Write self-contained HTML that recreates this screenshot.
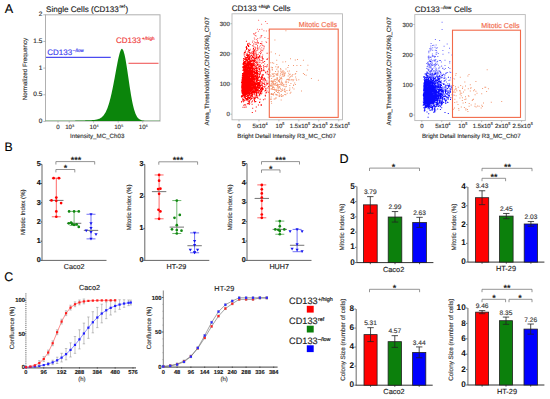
<!DOCTYPE html>
<html><head><meta charset="utf-8"><style>
html,body{margin:0;padding:0;background:#fff;width:550px;height:399px;overflow:hidden}
svg{display:block;font-family:"Liberation Sans", sans-serif}
text{text-rendering:geometricPrecision}
</style></head><body>
<svg width="550" height="399" viewBox="0 0 550 399" font-family='"Liberation Sans", sans-serif'>
<rect width="550" height="399" fill="#fff"/>
<text x="4.70" y="12.60" font-size="12.6" text-anchor="start" font-weight="normal" fill="#000" stroke="#000" stroke-width="0.14" >A</text>
<text x="4.50" y="150.90" font-size="12.3" text-anchor="start" font-weight="normal" fill="#000" stroke="#000" stroke-width="0.14" >B</text>
<text x="4.30" y="280.90" font-size="12.4" text-anchor="start" font-weight="normal" fill="#000" stroke="#000" stroke-width="0.14" >C</text>
<text x="339.60" y="162.90" font-size="12.6" text-anchor="start" font-weight="normal" fill="#000" stroke="#000" stroke-width="0.14" >D</text>
<rect x="45.50" y="14.80" width="114.50" height="106.30" fill="none" stroke="#b0b0b0" stroke-width="1" />
<text x="46.00" y="11.50" font-size="8.1" text-anchor="start" font-weight="normal" fill="#222" stroke="#222" stroke-width="0.14" >Single Cells (CD133</text>
<text x="119.60" y="8.40" font-size="4.6" text-anchor="start" font-weight="normal" fill="#222" stroke="#222" stroke-width="0.15" >ref</text>
<text x="125.60" y="11.50" font-size="8.1" text-anchor="start" font-weight="normal" fill="#222" stroke="#222" stroke-width="0.14" >)</text>
<line x1="43.30" y1="121.40" x2="45.50" y2="121.40" stroke="#999" stroke-width="0.7" />
<text x="42.40" y="123.00" font-size="6.5" text-anchor="end" font-weight="normal" fill="#333" stroke="#333" stroke-width="0.18" >0</text>
<line x1="43.30" y1="94.75" x2="45.50" y2="94.75" stroke="#999" stroke-width="0.7" />
<text x="42.40" y="96.35" font-size="6.5" text-anchor="end" font-weight="normal" fill="#333" stroke="#333" stroke-width="0.18" >0.5</text>
<line x1="43.30" y1="68.10" x2="45.50" y2="68.10" stroke="#999" stroke-width="0.7" />
<text x="42.40" y="69.70" font-size="6.5" text-anchor="end" font-weight="normal" fill="#333" stroke="#333" stroke-width="0.18" >1</text>
<line x1="43.30" y1="41.45" x2="45.50" y2="41.45" stroke="#999" stroke-width="0.7" />
<text x="42.40" y="43.05" font-size="6.5" text-anchor="end" font-weight="normal" fill="#333" stroke="#333" stroke-width="0.18" >1.5</text>
<line x1="43.30" y1="14.80" x2="45.50" y2="14.80" stroke="#999" stroke-width="0.7" />
<text x="42.40" y="16.40" font-size="6.5" text-anchor="end" font-weight="normal" fill="#333" stroke="#333" stroke-width="0.18" >2</text>
<line x1="58.00" y1="121.10" x2="58.00" y2="122.60" stroke="#999" stroke-width="0.7" />
<text x="58.00" y="129.30" font-size="6.2" text-anchor="middle" font-weight="normal" fill="#333" stroke="#333" stroke-width="0.14" >0</text>
<line x1="69.20" y1="121.10" x2="69.20" y2="122.60" stroke="#999" stroke-width="0.7" />
<text x="68.60" y="129.30" font-size="6.2" text-anchor="middle" font-weight="normal" fill="#333" stroke="#333" stroke-width="0.14" >10</text>
<text x="72.20" y="126.60" font-size="3.6" text-anchor="start" font-weight="normal" fill="#333" stroke="#333" stroke-width="0.1" >3</text>
<line x1="93.60" y1="121.10" x2="93.60" y2="122.60" stroke="#999" stroke-width="0.7" />
<text x="93.00" y="129.30" font-size="6.2" text-anchor="middle" font-weight="normal" fill="#333" stroke="#333" stroke-width="0.14" >10</text>
<text x="96.60" y="126.60" font-size="3.6" text-anchor="start" font-weight="normal" fill="#333" stroke="#333" stroke-width="0.1" >4</text>
<line x1="118.20" y1="121.10" x2="118.20" y2="122.60" stroke="#999" stroke-width="0.7" />
<text x="117.60" y="129.30" font-size="6.2" text-anchor="middle" font-weight="normal" fill="#333" stroke="#333" stroke-width="0.14" >10</text>
<text x="121.20" y="126.60" font-size="3.6" text-anchor="start" font-weight="normal" fill="#333" stroke="#333" stroke-width="0.1" >5</text>
<line x1="142.80" y1="121.10" x2="142.80" y2="122.60" stroke="#999" stroke-width="0.7" />
<text x="142.20" y="129.30" font-size="6.2" text-anchor="middle" font-weight="normal" fill="#333" stroke="#333" stroke-width="0.14" >10</text>
<text x="145.80" y="126.60" font-size="3.6" text-anchor="start" font-weight="normal" fill="#333" stroke="#333" stroke-width="0.1" >6</text>
<text x="97.20" y="138.00" font-size="6.2" text-anchor="middle" font-weight="normal" fill="#333" stroke="#333" stroke-width="0.14" >Intensity_MC_Ch03</text>
<text x="0" y="0" font-size="6.2" text-anchor="middle" font-weight="normal" fill="#333" stroke="#333" stroke-width="0.14" transform="translate(25.50,69.00) rotate(-90)" dominant-baseline="central">Normalized Frequency</text>
<path d="M45.50,121.10 L45.50,120.76 L46.00,120.76 L46.50,120.76 L47.00,120.76 L47.50,120.76 L48.00,120.76 L48.50,120.76 L49.00,120.76 L49.50,120.76 L50.00,120.76 L50.50,120.76 L51.00,120.76 L51.50,120.76 L52.00,120.76 L52.50,120.76 L53.00,120.76 L53.50,120.76 L54.00,120.76 L54.50,120.76 L55.00,120.76 L55.50,120.76 L56.00,120.76 L56.50,120.76 L57.00,120.76 L57.50,120.76 L58.00,120.76 L58.50,120.76 L59.00,120.75 L59.50,120.75 L60.00,120.75 L60.50,120.75 L61.00,120.75 L61.50,120.75 L62.00,120.75 L62.50,120.75 L63.00,120.75 L63.50,120.74 L64.00,120.74 L64.50,120.74 L65.00,120.74 L65.50,120.73 L66.00,120.73 L66.50,120.73 L67.00,120.73 L67.50,120.72 L68.00,120.72 L68.50,120.71 L69.00,120.71 L69.50,120.70 L70.00,120.70 L70.50,120.69 L71.00,120.69 L71.50,120.68 L72.00,120.68 L72.50,120.67 L73.00,120.66 L73.50,120.65 L74.00,120.65 L74.50,120.64 L75.00,120.63 L75.50,120.62 L76.00,120.61 L76.50,120.60 L77.00,120.59 L77.50,120.58 L78.00,120.56 L78.50,120.55 L79.00,120.54 L79.50,120.53 L80.00,120.52 L80.50,120.50 L81.00,120.49 L81.50,120.48 L82.00,120.46 L82.50,120.45 L83.00,120.43 L83.50,120.42 L84.00,120.41 L84.50,120.39 L85.00,120.38 L85.50,120.36 L86.00,120.35 L86.50,120.33 L87.00,120.32 L87.50,120.30 L88.00,120.28 L88.50,120.27 L89.00,120.25 L89.50,120.23 L90.00,120.21 L90.50,120.19 L91.00,120.17 L91.50,120.14 L92.00,120.11 L92.50,120.08 L93.00,120.05 L93.50,120.01 L94.00,119.96 L94.50,119.91 L95.00,119.85 L95.50,119.78 L96.00,119.70 L96.50,119.60 L97.00,119.49 L97.50,119.37 L98.00,119.23 L98.50,119.06 L99.00,118.87 L99.50,118.65 L100.00,118.41 L100.50,118.12 L101.00,117.80 L101.50,117.44 L102.00,117.03 L102.50,116.56 L103.00,116.04 L103.50,115.46 L104.00,114.81 L104.50,114.08 L105.00,113.28 L105.50,112.39 L106.00,111.42 L106.50,110.35 L107.00,109.18 L107.50,107.91 L108.00,106.52 L108.50,105.03 L109.00,103.42 L109.50,101.70 L110.00,99.86 L110.50,97.91 L111.00,95.84 L111.50,93.65 L112.00,91.37 L112.50,88.98 L113.00,86.50 L113.50,83.95 L114.00,81.32 L114.50,78.65 L115.00,75.93 L115.50,73.20 L116.00,70.48 L116.50,67.78 L117.00,65.13 L117.50,62.57 L118.00,60.12 L118.50,57.81 L119.00,55.67 L119.50,53.74 L120.00,52.06 L120.50,50.67 L121.00,49.61 L121.50,48.96 L122.00,48.84 L122.50,49.19 L123.00,49.94 L123.50,51.10 L124.00,52.64 L124.50,54.55 L125.00,56.80 L125.50,59.35 L126.00,62.16 L126.50,65.20 L127.00,68.40 L127.50,71.74 L128.00,75.15 L128.50,78.59 L129.00,82.02 L129.50,85.40 L130.00,88.70 L130.50,91.87 L131.00,94.90 L131.50,97.76 L132.00,100.43 L132.50,102.92 L133.00,105.20 L133.50,107.28 L134.00,109.15 L134.50,110.84 L135.00,112.33 L135.50,113.65 L136.00,114.80 L136.50,115.79 L137.00,116.65 L137.50,117.38 L138.00,118.00 L138.50,118.53 L139.00,118.96 L139.50,119.32 L140.00,119.62 L140.50,119.86 L141.00,120.05 L141.50,120.21 L142.00,120.33 L142.50,120.43 L143.00,120.51 L143.50,120.57 L144.00,120.62 L144.50,120.65 L145.00,120.68 L145.50,120.70 L146.00,120.72 L146.50,120.73 L147.00,120.74 L147.50,120.74 L148.00,120.75 L148.50,120.75 L149.00,120.75 L149.50,120.76 L150.00,120.76 L150.50,120.76 L151.00,120.76 L151.50,120.76 L152.00,120.76 L152.50,120.76 L153.00,120.76 L153.50,120.76 L154.00,120.76 L154.50,120.76 L155.00,120.76 L155.50,120.76 L156.00,120.76 L156.50,120.76 L157.00,120.76 L157.50,120.76 L158.00,120.76 L158.50,120.76 L159.00,120.76 L159.50,120.76 L160.00,120.76 L160.00,121.10 Z" fill="#0b850b" stroke="none"/>
<line x1="46.00" y1="57.40" x2="110.70" y2="57.40" stroke="#4b4bf0" stroke-width="1.1" />
<line x1="128.50" y1="63.30" x2="158.50" y2="63.30" stroke="#f05a5a" stroke-width="1.1" />
<text x="47.20" y="54.70" font-size="8.0" text-anchor="start" font-weight="normal" fill="#3a3aee" stroke="#3a3aee" stroke-width="0.14" >CD133</text>
<text x="72.80" y="52.30" font-size="4.65" text-anchor="start" font-weight="normal" fill="#3a3aee" stroke="#3a3aee" stroke-width="0.2" >&#8211;/low</text>
<text x="116.00" y="42.70" font-size="8.0" text-anchor="start" font-weight="normal" fill="#f03a3a" stroke="#f03a3a" stroke-width="0.14" >CD133</text>
<text x="142.10" y="40.00" font-size="4.55" text-anchor="start" font-weight="normal" fill="#f03a3a" stroke="#f03a3a" stroke-width="0.2" >+/high</text>
<rect x="232.00" y="13.80" width="110.50" height="106.00" fill="none" stroke="#b8b8b8" stroke-width="0.9" />
<line x1="230.40" y1="114.20" x2="232.00" y2="114.20" stroke="#999" stroke-width="0.6" />
<text x="229.80" y="116.30" font-size="6.1" text-anchor="end" font-weight="normal" fill="#333" stroke="#333" stroke-width="0.14" >0</text>
<line x1="230.40" y1="84.03" x2="232.00" y2="84.03" stroke="#999" stroke-width="0.6" />
<text x="229.80" y="86.13" font-size="6.1" text-anchor="end" font-weight="normal" fill="#333" stroke="#333" stroke-width="0.14" >100</text>
<line x1="230.40" y1="53.86" x2="232.00" y2="53.86" stroke="#999" stroke-width="0.6" />
<text x="229.80" y="55.96" font-size="6.1" text-anchor="end" font-weight="normal" fill="#333" stroke="#333" stroke-width="0.14" >200</text>
<line x1="230.40" y1="23.69" x2="232.00" y2="23.69" stroke="#999" stroke-width="0.6" />
<text x="229.80" y="25.79" font-size="6.1" text-anchor="end" font-weight="normal" fill="#333" stroke="#333" stroke-width="0.14" >300</text>
<line x1="239.00" y1="119.80" x2="239.00" y2="121.40" stroke="#999" stroke-width="0.6" />
<text x="239.00" y="127.60" font-size="6.0" text-anchor="middle" font-weight="normal" fill="#333" stroke="#333" stroke-width="0.14" >0</text>
<line x1="258.95" y1="119.80" x2="258.95" y2="121.40" stroke="#999" stroke-width="0.6" />
<text x="258.95" y="127.60" font-size="6.0" text-anchor="middle" font-weight="normal" fill="#333" stroke="#333" stroke-width="0.14" >5x10</text>
<text x="265.55" y="125.00" font-size="3.8" text-anchor="start" font-weight="normal" fill="#333" stroke="#333" stroke-width="0.12" >4</text>
<line x1="278.90" y1="119.80" x2="278.90" y2="121.40" stroke="#999" stroke-width="0.6" />
<text x="278.90" y="127.60" font-size="6.0" text-anchor="middle" font-weight="normal" fill="#333" stroke="#333" stroke-width="0.14" >10</text>
<text x="282.34" y="125.00" font-size="3.8" text-anchor="start" font-weight="normal" fill="#333" stroke="#333" stroke-width="0.12" >5</text>
<line x1="298.85" y1="119.80" x2="298.85" y2="121.40" stroke="#999" stroke-width="0.6" />
<text x="298.85" y="127.60" font-size="6.0" text-anchor="middle" font-weight="normal" fill="#333" stroke="#333" stroke-width="0.14" >1.5x10</text>
<text x="307.96" y="125.00" font-size="3.8" text-anchor="start" font-weight="normal" fill="#333" stroke="#333" stroke-width="0.12" >5</text>
<line x1="318.80" y1="119.80" x2="318.80" y2="121.40" stroke="#999" stroke-width="0.6" />
<text x="318.80" y="127.60" font-size="6.0" text-anchor="middle" font-weight="normal" fill="#333" stroke="#333" stroke-width="0.14" >2x10</text>
<text x="325.40" y="125.00" font-size="3.8" text-anchor="start" font-weight="normal" fill="#333" stroke="#333" stroke-width="0.12" >5</text>
<line x1="338.75" y1="119.80" x2="338.75" y2="121.40" stroke="#999" stroke-width="0.6" />
<text x="338.75" y="127.60" font-size="6.0" text-anchor="middle" font-weight="normal" fill="#333" stroke="#333" stroke-width="0.14" >2.5x10</text>
<text x="347.86" y="125.00" font-size="3.8" text-anchor="start" font-weight="normal" fill="#333" stroke="#333" stroke-width="0.12" >5</text>
<text x="237.30" y="138.00" font-size="6.15" text-anchor="start" font-weight="normal" fill="#333" stroke="#333" stroke-width="0.14" >Bright Detail Intensity R3_MC_Ch07</text>
<text x="0" y="0" font-size="6.15" text-anchor="middle" font-weight="normal" fill="#333" stroke="#333" stroke-width="0.14" transform="translate(207.00,71.30) rotate(-90)" dominant-baseline="central">Area_Threshold(M07,Ch07,50%)_Ch07</text>
<path d="M250.6 53.3h1v1h-1zM245.1 70.7h1v1h-1zM245.8 82.9h1v1h-1zM253.2 76.2h1v1h-1zM242.4 91.8h1v1h-1zM241.8 82.9h1v1h-1zM252.3 87.3h1v1h-1zM249.3 68.2h1v1h-1zM254.7 97.3h1v1h-1zM245.6 81.3h1v1h-1zM248.7 60.7h1v1h-1zM242.6 91.1h1v1h-1zM246.2 81.3h1v1h-1zM243.3 85.4h1v1h-1zM244.1 95.3h1v1h-1zM244.2 87.3h1v1h-1zM247.9 77.8h1v1h-1zM246.2 76.7h1v1h-1zM254.1 61.0h1v1h-1zM244.5 91.7h1v1h-1zM251.2 76.6h1v1h-1zM246.8 87.9h1v1h-1zM245.2 64.3h1v1h-1zM245.0 83.1h1v1h-1zM251.3 86.9h1v1h-1zM242.3 78.7h1v1h-1zM261.6 79.0h1v1h-1zM244.8 71.9h1v1h-1zM241.5 92.1h1v1h-1zM246.7 86.6h1v1h-1zM246.6 83.8h1v1h-1zM251.7 70.5h1v1h-1zM252.2 83.6h1v1h-1zM246.0 81.3h1v1h-1zM247.0 75.7h1v1h-1zM258.9 87.7h1v1h-1zM252.7 71.8h1v1h-1zM252.6 77.7h1v1h-1zM255.8 78.5h1v1h-1zM252.3 69.2h1v1h-1zM254.9 74.9h1v1h-1zM241.4 87.4h1v1h-1zM244.8 77.0h1v1h-1zM253.8 74.1h1v1h-1zM260.9 69.6h1v1h-1zM247.0 68.5h1v1h-1zM262.5 89.0h1v1h-1zM244.0 88.1h1v1h-1zM244.8 78.6h1v1h-1zM263.7 70.2h1v1h-1zM254.7 82.3h1v1h-1zM243.5 82.4h1v1h-1zM245.5 68.1h1v1h-1zM243.0 61.6h1v1h-1zM246.4 84.7h1v1h-1zM251.6 87.8h1v1h-1zM242.8 86.5h1v1h-1zM245.7 53.4h1v1h-1zM250.4 88.6h1v1h-1zM253.2 74.9h1v1h-1zM255.1 86.8h1v1h-1zM251.1 64.3h1v1h-1zM246.4 95.3h1v1h-1zM251.2 67.7h1v1h-1zM242.4 96.3h1v1h-1zM246.2 84.6h1v1h-1zM255.3 87.7h1v1h-1zM244.7 89.8h1v1h-1zM249.6 79.4h1v1h-1zM247.4 62.8h1v1h-1zM263.9 86.4h1v1h-1zM251.0 76.6h1v1h-1zM243.3 63.5h1v1h-1zM247.3 81.6h1v1h-1zM244.1 61.2h1v1h-1zM245.3 82.7h1v1h-1zM247.8 59.1h1v1h-1zM244.3 88.0h1v1h-1zM252.2 76.4h1v1h-1zM243.3 88.7h1v1h-1zM247.8 85.2h1v1h-1zM249.6 91.3h1v1h-1zM250.6 68.8h1v1h-1zM257.2 67.7h1v1h-1zM243.9 77.2h1v1h-1zM245.2 88.4h1v1h-1zM245.1 60.8h1v1h-1zM241.5 88.7h1v1h-1zM243.2 99.8h1v1h-1zM250.5 63.1h1v1h-1zM242.0 85.4h1v1h-1zM250.4 83.6h1v1h-1zM257.3 86.4h1v1h-1zM249.3 96.7h1v1h-1zM248.1 94.4h1v1h-1zM244.3 83.0h1v1h-1zM259.6 98.8h1v1h-1zM252.0 83.6h1v1h-1zM261.2 43.3h1v1h-1zM247.3 83.5h1v1h-1zM253.1 91.0h1v1h-1zM248.3 66.8h1v1h-1zM255.0 74.9h1v1h-1zM256.0 92.9h1v1h-1zM242.2 83.6h1v1h-1zM249.1 87.0h1v1h-1zM251.1 85.5h1v1h-1zM251.8 78.6h1v1h-1zM252.3 67.4h1v1h-1zM252.8 86.7h1v1h-1zM241.6 79.6h1v1h-1zM242.2 92.6h1v1h-1zM243.7 68.4h1v1h-1zM247.9 45.8h1v1h-1zM255.3 85.0h1v1h-1zM243.2 86.4h1v1h-1zM250.9 65.1h1v1h-1zM245.8 74.6h1v1h-1zM259.1 69.0h1v1h-1zM244.9 94.5h1v1h-1zM259.0 75.5h1v1h-1zM250.6 79.2h1v1h-1zM245.0 94.0h1v1h-1zM242.4 83.6h1v1h-1zM252.1 79.3h1v1h-1zM253.5 85.1h1v1h-1zM246.8 83.5h1v1h-1zM244.3 69.5h1v1h-1zM247.6 93.0h1v1h-1zM251.1 68.5h1v1h-1zM247.7 90.5h1v1h-1zM242.7 84.3h1v1h-1zM254.1 78.1h1v1h-1zM253.0 86.9h1v1h-1zM255.4 84.5h1v1h-1zM255.4 86.7h1v1h-1zM254.7 87.9h1v1h-1zM247.8 98.4h1v1h-1zM246.9 70.9h1v1h-1zM246.6 86.8h1v1h-1zM247.6 75.7h1v1h-1zM251.6 59.6h1v1h-1zM244.8 72.5h1v1h-1zM249.3 81.4h1v1h-1zM249.9 83.7h1v1h-1zM252.6 88.4h1v1h-1zM257.3 82.9h1v1h-1zM250.2 65.6h1v1h-1zM248.0 74.1h1v1h-1zM266.6 52.8h1v1h-1zM252.3 97.4h1v1h-1zM261.4 60.0h1v1h-1zM243.9 90.0h1v1h-1zM245.6 92.5h1v1h-1zM242.4 85.7h1v1h-1zM243.1 83.8h1v1h-1zM245.0 80.0h1v1h-1zM245.5 82.8h1v1h-1zM245.9 87.0h1v1h-1zM250.0 82.8h1v1h-1zM247.0 82.5h1v1h-1zM245.4 84.5h1v1h-1zM248.5 82.1h1v1h-1zM254.9 83.2h1v1h-1zM245.2 85.9h1v1h-1zM252.2 87.9h1v1h-1zM261.7 74.4h1v1h-1zM242.9 80.3h1v1h-1zM248.4 89.5h1v1h-1zM258.8 87.2h1v1h-1zM244.5 94.6h1v1h-1zM243.8 90.1h1v1h-1zM246.0 80.0h1v1h-1zM246.6 85.0h1v1h-1zM247.8 70.1h1v1h-1zM250.3 87.5h1v1h-1zM246.9 80.7h1v1h-1zM253.7 74.9h1v1h-1zM255.7 88.8h1v1h-1zM247.8 61.9h1v1h-1zM244.2 73.6h1v1h-1zM247.4 79.8h1v1h-1zM243.5 73.7h1v1h-1zM242.6 87.8h1v1h-1zM249.2 87.7h1v1h-1zM246.2 85.4h1v1h-1zM246.2 84.9h1v1h-1zM244.6 62.6h1v1h-1zM251.5 85.6h1v1h-1zM248.5 57.3h1v1h-1zM250.0 72.9h1v1h-1zM247.4 43.0h1v1h-1zM245.0 83.1h1v1h-1zM246.1 85.2h1v1h-1zM250.8 75.2h1v1h-1zM251.0 76.4h1v1h-1zM250.3 77.9h1v1h-1zM246.9 103.3h1v1h-1zM248.4 87.3h1v1h-1zM250.5 82.5h1v1h-1zM246.3 80.5h1v1h-1zM248.4 69.6h1v1h-1zM257.7 73.0h1v1h-1zM247.8 97.3h1v1h-1zM249.6 81.1h1v1h-1zM242.3 87.8h1v1h-1zM256.2 75.2h1v1h-1zM243.0 75.8h1v1h-1zM249.0 92.1h1v1h-1zM246.1 66.4h1v1h-1zM256.4 93.6h1v1h-1zM243.3 77.8h1v1h-1zM248.3 49.5h1v1h-1zM249.8 70.8h1v1h-1zM248.5 90.3h1v1h-1zM244.3 97.1h1v1h-1zM249.5 68.5h1v1h-1zM252.1 87.4h1v1h-1zM242.2 81.7h1v1h-1zM267.1 70.7h1v1h-1zM254.2 97.9h1v1h-1zM245.8 87.0h1v1h-1zM244.1 84.7h1v1h-1zM253.0 83.9h1v1h-1zM245.8 69.3h1v1h-1zM252.8 76.5h1v1h-1zM248.6 72.5h1v1h-1zM245.5 92.4h1v1h-1zM242.8 85.0h1v1h-1zM250.0 82.2h1v1h-1zM248.3 88.5h1v1h-1zM244.1 90.5h1v1h-1zM247.1 75.1h1v1h-1zM264.6 65.9h1v1h-1zM251.6 80.3h1v1h-1zM248.8 84.0h1v1h-1zM250.8 58.3h1v1h-1zM249.2 78.1h1v1h-1zM246.6 64.7h1v1h-1zM244.4 72.3h1v1h-1zM242.8 92.2h1v1h-1zM254.0 81.8h1v1h-1zM242.4 86.7h1v1h-1zM242.1 86.5h1v1h-1zM248.1 102.8h1v1h-1zM247.6 98.8h1v1h-1zM250.1 81.4h1v1h-1zM246.3 88.9h1v1h-1zM242.4 76.7h1v1h-1zM254.2 88.8h1v1h-1zM247.1 84.6h1v1h-1zM246.4 83.1h1v1h-1zM244.6 72.7h1v1h-1zM248.9 70.6h1v1h-1zM246.9 83.4h1v1h-1zM242.1 74.9h1v1h-1zM247.1 86.9h1v1h-1zM243.9 80.5h1v1h-1zM257.4 89.5h1v1h-1zM247.0 89.0h1v1h-1zM246.1 82.9h1v1h-1zM243.7 89.5h1v1h-1zM245.2 90.2h1v1h-1zM243.7 91.4h1v1h-1zM247.3 78.8h1v1h-1zM246.7 68.5h1v1h-1zM252.0 83.7h1v1h-1zM253.3 82.5h1v1h-1zM245.4 74.5h1v1h-1zM247.3 86.8h1v1h-1zM243.3 76.9h1v1h-1zM244.4 73.3h1v1h-1zM243.3 62.1h1v1h-1zM243.0 75.1h1v1h-1zM241.7 82.3h1v1h-1zM254.0 72.3h1v1h-1zM252.0 77.7h1v1h-1zM260.0 53.2h1v1h-1zM248.6 67.0h1v1h-1zM246.9 89.9h1v1h-1zM245.6 58.1h1v1h-1zM253.6 98.9h1v1h-1zM250.3 78.3h1v1h-1zM246.2 92.3h1v1h-1zM248.4 50.7h1v1h-1zM252.9 68.4h1v1h-1zM249.3 49.7h1v1h-1zM245.8 72.2h1v1h-1zM249.4 79.9h1v1h-1zM243.9 83.6h1v1h-1zM249.1 87.8h1v1h-1zM255.0 84.0h1v1h-1zM257.5 76.3h1v1h-1zM250.4 88.4h1v1h-1zM248.3 63.6h1v1h-1zM252.3 64.1h1v1h-1zM247.5 90.1h1v1h-1zM246.7 75.4h1v1h-1zM246.9 68.9h1v1h-1zM245.5 82.8h1v1h-1zM247.0 84.2h1v1h-1zM247.1 43.9h1v1h-1zM243.3 81.9h1v1h-1zM248.7 80.5h1v1h-1zM242.7 87.7h1v1h-1zM247.4 87.4h1v1h-1zM242.4 81.8h1v1h-1zM262.8 74.2h1v1h-1zM242.4 74.3h1v1h-1zM256.7 88.7h1v1h-1zM241.3 85.4h1v1h-1zM260.2 91.8h1v1h-1zM247.2 82.7h1v1h-1zM243.0 84.6h1v1h-1zM257.7 42.5h1v1h-1zM244.7 92.4h1v1h-1zM252.8 83.5h1v1h-1zM246.1 73.8h1v1h-1zM243.7 72.3h1v1h-1zM249.9 85.2h1v1h-1zM243.1 94.8h1v1h-1zM249.2 80.3h1v1h-1zM249.7 82.5h1v1h-1zM247.3 87.1h1v1h-1zM246.0 73.8h1v1h-1zM246.9 78.2h1v1h-1zM252.2 86.6h1v1h-1zM268.9 84.6h1v1h-1zM249.1 92.8h1v1h-1zM248.1 88.4h1v1h-1zM248.4 64.3h1v1h-1zM243.0 67.3h1v1h-1zM251.6 74.8h1v1h-1zM245.9 87.2h1v1h-1zM247.2 89.3h1v1h-1zM244.8 91.3h1v1h-1zM259.4 81.0h1v1h-1zM254.8 96.8h1v1h-1zM248.1 88.4h1v1h-1zM252.4 84.2h1v1h-1zM258.6 88.1h1v1h-1zM257.7 86.9h1v1h-1zM248.7 56.6h1v1h-1zM251.7 95.2h1v1h-1zM244.4 81.3h1v1h-1zM245.9 89.3h1v1h-1zM251.3 82.7h1v1h-1zM248.3 90.5h1v1h-1zM246.6 90.9h1v1h-1zM247.2 74.0h1v1h-1zM245.3 61.3h1v1h-1zM248.2 85.5h1v1h-1zM247.4 69.4h1v1h-1zM265.1 72.2h1v1h-1zM256.6 76.7h1v1h-1zM245.5 89.7h1v1h-1zM245.6 85.3h1v1h-1zM243.5 82.3h1v1h-1zM247.5 90.2h1v1h-1zM249.9 88.3h1v1h-1zM244.0 67.3h1v1h-1zM246.6 78.6h1v1h-1zM243.3 62.1h1v1h-1zM246.7 72.2h1v1h-1zM261.8 88.8h1v1h-1zM248.3 85.0h1v1h-1zM244.6 81.9h1v1h-1zM247.5 76.8h1v1h-1zM260.4 81.5h1v1h-1zM244.1 71.6h1v1h-1zM245.2 56.8h1v1h-1zM251.0 75.0h1v1h-1zM242.3 82.2h1v1h-1zM250.2 90.3h1v1h-1zM243.8 94.4h1v1h-1zM247.3 91.5h1v1h-1zM260.9 90.0h1v1h-1zM244.0 78.8h1v1h-1zM243.2 86.3h1v1h-1zM249.0 82.8h1v1h-1zM245.7 75.2h1v1h-1zM248.5 94.5h1v1h-1zM249.9 77.9h1v1h-1zM244.7 82.8h1v1h-1zM245.3 75.8h1v1h-1zM241.3 90.5h1v1h-1zM251.2 92.7h1v1h-1zM251.5 82.5h1v1h-1zM244.2 65.6h1v1h-1zM259.2 82.1h1v1h-1zM254.3 72.9h1v1h-1zM246.0 85.8h1v1h-1zM252.1 79.1h1v1h-1zM256.2 78.4h1v1h-1zM242.6 99.7h1v1h-1zM256.9 78.9h1v1h-1zM246.5 75.7h1v1h-1zM243.8 75.6h1v1h-1zM250.4 80.0h1v1h-1zM243.0 67.5h1v1h-1zM253.4 87.1h1v1h-1zM251.3 77.0h1v1h-1zM244.9 69.5h1v1h-1zM251.6 68.6h1v1h-1zM250.9 80.3h1v1h-1zM245.6 72.1h1v1h-1zM250.6 92.9h1v1h-1zM251.2 70.2h1v1h-1zM246.0 66.9h1v1h-1zM245.8 84.5h1v1h-1zM245.7 65.3h1v1h-1zM250.8 91.9h1v1h-1zM254.0 91.4h1v1h-1zM264.9 79.8h1v1h-1zM250.6 70.9h1v1h-1zM248.7 81.9h1v1h-1zM245.4 86.2h1v1h-1zM264.4 90.5h1v1h-1zM255.8 95.4h1v1h-1zM245.2 94.1h1v1h-1zM247.5 70.6h1v1h-1zM256.6 69.5h1v1h-1zM250.4 84.2h1v1h-1zM242.6 85.7h1v1h-1zM250.5 80.0h1v1h-1zM243.2 72.0h1v1h-1zM259.4 71.4h1v1h-1zM245.1 72.3h1v1h-1zM248.7 89.5h1v1h-1zM253.0 47.9h1v1h-1zM247.3 69.1h1v1h-1zM248.8 101.4h1v1h-1zM251.9 77.0h1v1h-1zM243.2 90.3h1v1h-1zM261.9 87.0h1v1h-1zM244.1 61.9h1v1h-1zM247.1 71.0h1v1h-1zM254.3 71.5h1v1h-1zM243.7 85.7h1v1h-1zM258.9 76.3h1v1h-1zM249.9 76.0h1v1h-1zM244.9 73.3h1v1h-1zM254.3 71.5h1v1h-1zM242.7 93.3h1v1h-1zM246.5 83.7h1v1h-1zM247.0 90.1h1v1h-1zM258.9 83.5h1v1h-1zM252.0 69.9h1v1h-1zM248.9 82.6h1v1h-1zM254.9 88.7h1v1h-1zM243.9 76.8h1v1h-1zM248.5 77.1h1v1h-1zM248.0 49.2h1v1h-1zM243.3 88.8h1v1h-1zM251.2 61.0h1v1h-1zM249.0 83.2h1v1h-1zM252.9 51.2h1v1h-1zM251.3 90.7h1v1h-1zM244.5 79.4h1v1h-1zM247.2 95.4h1v1h-1zM244.0 84.1h1v1h-1zM259.4 87.6h1v1h-1zM248.3 82.7h1v1h-1zM248.5 84.2h1v1h-1zM252.1 64.5h1v1h-1zM248.2 95.0h1v1h-1zM264.2 84.0h1v1h-1zM249.1 100.6h1v1h-1zM244.8 88.1h1v1h-1zM243.0 93.3h1v1h-1zM250.1 67.1h1v1h-1zM252.5 76.2h1v1h-1zM247.9 82.1h1v1h-1zM247.6 83.5h1v1h-1zM248.8 97.0h1v1h-1zM246.3 87.1h1v1h-1zM263.3 68.5h1v1h-1zM259.3 92.5h1v1h-1zM245.8 71.7h1v1h-1zM242.5 81.1h1v1h-1zM245.9 98.1h1v1h-1zM257.2 78.9h1v1h-1zM242.4 91.1h1v1h-1zM258.5 91.1h1v1h-1zM248.8 92.7h1v1h-1zM242.2 75.2h1v1h-1zM257.9 83.6h1v1h-1zM245.9 93.5h1v1h-1zM246.6 69.6h1v1h-1zM247.5 65.4h1v1h-1zM248.8 78.4h1v1h-1zM244.4 82.2h1v1h-1zM242.4 79.6h1v1h-1zM247.4 84.7h1v1h-1zM246.0 48.1h1v1h-1zM257.2 85.3h1v1h-1zM245.1 98.0h1v1h-1zM250.4 70.9h1v1h-1zM250.0 86.3h1v1h-1zM255.5 83.6h1v1h-1zM249.2 69.2h1v1h-1zM249.9 65.0h1v1h-1zM245.3 84.9h1v1h-1zM243.4 83.1h1v1h-1zM252.7 81.5h1v1h-1zM243.2 68.2h1v1h-1zM247.1 90.5h1v1h-1zM248.7 85.1h1v1h-1zM245.8 86.0h1v1h-1zM249.2 81.3h1v1h-1zM258.9 86.7h1v1h-1zM247.2 75.2h1v1h-1zM248.0 74.4h1v1h-1zM248.1 92.3h1v1h-1zM247.2 84.2h1v1h-1zM253.7 75.7h1v1h-1zM244.7 94.3h1v1h-1zM247.5 89.3h1v1h-1zM251.7 80.4h1v1h-1zM250.8 87.3h1v1h-1zM247.1 81.6h1v1h-1zM250.7 83.0h1v1h-1zM252.1 59.5h1v1h-1zM246.1 91.1h1v1h-1zM245.4 92.5h1v1h-1zM252.6 73.8h1v1h-1zM245.6 82.1h1v1h-1zM248.2 88.7h1v1h-1zM250.5 90.6h1v1h-1zM245.7 82.2h1v1h-1zM245.8 76.6h1v1h-1zM252.9 89.7h1v1h-1zM266.6 83.2h1v1h-1zM242.8 83.8h1v1h-1zM245.2 85.6h1v1h-1zM254.5 96.6h1v1h-1zM248.5 84.6h1v1h-1zM251.5 86.0h1v1h-1zM246.0 65.7h1v1h-1zM247.9 89.1h1v1h-1zM244.2 79.2h1v1h-1zM246.7 85.5h1v1h-1zM242.2 98.2h1v1h-1zM254.2 83.9h1v1h-1zM253.5 78.3h1v1h-1zM251.1 71.0h1v1h-1zM245.0 83.3h1v1h-1zM251.0 88.9h1v1h-1zM249.2 82.7h1v1h-1zM252.9 82.3h1v1h-1zM248.9 63.0h1v1h-1zM251.0 65.6h1v1h-1zM259.3 83.9h1v1h-1zM262.4 87.8h1v1h-1zM256.3 97.0h1v1h-1zM247.1 55.5h1v1h-1zM250.0 72.9h1v1h-1zM245.9 40.8h1v1h-1zM257.2 89.9h1v1h-1zM244.0 88.6h1v1h-1zM248.3 77.6h1v1h-1zM251.3 73.6h1v1h-1zM246.2 93.5h1v1h-1zM245.2 91.2h1v1h-1zM241.9 88.8h1v1h-1zM243.9 82.6h1v1h-1zM246.0 83.9h1v1h-1zM251.6 86.5h1v1h-1zM244.2 81.7h1v1h-1zM244.9 94.7h1v1h-1zM244.4 79.7h1v1h-1zM263.6 77.5h1v1h-1zM247.7 72.8h1v1h-1zM243.7 65.3h1v1h-1zM242.1 77.8h1v1h-1zM246.2 81.2h1v1h-1zM249.0 86.3h1v1h-1zM250.7 77.6h1v1h-1zM244.3 81.1h1v1h-1zM252.2 76.6h1v1h-1zM241.9 81.2h1v1h-1zM263.8 77.6h1v1h-1zM245.5 85.8h1v1h-1zM244.4 82.9h1v1h-1zM246.8 86.8h1v1h-1zM249.1 90.6h1v1h-1zM244.3 92.7h1v1h-1zM254.7 87.3h1v1h-1zM245.5 87.8h1v1h-1zM247.1 84.7h1v1h-1zM244.8 61.4h1v1h-1zM251.4 87.0h1v1h-1zM251.4 72.4h1v1h-1zM247.3 88.2h1v1h-1zM253.3 65.2h1v1h-1zM248.6 75.1h1v1h-1zM245.6 76.5h1v1h-1zM244.4 87.7h1v1h-1zM241.0 96.5h1v1h-1zM242.5 93.4h1v1h-1zM248.7 80.9h1v1h-1zM246.0 89.7h1v1h-1zM256.6 76.4h1v1h-1zM251.7 90.1h1v1h-1zM249.7 63.7h1v1h-1zM250.7 73.1h1v1h-1zM241.7 90.7h1v1h-1zM243.3 85.3h1v1h-1zM251.7 70.8h1v1h-1zM257.9 88.5h1v1h-1zM241.5 80.2h1v1h-1zM250.2 69.0h1v1h-1zM252.2 72.3h1v1h-1zM248.1 83.8h1v1h-1zM248.0 71.1h1v1h-1zM247.6 69.5h1v1h-1zM247.6 84.7h1v1h-1zM248.0 85.7h1v1h-1zM241.4 86.2h1v1h-1zM243.9 75.9h1v1h-1zM253.5 82.0h1v1h-1zM251.7 77.0h1v1h-1zM242.3 78.1h1v1h-1zM251.3 85.8h1v1h-1zM252.4 86.7h1v1h-1zM246.4 77.4h1v1h-1zM249.1 82.6h1v1h-1zM245.3 78.2h1v1h-1zM257.0 88.5h1v1h-1zM254.2 93.5h1v1h-1zM244.0 84.6h1v1h-1zM252.5 84.4h1v1h-1zM251.4 91.7h1v1h-1zM251.2 101.4h1v1h-1zM254.3 60.4h1v1h-1zM248.1 64.5h1v1h-1zM260.7 66.3h1v1h-1zM247.0 94.4h1v1h-1zM259.6 79.5h1v1h-1zM246.9 85.4h1v1h-1zM244.2 63.5h1v1h-1zM246.5 60.1h1v1h-1zM246.3 73.0h1v1h-1zM252.3 82.9h1v1h-1zM242.7 83.5h1v1h-1zM241.5 85.8h1v1h-1zM247.7 80.5h1v1h-1zM246.6 83.9h1v1h-1zM250.7 75.7h1v1h-1zM247.6 78.8h1v1h-1zM254.5 56.4h1v1h-1zM254.3 68.4h1v1h-1zM256.0 68.0h1v1h-1zM258.8 87.0h1v1h-1zM243.8 83.5h1v1h-1zM247.9 84.0h1v1h-1zM246.5 77.7h1v1h-1zM240.9 95.7h1v1h-1zM245.3 84.3h1v1h-1zM253.4 78.6h1v1h-1zM245.1 84.6h1v1h-1zM243.5 90.5h1v1h-1zM247.0 81.1h1v1h-1zM256.9 81.5h1v1h-1zM243.9 83.0h1v1h-1zM243.4 85.9h1v1h-1zM259.0 69.1h1v1h-1zM249.8 64.6h1v1h-1zM246.8 73.5h1v1h-1zM243.7 62.3h1v1h-1zM247.6 85.2h1v1h-1zM241.8 82.7h1v1h-1zM251.2 79.2h1v1h-1zM244.1 86.0h1v1h-1zM248.2 81.0h1v1h-1zM261.2 70.5h1v1h-1zM244.0 100.2h1v1h-1zM246.4 73.9h1v1h-1zM242.9 73.7h1v1h-1zM253.4 53.6h1v1h-1zM242.2 82.4h1v1h-1zM247.2 84.9h1v1h-1zM246.2 93.9h1v1h-1zM245.3 83.3h1v1h-1zM242.0 80.0h1v1h-1zM256.6 90.4h1v1h-1zM255.4 90.7h1v1h-1zM251.6 57.3h1v1h-1zM242.2 88.7h1v1h-1zM253.1 57.6h1v1h-1zM248.8 83.2h1v1h-1zM244.7 82.7h1v1h-1zM242.8 80.9h1v1h-1zM249.5 99.4h1v1h-1zM246.3 88.9h1v1h-1zM248.0 85.8h1v1h-1zM243.4 79.2h1v1h-1zM252.3 67.7h1v1h-1zM244.7 83.5h1v1h-1zM247.4 70.5h1v1h-1zM245.7 67.4h1v1h-1zM244.9 87.7h1v1h-1zM245.2 83.5h1v1h-1zM248.5 94.5h1v1h-1zM249.5 78.1h1v1h-1zM252.8 75.7h1v1h-1zM245.3 71.7h1v1h-1zM262.9 99.3h1v1h-1zM251.2 72.4h1v1h-1zM255.6 89.8h1v1h-1zM255.2 59.7h1v1h-1zM243.6 68.9h1v1h-1zM259.7 90.4h1v1h-1zM251.5 62.4h1v1h-1zM254.2 83.5h1v1h-1zM241.6 90.2h1v1h-1zM246.7 79.9h1v1h-1zM243.0 62.6h1v1h-1zM263.2 66.7h1v1h-1zM259.5 59.8h1v1h-1zM242.5 67.3h1v1h-1zM245.4 90.0h1v1h-1zM245.9 81.3h1v1h-1zM250.5 70.4h1v1h-1zM246.6 65.5h1v1h-1zM251.1 83.6h1v1h-1zM244.0 61.0h1v1h-1zM250.4 94.9h1v1h-1zM246.3 47.4h1v1h-1zM247.3 77.5h1v1h-1zM245.2 104.4h1v1h-1zM253.8 72.7h1v1h-1zM250.8 83.6h1v1h-1zM255.5 76.7h1v1h-1zM248.4 77.4h1v1h-1zM243.2 91.5h1v1h-1zM246.1 84.4h1v1h-1zM246.5 67.8h1v1h-1zM246.4 87.1h1v1h-1zM242.4 82.2h1v1h-1zM244.9 79.2h1v1h-1zM261.6 88.6h1v1h-1zM242.1 78.4h1v1h-1zM244.8 93.8h1v1h-1zM255.5 85.9h1v1h-1zM242.2 99.4h1v1h-1zM243.0 75.8h1v1h-1zM248.5 73.3h1v1h-1zM242.3 90.1h1v1h-1zM245.2 87.6h1v1h-1zM242.6 63.1h1v1h-1zM254.9 90.8h1v1h-1zM248.6 82.9h1v1h-1zM242.8 87.3h1v1h-1zM255.4 85.9h1v1h-1zM242.8 83.3h1v1h-1zM252.9 75.4h1v1h-1zM251.1 82.6h1v1h-1zM245.8 84.0h1v1h-1zM242.3 75.5h1v1h-1zM261.8 85.3h1v1h-1zM247.6 67.3h1v1h-1zM248.7 42.7h1v1h-1zM268.1 85.9h1v1h-1zM253.8 78.3h1v1h-1zM243.9 78.7h1v1h-1zM247.9 82.8h1v1h-1zM244.6 69.4h1v1h-1zM251.5 91.8h1v1h-1zM243.8 93.4h1v1h-1zM253.5 65.1h1v1h-1zM248.5 72.0h1v1h-1zM242.9 73.1h1v1h-1zM242.3 76.3h1v1h-1zM250.6 82.8h1v1h-1zM245.4 83.2h1v1h-1zM266.2 82.4h1v1h-1zM247.2 71.5h1v1h-1zM245.9 81.1h1v1h-1zM256.8 82.7h1v1h-1zM262.9 74.6h1v1h-1zM250.8 92.3h1v1h-1zM251.1 74.5h1v1h-1zM246.7 90.4h1v1h-1zM251.3 65.6h1v1h-1zM251.7 62.6h1v1h-1zM243.9 75.3h1v1h-1zM250.6 88.3h1v1h-1zM244.4 78.3h1v1h-1zM249.8 66.6h1v1h-1zM249.2 70.8h1v1h-1zM250.1 80.1h1v1h-1zM248.2 64.1h1v1h-1zM249.0 80.3h1v1h-1zM247.7 73.5h1v1h-1zM257.1 70.3h1v1h-1zM251.8 62.8h1v1h-1zM255.0 76.0h1v1h-1zM249.8 73.9h1v1h-1zM254.8 82.6h1v1h-1zM248.0 85.4h1v1h-1zM243.9 81.9h1v1h-1zM249.8 84.7h1v1h-1zM259.4 77.1h1v1h-1zM245.3 92.4h1v1h-1zM242.6 76.8h1v1h-1zM244.9 80.1h1v1h-1zM251.2 86.6h1v1h-1zM248.1 58.1h1v1h-1zM247.8 84.4h1v1h-1zM247.2 86.0h1v1h-1zM250.6 73.8h1v1h-1zM242.3 81.7h1v1h-1zM242.3 76.0h1v1h-1zM242.3 82.9h1v1h-1zM264.5 79.7h1v1h-1zM247.2 77.3h1v1h-1zM245.1 73.1h1v1h-1zM243.1 79.3h1v1h-1zM249.1 92.5h1v1h-1zM257.1 75.2h1v1h-1zM250.5 65.3h1v1h-1zM257.9 77.0h1v1h-1zM253.3 63.1h1v1h-1zM257.6 42.2h1v1h-1zM243.1 82.2h1v1h-1zM244.2 95.9h1v1h-1zM260.7 90.0h1v1h-1zM257.9 77.0h1v1h-1zM246.0 90.3h1v1h-1zM247.1 90.3h1v1h-1zM247.3 83.1h1v1h-1zM249.1 63.3h1v1h-1zM243.1 87.1h1v1h-1zM249.4 72.2h1v1h-1zM252.0 100.6h1v1h-1zM241.4 83.3h1v1h-1zM242.5 95.1h1v1h-1zM249.1 85.8h1v1h-1zM243.2 73.4h1v1h-1zM251.2 80.6h1v1h-1zM248.8 64.0h1v1h-1zM268.3 74.3h1v1h-1zM250.1 83.7h1v1h-1zM254.6 61.4h1v1h-1zM249.1 64.3h1v1h-1zM254.7 76.3h1v1h-1zM248.2 76.2h1v1h-1zM257.5 90.0h1v1h-1zM248.0 90.6h1v1h-1zM250.4 79.4h1v1h-1zM248.5 88.4h1v1h-1zM245.7 81.5h1v1h-1zM261.3 83.5h1v1h-1zM247.4 75.9h1v1h-1zM245.6 81.8h1v1h-1zM250.7 81.8h1v1h-1zM247.5 84.8h1v1h-1zM246.1 56.9h1v1h-1zM252.1 70.5h1v1h-1zM248.4 100.4h1v1h-1zM252.0 87.5h1v1h-1zM248.4 81.5h1v1h-1zM243.7 91.0h1v1h-1zM255.9 91.6h1v1h-1zM251.4 83.7h1v1h-1zM244.1 88.0h1v1h-1zM247.6 74.5h1v1h-1zM247.6 76.8h1v1h-1zM246.5 85.6h1v1h-1zM254.6 98.2h1v1h-1zM251.4 77.5h1v1h-1zM242.0 73.1h1v1h-1zM253.6 76.8h1v1h-1zM247.9 76.3h1v1h-1zM245.1 80.4h1v1h-1zM246.1 88.8h1v1h-1zM244.7 74.6h1v1h-1zM247.1 63.0h1v1h-1zM243.0 78.5h1v1h-1zM249.6 75.0h1v1h-1zM241.8 95.4h1v1h-1zM247.7 83.8h1v1h-1zM243.1 76.3h1v1h-1zM255.7 92.0h1v1h-1zM244.0 82.0h1v1h-1zM245.8 80.3h1v1h-1zM248.9 78.4h1v1h-1zM250.8 70.8h1v1h-1zM253.8 80.5h1v1h-1zM253.6 71.3h1v1h-1zM245.2 73.0h1v1h-1zM245.3 77.5h1v1h-1zM248.6 81.3h1v1h-1zM247.3 79.7h1v1h-1zM249.3 79.1h1v1h-1zM248.7 65.8h1v1h-1zM259.1 82.6h1v1h-1zM245.5 65.0h1v1h-1zM244.2 85.2h1v1h-1zM248.2 90.0h1v1h-1zM248.7 77.7h1v1h-1zM255.8 80.2h1v1h-1zM243.2 84.8h1v1h-1zM252.2 85.3h1v1h-1zM243.4 63.9h1v1h-1zM243.3 75.3h1v1h-1zM255.0 74.8h1v1h-1zM246.0 86.9h1v1h-1zM264.3 81.4h1v1h-1zM250.4 85.2h1v1h-1zM258.3 66.8h1v1h-1zM249.9 61.3h1v1h-1zM243.2 64.4h1v1h-1zM255.3 91.9h1v1h-1zM253.5 77.7h1v1h-1zM256.0 80.0h1v1h-1zM242.3 89.5h1v1h-1zM242.4 89.3h1v1h-1zM247.3 61.5h1v1h-1zM251.4 90.7h1v1h-1zM242.5 82.8h1v1h-1zM244.0 78.8h1v1h-1zM250.8 87.4h1v1h-1zM257.0 73.8h1v1h-1zM256.4 75.4h1v1h-1zM259.0 101.9h1v1h-1zM253.6 61.1h1v1h-1zM247.0 91.6h1v1h-1zM249.6 88.5h1v1h-1zM241.3 85.7h1v1h-1zM257.9 83.3h1v1h-1zM258.8 89.9h1v1h-1zM249.6 86.4h1v1h-1zM254.1 58.3h1v1h-1zM243.7 81.0h1v1h-1zM242.8 73.8h1v1h-1zM243.0 101.3h1v1h-1zM248.4 67.1h1v1h-1zM255.0 71.9h1v1h-1zM247.6 83.3h1v1h-1zM252.2 77.1h1v1h-1zM242.5 91.6h1v1h-1zM249.7 82.9h1v1h-1zM242.9 74.0h1v1h-1zM244.0 93.5h1v1h-1zM244.6 96.6h1v1h-1zM252.3 86.4h1v1h-1zM251.3 91.1h1v1h-1zM247.9 56.3h1v1h-1zM245.8 69.9h1v1h-1zM243.1 57.9h1v1h-1zM248.2 80.2h1v1h-1zM249.0 84.8h1v1h-1zM246.5 82.2h1v1h-1zM245.9 58.4h1v1h-1zM249.1 79.9h1v1h-1zM254.9 71.9h1v1h-1zM253.0 91.4h1v1h-1zM245.0 73.1h1v1h-1zM252.1 77.7h1v1h-1zM249.9 63.2h1v1h-1zM251.6 85.5h1v1h-1zM249.2 81.0h1v1h-1zM260.5 87.9h1v1h-1zM245.4 71.5h1v1h-1zM248.7 87.1h1v1h-1zM251.2 77.5h1v1h-1zM245.6 99.5h1v1h-1zM245.6 93.3h1v1h-1zM242.9 87.6h1v1h-1zM248.3 46.0h1v1h-1zM246.1 81.0h1v1h-1zM249.6 44.0h1v1h-1zM241.9 78.7h1v1h-1zM248.9 80.9h1v1h-1zM248.2 85.1h1v1h-1zM244.4 86.2h1v1h-1zM245.9 84.9h1v1h-1zM244.0 83.9h1v1h-1zM251.6 92.9h1v1h-1zM251.6 76.5h1v1h-1zM247.8 86.2h1v1h-1zM244.9 80.0h1v1h-1zM243.4 98.7h1v1h-1zM242.3 82.8h1v1h-1zM243.4 90.2h1v1h-1zM245.5 89.5h1v1h-1zM247.6 64.3h1v1h-1zM258.0 56.4h1v1h-1zM260.5 85.0h1v1h-1zM245.1 89.8h1v1h-1zM245.1 89.6h1v1h-1zM244.3 86.4h1v1h-1zM244.2 88.2h1v1h-1zM241.8 89.6h1v1h-1zM243.0 59.7h1v1h-1zM246.0 85.9h1v1h-1zM243.7 75.3h1v1h-1zM254.9 82.6h1v1h-1zM252.2 107.8h1v1h-1zM245.3 77.7h1v1h-1zM256.1 87.3h1v1h-1zM248.8 52.0h1v1h-1zM242.9 82.9h1v1h-1zM244.3 70.8h1v1h-1zM244.0 81.5h1v1h-1zM244.5 68.1h1v1h-1zM256.4 67.2h1v1h-1zM245.9 93.1h1v1h-1zM250.5 84.8h1v1h-1zM241.8 80.3h1v1h-1zM248.1 79.2h1v1h-1zM256.2 70.1h1v1h-1zM247.3 92.8h1v1h-1zM257.2 76.4h1v1h-1zM255.8 95.1h1v1h-1zM249.7 52.4h1v1h-1zM244.9 88.3h1v1h-1zM246.9 74.4h1v1h-1zM242.8 74.8h1v1h-1zM248.9 84.0h1v1h-1zM244.8 84.2h1v1h-1zM246.4 79.4h1v1h-1zM250.1 82.2h1v1h-1zM256.1 75.9h1v1h-1zM250.3 87.6h1v1h-1zM242.0 86.2h1v1h-1zM251.9 80.7h1v1h-1zM242.6 87.4h1v1h-1zM266.9 83.4h1v1h-1zM248.4 64.0h1v1h-1zM247.3 69.9h1v1h-1zM246.0 67.2h1v1h-1zM244.6 61.5h1v1h-1zM250.1 60.2h1v1h-1zM246.8 67.1h1v1h-1zM246.6 93.4h1v1h-1zM251.7 72.7h1v1h-1zM251.8 112.1h1v1h-1zM243.4 79.5h1v1h-1zM258.3 87.6h1v1h-1zM241.5 84.6h1v1h-1zM243.4 72.6h1v1h-1zM243.5 82.9h1v1h-1zM252.6 86.5h1v1h-1zM255.8 82.4h1v1h-1zM258.6 95.3h1v1h-1zM250.9 77.8h1v1h-1zM266.4 90.6h1v1h-1zM244.7 83.4h1v1h-1zM247.7 100.8h1v1h-1zM253.7 68.7h1v1h-1zM247.2 61.7h1v1h-1zM256.3 78.9h1v1h-1zM256.9 40.5h1v1h-1zM254.6 83.1h1v1h-1zM263.9 83.6h1v1h-1zM251.8 88.6h1v1h-1zM244.6 91.7h1v1h-1zM250.0 91.0h1v1h-1zM247.4 90.6h1v1h-1zM242.9 69.2h1v1h-1zM243.4 70.2h1v1h-1zM244.5 74.4h1v1h-1zM246.9 83.7h1v1h-1zM256.2 82.2h1v1h-1zM248.6 79.2h1v1h-1zM250.5 77.6h1v1h-1zM255.7 56.7h1v1h-1zM245.6 78.9h1v1h-1zM254.3 97.0h1v1h-1zM250.9 57.8h1v1h-1zM253.1 68.5h1v1h-1zM248.9 66.4h1v1h-1zM245.1 84.1h1v1h-1zM248.0 89.4h1v1h-1zM243.4 88.0h1v1h-1zM243.9 91.8h1v1h-1zM249.5 79.7h1v1h-1zM252.4 64.7h1v1h-1zM245.0 88.5h1v1h-1zM256.2 83.4h1v1h-1zM246.0 46.9h1v1h-1zM246.3 68.9h1v1h-1zM248.3 89.3h1v1h-1zM247.6 71.1h1v1h-1zM246.5 67.4h1v1h-1zM260.7 90.9h1v1h-1zM245.6 86.5h1v1h-1zM249.9 87.1h1v1h-1zM245.3 67.0h1v1h-1zM248.7 67.7h1v1h-1zM252.1 92.2h1v1h-1zM256.0 68.6h1v1h-1zM249.2 83.0h1v1h-1zM245.1 85.4h1v1h-1zM265.4 87.8h1v1h-1zM247.7 82.6h1v1h-1zM257.8 68.5h1v1h-1zM244.7 98.3h1v1h-1zM246.4 89.1h1v1h-1zM250.5 65.6h1v1h-1zM255.5 78.2h1v1h-1zM244.7 62.9h1v1h-1zM253.6 84.1h1v1h-1zM248.7 78.1h1v1h-1zM245.1 91.0h1v1h-1zM251.0 78.0h1v1h-1zM243.1 85.5h1v1h-1zM242.2 79.6h1v1h-1zM246.8 68.9h1v1h-1zM244.3 79.7h1v1h-1zM249.7 62.0h1v1h-1zM244.0 72.0h1v1h-1zM250.6 74.0h1v1h-1zM247.7 84.9h1v1h-1zM248.5 78.7h1v1h-1zM249.2 55.5h1v1h-1zM259.2 55.1h1v1h-1zM249.3 82.5h1v1h-1zM244.8 91.4h1v1h-1zM248.8 69.3h1v1h-1zM245.4 88.8h1v1h-1zM249.6 75.4h1v1h-1zM245.2 89.5h1v1h-1zM242.0 93.3h1v1h-1zM246.9 82.5h1v1h-1zM244.9 85.8h1v1h-1zM246.5 82.4h1v1h-1zM249.6 83.4h1v1h-1zM254.0 92.3h1v1h-1zM243.9 52.0h1v1h-1zM246.1 69.4h1v1h-1zM241.6 90.3h1v1h-1zM250.0 91.3h1v1h-1zM253.3 54.6h1v1h-1zM269.2 69.8h1v1h-1zM242.9 78.3h1v1h-1zM251.2 88.4h1v1h-1zM247.2 56.6h1v1h-1zM249.9 83.6h1v1h-1zM247.9 66.5h1v1h-1zM248.5 75.6h1v1h-1zM246.0 83.4h1v1h-1zM246.2 76.4h1v1h-1zM246.7 80.4h1v1h-1zM249.8 93.4h1v1h-1zM250.5 81.3h1v1h-1zM265.5 92.4h1v1h-1zM253.1 52.2h1v1h-1zM251.3 93.8h1v1h-1zM241.4 81.0h1v1h-1zM255.9 89.8h1v1h-1zM267.4 87.5h1v1h-1zM244.5 86.4h1v1h-1zM244.2 91.7h1v1h-1zM241.4 83.8h1v1h-1zM244.5 66.2h1v1h-1zM243.7 87.5h1v1h-1zM258.8 87.5h1v1h-1zM249.9 84.3h1v1h-1zM252.1 74.4h1v1h-1zM243.4 94.1h1v1h-1zM248.7 79.5h1v1h-1zM256.4 88.1h1v1h-1zM251.2 66.7h1v1h-1zM247.3 60.4h1v1h-1zM253.6 85.6h1v1h-1zM246.4 81.6h1v1h-1zM247.4 95.7h1v1h-1zM250.2 55.6h1v1h-1zM246.4 90.0h1v1h-1zM245.7 47.0h1v1h-1zM254.7 101.2h1v1h-1zM256.1 93.5h1v1h-1zM257.6 85.3h1v1h-1zM245.7 59.5h1v1h-1zM241.7 78.7h1v1h-1zM251.7 68.2h1v1h-1zM247.5 91.4h1v1h-1zM254.2 77.8h1v1h-1zM245.3 61.4h1v1h-1zM250.2 80.0h1v1h-1zM244.2 89.0h1v1h-1zM246.1 84.9h1v1h-1zM264.5 98.6h1v1h-1zM257.5 63.8h1v1h-1zM243.9 84.5h1v1h-1zM248.5 50.4h1v1h-1zM243.5 91.9h1v1h-1zM248.3 82.3h1v1h-1zM248.1 44.8h1v1h-1zM257.6 92.4h1v1h-1zM259.7 79.9h1v1h-1zM249.4 69.9h1v1h-1zM249.3 88.7h1v1h-1zM263.4 78.4h1v1h-1zM247.6 77.5h1v1h-1zM251.8 66.0h1v1h-1zM247.0 79.2h1v1h-1zM242.5 85.0h1v1h-1zM248.8 72.7h1v1h-1zM244.3 78.7h1v1h-1zM262.5 58.1h1v1h-1zM256.0 57.1h1v1h-1zM244.8 86.4h1v1h-1zM242.8 89.1h1v1h-1zM246.5 71.3h1v1h-1zM249.8 72.1h1v1h-1zM245.8 89.1h1v1h-1zM256.3 62.7h1v1h-1zM253.7 82.2h1v1h-1zM247.8 87.0h1v1h-1zM243.5 96.6h1v1h-1zM245.3 87.5h1v1h-1zM250.3 95.9h1v1h-1zM243.9 85.2h1v1h-1zM243.7 93.5h1v1h-1zM247.2 74.7h1v1h-1zM249.3 77.8h1v1h-1zM243.8 90.7h1v1h-1zM256.1 88.9h1v1h-1zM250.3 77.7h1v1h-1zM243.7 87.9h1v1h-1zM241.9 77.7h1v1h-1zM245.2 74.7h1v1h-1zM243.7 79.1h1v1h-1zM247.2 58.5h1v1h-1zM241.4 95.0h1v1h-1zM244.5 92.4h1v1h-1zM250.4 80.0h1v1h-1zM245.1 68.2h1v1h-1zM248.7 76.3h1v1h-1zM246.6 81.6h1v1h-1zM253.1 73.9h1v1h-1zM248.2 84.2h1v1h-1zM247.2 55.3h1v1h-1zM245.5 62.9h1v1h-1zM245.4 78.9h1v1h-1zM248.4 85.9h1v1h-1zM253.0 85.0h1v1h-1zM242.8 92.8h1v1h-1zM245.9 76.5h1v1h-1zM245.3 76.0h1v1h-1zM255.0 72.9h1v1h-1zM243.4 78.8h1v1h-1zM247.5 84.0h1v1h-1zM249.5 61.6h1v1h-1zM245.7 106.6h1v1h-1zM245.7 77.5h1v1h-1zM251.0 70.2h1v1h-1zM245.6 82.1h1v1h-1zM244.3 79.5h1v1h-1zM244.6 87.2h1v1h-1zM243.2 93.2h1v1h-1zM245.9 99.0h1v1h-1zM249.9 85.2h1v1h-1zM252.9 76.6h1v1h-1zM241.6 79.3h1v1h-1zM242.3 73.2h1v1h-1zM246.4 83.8h1v1h-1zM244.3 104.2h1v1h-1zM248.3 81.8h1v1h-1zM259.7 83.2h1v1h-1zM243.4 72.6h1v1h-1zM253.2 87.7h1v1h-1zM243.7 79.4h1v1h-1zM246.3 70.0h1v1h-1zM244.1 87.0h1v1h-1zM247.1 76.7h1v1h-1zM248.8 63.0h1v1h-1zM250.2 86.7h1v1h-1zM247.1 92.7h1v1h-1zM266.7 73.4h1v1h-1zM243.7 73.3h1v1h-1zM250.2 96.4h1v1h-1zM263.2 78.7h1v1h-1zM248.4 90.7h1v1h-1zM244.4 79.1h1v1h-1zM248.1 81.5h1v1h-1zM241.4 88.3h1v1h-1zM245.6 91.0h1v1h-1zM242.7 76.3h1v1h-1zM251.0 83.9h1v1h-1zM246.7 70.9h1v1h-1zM255.6 82.2h1v1h-1zM246.6 72.1h1v1h-1zM268.9 52.6h1v1h-1zM246.1 76.3h1v1h-1zM260.7 78.5h1v1h-1zM244.2 84.0h1v1h-1zM261.0 67.9h1v1h-1zM250.1 77.9h1v1h-1zM246.7 86.9h1v1h-1zM254.0 71.1h1v1h-1zM248.6 81.3h1v1h-1zM244.2 84.3h1v1h-1zM258.8 73.9h1v1h-1zM246.6 98.0h1v1h-1zM249.8 83.5h1v1h-1zM248.4 82.5h1v1h-1zM244.7 88.8h1v1h-1zM247.4 82.6h1v1h-1zM250.0 88.7h1v1h-1zM250.3 85.1h1v1h-1zM243.3 81.8h1v1h-1zM244.0 79.0h1v1h-1zM250.0 84.1h1v1h-1zM243.9 66.4h1v1h-1zM247.3 45.1h1v1h-1zM252.9 86.0h1v1h-1zM244.7 50.7h1v1h-1zM244.7 82.2h1v1h-1zM253.3 43.4h1v1h-1zM245.4 77.7h1v1h-1zM247.4 90.3h1v1h-1zM242.6 83.3h1v1h-1zM251.3 78.1h1v1h-1zM248.1 91.8h1v1h-1zM254.7 79.1h1v1h-1zM242.7 74.4h1v1h-1zM257.6 57.6h1v1h-1zM252.0 87.0h1v1h-1zM255.8 89.5h1v1h-1zM251.1 93.1h1v1h-1zM251.6 77.9h1v1h-1zM250.4 68.1h1v1h-1zM261.0 77.8h1v1h-1zM242.8 86.1h1v1h-1zM248.7 87.3h1v1h-1zM251.4 72.8h1v1h-1zM245.4 76.5h1v1h-1zM259.3 94.5h1v1h-1zM244.8 82.4h1v1h-1zM257.9 104.6h1v1h-1zM252.0 74.2h1v1h-1zM242.3 93.8h1v1h-1zM261.7 76.1h1v1h-1zM260.6 78.7h1v1h-1zM253.1 86.5h1v1h-1zM245.1 71.7h1v1h-1zM253.4 79.7h1v1h-1zM243.0 83.2h1v1h-1zM250.6 78.7h1v1h-1zM244.4 80.8h1v1h-1zM248.7 90.6h1v1h-1zM248.9 85.5h1v1h-1zM251.4 89.6h1v1h-1zM254.1 91.3h1v1h-1zM258.9 66.0h1v1h-1zM248.4 79.4h1v1h-1zM252.4 53.1h1v1h-1zM241.8 80.7h1v1h-1zM260.7 105.0h1v1h-1zM256.4 91.4h1v1h-1zM251.2 89.4h1v1h-1zM246.9 85.3h1v1h-1zM261.2 76.0h1v1h-1zM244.4 92.5h1v1h-1zM244.0 89.0h1v1h-1zM247.4 94.7h1v1h-1zM245.6 73.3h1v1h-1zM255.9 73.0h1v1h-1zM250.6 68.0h1v1h-1zM243.8 93.4h1v1h-1zM242.5 78.7h1v1h-1zM251.7 73.4h1v1h-1zM256.4 73.5h1v1h-1zM245.6 59.0h1v1h-1zM254.4 50.6h1v1h-1zM257.7 89.8h1v1h-1zM258.3 86.9h1v1h-1zM252.3 66.6h1v1h-1zM257.6 77.9h1v1h-1zM243.1 94.9h1v1h-1zM259.7 71.2h1v1h-1zM251.2 98.1h1v1h-1zM252.2 83.1h1v1h-1zM248.9 71.5h1v1h-1zM244.8 68.7h1v1h-1zM252.5 78.7h1v1h-1zM247.2 89.0h1v1h-1zM244.0 62.5h1v1h-1zM248.3 86.6h1v1h-1zM253.9 49.5h1v1h-1zM255.1 110.4h1v1h-1zM245.8 89.0h1v1h-1zM247.3 82.3h1v1h-1zM242.5 81.4h1v1h-1zM242.6 89.6h1v1h-1zM250.7 89.8h1v1h-1zM257.4 74.5h1v1h-1zM245.5 86.9h1v1h-1zM249.9 89.8h1v1h-1zM245.1 91.2h1v1h-1zM248.2 82.1h1v1h-1zM261.5 59.9h1v1h-1zM257.4 77.9h1v1h-1zM247.3 65.8h1v1h-1zM243.7 58.7h1v1h-1zM252.9 91.5h1v1h-1zM244.0 78.5h1v1h-1zM242.6 63.9h1v1h-1zM253.6 59.5h1v1h-1zM245.7 84.8h1v1h-1zM250.8 96.2h1v1h-1zM246.9 71.2h1v1h-1zM247.9 89.3h1v1h-1zM251.5 81.2h1v1h-1zM264.8 94.8h1v1h-1zM244.2 92.0h1v1h-1zM255.1 58.1h1v1h-1zM244.2 63.8h1v1h-1zM245.8 82.5h1v1h-1zM250.8 82.5h1v1h-1zM256.9 72.7h1v1h-1zM255.3 42.3h1v1h-1zM245.7 78.7h1v1h-1zM246.9 76.4h1v1h-1zM246.2 82.8h1v1h-1zM258.3 82.9h1v1h-1zM253.5 46.6h1v1h-1zM247.9 68.3h1v1h-1zM245.8 74.4h1v1h-1zM247.1 76.7h1v1h-1zM267.6 82.8h1v1h-1zM241.3 101.0h1v1h-1zM247.4 63.4h1v1h-1zM251.0 89.6h1v1h-1zM250.3 70.2h1v1h-1zM254.0 63.6h1v1h-1zM244.7 83.9h1v1h-1zM243.3 89.7h1v1h-1zM247.4 94.4h1v1h-1zM246.8 91.2h1v1h-1zM242.8 99.0h1v1h-1zM248.6 73.9h1v1h-1zM246.2 73.3h1v1h-1zM250.4 80.3h1v1h-1zM247.8 91.6h1v1h-1zM248.4 81.6h1v1h-1zM262.0 89.5h1v1h-1zM250.3 78.0h1v1h-1zM245.1 85.2h1v1h-1zM250.9 60.6h1v1h-1zM247.0 73.0h1v1h-1zM243.3 86.4h1v1h-1zM254.0 59.8h1v1h-1zM242.2 84.9h1v1h-1zM242.0 83.2h1v1h-1zM248.0 93.3h1v1h-1zM244.0 61.5h1v1h-1zM247.4 54.9h1v1h-1zM244.4 85.8h1v1h-1zM257.0 88.4h1v1h-1zM246.8 86.6h1v1h-1zM251.3 77.6h1v1h-1zM248.6 67.0h1v1h-1zM253.0 61.6h1v1h-1zM256.7 75.4h1v1h-1zM246.5 93.6h1v1h-1zM247.0 56.8h1v1h-1zM247.0 85.7h1v1h-1zM245.6 78.8h1v1h-1zM253.3 85.8h1v1h-1zM256.7 79.8h1v1h-1zM244.3 90.9h1v1h-1zM247.2 82.2h1v1h-1zM243.0 73.4h1v1h-1zM247.8 103.1h1v1h-1zM247.4 87.1h1v1h-1zM253.6 79.0h1v1h-1zM252.8 92.4h1v1h-1zM259.2 68.0h1v1h-1zM255.7 88.3h1v1h-1zM248.8 72.4h1v1h-1zM244.5 91.0h1v1h-1zM244.4 87.0h1v1h-1zM245.5 99.8h1v1h-1zM246.1 78.5h1v1h-1zM246.6 69.9h1v1h-1zM246.6 81.9h1v1h-1zM244.0 68.9h1v1h-1zM241.8 82.9h1v1h-1zM255.8 76.7h1v1h-1zM245.8 88.1h1v1h-1zM246.0 88.4h1v1h-1zM246.9 99.1h1v1h-1zM247.7 89.6h1v1h-1zM256.9 85.3h1v1h-1zM249.3 94.0h1v1h-1zM252.6 87.8h1v1h-1zM256.6 72.3h1v1h-1zM259.1 84.6h1v1h-1zM250.0 93.3h1v1h-1zM251.8 75.9h1v1h-1zM259.3 73.8h1v1h-1zM250.0 72.9h1v1h-1zM244.3 86.2h1v1h-1zM258.2 92.4h1v1h-1zM256.3 86.5h1v1h-1zM248.6 87.9h1v1h-1zM243.0 85.1h1v1h-1zM243.6 86.6h1v1h-1zM242.1 88.1h1v1h-1zM248.4 84.9h1v1h-1zM242.8 94.3h1v1h-1zM257.5 78.5h1v1h-1zM247.5 69.4h1v1h-1zM254.6 85.7h1v1h-1zM248.3 73.2h1v1h-1zM242.7 75.7h1v1h-1zM253.7 77.0h1v1h-1zM246.2 78.1h1v1h-1zM253.8 98.0h1v1h-1zM250.0 88.5h1v1h-1zM251.2 77.9h1v1h-1zM244.4 86.4h1v1h-1zM246.8 90.5h1v1h-1zM249.2 64.4h1v1h-1zM244.7 76.0h1v1h-1zM246.2 83.9h1v1h-1zM263.0 69.8h1v1h-1zM242.3 74.2h1v1h-1zM253.3 76.8h1v1h-1zM251.3 60.7h1v1h-1zM241.7 76.7h1v1h-1zM246.3 76.7h1v1h-1zM248.4 83.6h1v1h-1zM249.2 74.7h1v1h-1zM249.1 86.3h1v1h-1zM252.5 83.8h1v1h-1zM255.8 53.5h1v1h-1zM245.4 87.9h1v1h-1zM249.0 72.9h1v1h-1zM251.7 72.1h1v1h-1zM251.8 89.6h1v1h-1zM251.2 90.0h1v1h-1zM246.8 72.8h1v1h-1zM245.4 81.0h1v1h-1zM260.8 68.3h1v1h-1zM253.3 77.0h1v1h-1zM243.1 83.2h1v1h-1zM248.5 70.4h1v1h-1zM242.9 76.5h1v1h-1zM244.8 84.6h1v1h-1zM252.4 63.4h1v1h-1zM248.5 82.0h1v1h-1zM248.0 46.0h1v1h-1zM246.8 90.7h1v1h-1zM248.7 57.8h1v1h-1zM266.5 59.1h1v1h-1zM244.9 74.2h1v1h-1zM250.2 87.9h1v1h-1zM249.6 63.3h1v1h-1zM250.3 83.4h1v1h-1zM243.5 66.3h1v1h-1zM247.8 81.3h1v1h-1zM245.0 87.2h1v1h-1zM243.2 90.0h1v1h-1zM242.6 76.6h1v1h-1zM252.8 97.3h1v1h-1zM251.8 91.0h1v1h-1zM249.4 73.8h1v1h-1zM250.1 63.8h1v1h-1zM256.5 87.6h1v1h-1zM243.2 85.0h1v1h-1zM245.4 90.1h1v1h-1zM247.0 76.0h1v1h-1zM242.6 81.5h1v1h-1zM243.4 93.4h1v1h-1zM256.8 79.2h1v1h-1zM253.1 76.1h1v1h-1zM258.5 84.5h1v1h-1zM245.6 64.9h1v1h-1zM247.9 81.9h1v1h-1zM244.6 82.2h1v1h-1zM249.5 86.8h1v1h-1zM252.4 82.8h1v1h-1zM253.7 87.1h1v1h-1zM242.7 89.0h1v1h-1zM249.6 63.1h1v1h-1zM243.3 91.3h1v1h-1zM245.8 82.1h1v1h-1zM246.6 90.1h1v1h-1zM251.4 84.7h1v1h-1zM245.3 84.6h1v1h-1zM243.0 91.2h1v1h-1zM250.8 82.6h1v1h-1zM247.2 74.4h1v1h-1zM250.0 75.4h1v1h-1zM242.0 81.4h1v1h-1zM249.1 50.1h1v1h-1zM244.5 69.8h1v1h-1zM243.4 83.9h1v1h-1zM256.0 71.2h1v1h-1zM247.6 84.1h1v1h-1zM257.3 84.5h1v1h-1zM250.9 63.3h1v1h-1zM245.1 88.5h1v1h-1zM246.5 74.3h1v1h-1zM247.5 95.3h1v1h-1zM246.7 75.1h1v1h-1zM246.8 65.3h1v1h-1zM251.8 65.9h1v1h-1zM259.9 66.6h1v1h-1zM246.9 84.2h1v1h-1zM242.3 84.2h1v1h-1zM243.7 81.1h1v1h-1zM252.9 77.8h1v1h-1zM248.4 68.2h1v1h-1zM249.4 84.3h1v1h-1zM243.3 82.5h1v1h-1zM247.0 88.2h1v1h-1zM245.9 76.1h1v1h-1zM247.5 86.5h1v1h-1zM250.1 71.0h1v1h-1zM244.3 90.8h1v1h-1zM254.5 87.0h1v1h-1zM244.5 86.4h1v1h-1zM246.1 99.3h1v1h-1zM261.5 77.0h1v1h-1zM249.1 66.5h1v1h-1zM246.0 69.5h1v1h-1zM252.1 86.9h1v1h-1zM242.9 81.1h1v1h-1zM246.4 87.4h1v1h-1zM248.1 79.3h1v1h-1zM250.6 73.6h1v1h-1zM245.7 84.1h1v1h-1zM245.7 76.2h1v1h-1zM246.8 71.4h1v1h-1zM259.2 87.2h1v1h-1zM244.7 86.1h1v1h-1zM245.7 70.1h1v1h-1zM251.7 85.3h1v1h-1zM250.5 70.0h1v1h-1zM244.1 74.5h1v1h-1zM260.0 80.3h1v1h-1zM244.3 76.7h1v1h-1zM245.9 54.8h1v1h-1zM245.6 78.4h1v1h-1zM244.5 84.7h1v1h-1zM260.9 88.8h1v1h-1zM251.4 88.6h1v1h-1zM249.4 67.9h1v1h-1zM245.3 84.8h1v1h-1zM246.4 71.6h1v1h-1zM244.2 73.2h1v1h-1zM246.8 60.3h1v1h-1zM256.6 83.0h1v1h-1zM254.8 84.1h1v1h-1zM245.5 63.7h1v1h-1zM254.7 88.8h1v1h-1zM250.7 79.4h1v1h-1zM243.4 85.3h1v1h-1zM248.9 74.4h1v1h-1zM247.9 71.5h1v1h-1zM253.1 56.9h1v1h-1zM250.6 83.0h1v1h-1zM254.8 61.9h1v1h-1zM247.7 92.8h1v1h-1zM241.2 87.1h1v1h-1zM251.4 94.3h1v1h-1zM251.1 94.6h1v1h-1zM247.8 80.4h1v1h-1zM248.2 78.0h1v1h-1zM250.6 84.3h1v1h-1zM241.9 89.6h1v1h-1zM245.3 89.4h1v1h-1zM244.6 68.0h1v1h-1zM245.4 90.2h1v1h-1zM259.6 84.9h1v1h-1zM251.6 86.3h1v1h-1zM246.9 84.4h1v1h-1zM244.0 78.7h1v1h-1zM254.7 89.0h1v1h-1zM242.5 80.9h1v1h-1zM241.6 81.2h1v1h-1zM243.2 70.0h1v1h-1zM243.3 68.5h1v1h-1zM246.9 65.3h1v1h-1zM244.6 80.3h1v1h-1zM248.3 90.0h1v1h-1zM244.2 83.4h1v1h-1zM244.8 91.5h1v1h-1zM249.4 97.5h1v1h-1zM249.8 83.1h1v1h-1zM248.1 79.8h1v1h-1zM249.2 86.3h1v1h-1zM246.1 96.0h1v1h-1zM256.2 80.1h1v1h-1zM242.2 66.6h1v1h-1zM246.4 62.2h1v1h-1zM244.3 90.9h1v1h-1zM248.6 61.1h1v1h-1zM258.1 84.5h1v1h-1zM262.7 88.2h1v1h-1zM261.6 75.4h1v1h-1zM259.0 56.1h1v1h-1zM246.3 85.6h1v1h-1zM244.5 65.6h1v1h-1zM245.8 82.6h1v1h-1zM256.0 68.1h1v1h-1zM244.8 84.4h1v1h-1zM247.3 88.5h1v1h-1zM247.1 62.3h1v1h-1zM262.2 74.2h1v1h-1zM246.2 87.5h1v1h-1zM251.8 80.4h1v1h-1zM244.1 96.8h1v1h-1zM246.0 69.8h1v1h-1zM245.9 64.4h1v1h-1zM251.9 90.9h1v1h-1zM251.6 103.8h1v1h-1zM258.4 85.4h1v1h-1zM248.3 89.4h1v1h-1zM242.2 84.0h1v1h-1zM248.6 85.7h1v1h-1zM245.6 82.9h1v1h-1zM248.2 89.1h1v1h-1zM245.0 79.4h1v1h-1zM242.6 85.4h1v1h-1zM243.5 71.8h1v1h-1zM244.1 65.0h1v1h-1zM260.1 92.4h1v1h-1zM250.7 80.8h1v1h-1zM242.9 77.9h1v1h-1zM245.8 70.7h1v1h-1zM259.6 73.6h1v1h-1zM243.4 75.8h1v1h-1zM248.7 84.1h1v1h-1zM241.9 82.7h1v1h-1zM248.5 80.9h1v1h-1zM253.7 70.2h1v1h-1zM251.8 80.8h1v1h-1zM249.6 64.3h1v1h-1zM252.0 69.3h1v1h-1zM246.0 75.6h1v1h-1zM247.1 84.4h1v1h-1zM244.3 61.1h1v1h-1zM246.8 92.4h1v1h-1zM246.3 84.7h1v1h-1zM249.9 63.3h1v1h-1zM248.3 73.2h1v1h-1zM246.3 89.7h1v1h-1zM242.7 84.7h1v1h-1zM248.6 75.3h1v1h-1zM245.6 85.4h1v1h-1zM255.5 83.2h1v1h-1zM249.3 87.0h1v1h-1zM249.1 75.5h1v1h-1zM244.4 80.5h1v1h-1zM247.1 71.5h1v1h-1zM244.1 91.5h1v1h-1zM249.2 82.0h1v1h-1zM257.1 84.6h1v1h-1zM245.0 79.6h1v1h-1zM250.3 72.1h1v1h-1zM249.3 94.4h1v1h-1zM243.1 83.8h1v1h-1zM245.4 82.3h1v1h-1zM243.6 93.1h1v1h-1zM244.7 59.2h1v1h-1zM242.7 86.9h1v1h-1zM242.6 76.3h1v1h-1zM248.2 74.5h1v1h-1zM243.2 63.9h1v1h-1zM249.0 56.7h1v1h-1zM244.6 80.3h1v1h-1zM243.3 104.8h1v1h-1zM252.0 68.9h1v1h-1zM249.8 60.4h1v1h-1zM247.1 78.7h1v1h-1zM250.1 72.7h1v1h-1zM246.4 85.3h1v1h-1zM243.8 63.6h1v1h-1zM252.6 83.1h1v1h-1zM249.8 70.2h1v1h-1zM248.4 73.8h1v1h-1zM245.1 66.7h1v1h-1zM244.2 81.9h1v1h-1zM241.6 78.7h1v1h-1zM242.4 77.9h1v1h-1zM255.9 88.4h1v1h-1zM241.7 92.5h1v1h-1zM251.3 77.8h1v1h-1zM244.7 69.4h1v1h-1zM247.2 87.6h1v1h-1zM249.4 74.8h1v1h-1zM249.6 89.2h1v1h-1zM246.2 86.6h1v1h-1zM246.3 86.0h1v1h-1zM249.5 97.2h1v1h-1zM254.2 89.7h1v1h-1zM244.7 84.0h1v1h-1zM243.3 73.1h1v1h-1zM249.4 66.9h1v1h-1zM244.1 75.2h1v1h-1zM252.4 84.1h1v1h-1zM246.0 85.2h1v1h-1zM242.7 86.7h1v1h-1zM248.0 65.5h1v1h-1zM243.7 75.5h1v1h-1zM248.3 67.0h1v1h-1zM249.6 84.0h1v1h-1zM248.3 76.7h1v1h-1zM249.2 80.0h1v1h-1zM246.5 63.4h1v1h-1zM243.5 72.5h1v1h-1zM255.3 82.5h1v1h-1zM242.4 83.4h1v1h-1zM255.8 106.6h1v1h-1zM245.8 79.2h1v1h-1zM250.2 89.6h1v1h-1zM252.9 92.5h1v1h-1zM248.3 77.5h1v1h-1zM257.1 71.9h1v1h-1zM247.9 83.5h1v1h-1zM241.6 86.3h1v1h-1zM241.6 82.0h1v1h-1zM254.3 84.6h1v1h-1zM241.4 81.5h1v1h-1zM248.7 101.9h1v1h-1zM242.3 90.2h1v1h-1zM243.5 84.6h1v1h-1zM242.8 83.2h1v1h-1zM250.7 82.4h1v1h-1zM249.6 84.4h1v1h-1zM241.7 88.3h1v1h-1zM246.6 69.6h1v1h-1zM247.9 66.0h1v1h-1zM254.8 86.6h1v1h-1zM249.3 96.9h1v1h-1zM251.0 65.1h1v1h-1zM244.2 56.2h1v1h-1zM259.5 85.3h1v1h-1zM244.3 89.1h1v1h-1zM246.9 98.1h1v1h-1zM261.2 90.9h1v1h-1zM256.3 80.8h1v1h-1zM252.4 93.9h1v1h-1zM251.6 71.2h1v1h-1zM249.0 89.4h1v1h-1zM251.8 94.4h1v1h-1zM246.8 76.4h1v1h-1zM245.7 83.5h1v1h-1zM246.3 82.7h1v1h-1zM262.6 62.0h1v1h-1zM252.2 88.2h1v1h-1zM251.7 77.1h1v1h-1zM249.3 57.6h1v1h-1zM246.8 95.0h1v1h-1zM246.1 84.4h1v1h-1zM249.5 61.6h1v1h-1zM253.5 84.4h1v1h-1zM247.9 65.2h1v1h-1zM242.3 88.5h1v1h-1zM242.9 83.4h1v1h-1zM246.8 87.8h1v1h-1zM252.7 90.8h1v1h-1zM241.0 81.9h1v1h-1zM246.5 73.4h1v1h-1zM246.3 87.2h1v1h-1zM261.4 92.6h1v1h-1zM243.3 87.8h1v1h-1zM253.7 71.6h1v1h-1zM257.5 97.7h1v1h-1zM242.0 87.4h1v1h-1zM248.0 55.1h1v1h-1zM262.9 65.3h1v1h-1zM248.5 84.8h1v1h-1zM245.3 77.6h1v1h-1zM249.9 85.5h1v1h-1zM243.1 75.3h1v1h-1zM254.8 85.6h1v1h-1zM249.0 86.3h1v1h-1zM244.6 82.1h1v1h-1zM257.2 67.8h1v1h-1zM258.4 82.4h1v1h-1zM247.1 59.7h1v1h-1zM244.8 81.7h1v1h-1zM241.3 86.7h1v1h-1zM243.6 87.1h1v1h-1zM251.1 55.0h1v1h-1zM244.4 73.7h1v1h-1zM246.2 89.9h1v1h-1zM243.7 53.3h1v1h-1zM249.9 79.6h1v1h-1zM243.5 72.5h1v1h-1zM246.2 77.7h1v1h-1zM262.6 80.3h1v1h-1zM253.3 80.7h1v1h-1zM247.4 63.9h1v1h-1zM248.2 97.3h1v1h-1zM247.3 80.1h1v1h-1zM244.0 81.8h1v1h-1zM251.6 84.2h1v1h-1zM257.6 85.9h1v1h-1zM244.2 78.9h1v1h-1zM248.8 72.3h1v1h-1zM266.6 58.8h1v1h-1zM249.0 98.1h1v1h-1zM250.5 83.4h1v1h-1zM243.6 72.5h1v1h-1zM244.1 90.1h1v1h-1zM245.0 78.5h1v1h-1zM253.5 63.8h1v1h-1zM253.4 83.8h1v1h-1zM250.2 75.5h1v1h-1zM247.6 72.6h1v1h-1zM250.9 60.8h1v1h-1zM245.2 86.4h1v1h-1zM245.6 92.0h1v1h-1zM245.1 61.0h1v1h-1zM244.9 66.0h1v1h-1zM254.7 84.6h1v1h-1zM244.0 74.1h1v1h-1zM245.9 78.8h1v1h-1zM249.2 66.4h1v1h-1zM250.0 80.3h1v1h-1zM246.1 88.1h1v1h-1zM249.8 62.8h1v1h-1zM245.7 64.8h1v1h-1zM247.7 89.9h1v1h-1zM243.2 87.3h1v1h-1zM248.3 66.8h1v1h-1zM244.8 87.0h1v1h-1zM245.2 79.7h1v1h-1zM247.4 90.4h1v1h-1zM245.9 49.1h1v1h-1zM248.9 93.4h1v1h-1zM256.5 95.5h1v1h-1zM256.7 63.7h1v1h-1zM253.9 76.1h1v1h-1zM259.3 101.6h1v1h-1zM243.9 72.7h1v1h-1zM246.4 89.2h1v1h-1zM248.2 84.2h1v1h-1zM265.7 84.4h1v1h-1zM246.3 83.4h1v1h-1zM248.4 82.1h1v1h-1zM246.5 85.2h1v1h-1zM247.5 77.9h1v1h-1zM250.6 84.0h1v1h-1zM242.8 86.9h1v1h-1zM244.3 67.2h1v1h-1zM243.1 83.6h1v1h-1zM244.3 78.1h1v1h-1zM247.2 84.4h1v1h-1zM255.9 58.3h1v1h-1zM249.9 86.3h1v1h-1zM243.0 85.8h1v1h-1zM243.4 73.1h1v1h-1zM247.5 88.8h1v1h-1zM246.7 66.7h1v1h-1zM245.1 73.4h1v1h-1zM242.2 88.0h1v1h-1zM247.1 89.3h1v1h-1zM251.3 87.9h1v1h-1zM260.8 89.9h1v1h-1zM260.7 104.1h1v1h-1zM244.6 88.5h1v1h-1zM245.2 75.6h1v1h-1zM246.6 82.5h1v1h-1zM251.9 75.6h1v1h-1zM245.2 82.3h1v1h-1zM248.1 82.2h1v1h-1zM247.6 87.5h1v1h-1zM245.4 65.8h1v1h-1zM256.2 90.1h1v1h-1zM245.4 71.0h1v1h-1zM246.9 57.0h1v1h-1zM246.6 72.1h1v1h-1zM255.2 72.6h1v1h-1zM249.2 102.8h1v1h-1zM246.6 95.3h1v1h-1zM247.7 91.8h1v1h-1zM247.9 83.2h1v1h-1zM246.9 88.9h1v1h-1zM259.9 43.0h1v1h-1zM255.7 83.2h1v1h-1zM246.0 84.7h1v1h-1zM247.2 79.5h1v1h-1zM243.2 79.6h1v1h-1zM248.5 91.7h1v1h-1zM251.1 83.3h1v1h-1zM244.8 70.6h1v1h-1zM249.1 77.2h1v1h-1zM251.2 70.7h1v1h-1zM248.7 67.2h1v1h-1zM247.6 57.7h1v1h-1zM250.4 99.1h1v1h-1zM245.7 84.7h1v1h-1zM245.5 93.8h1v1h-1zM244.0 96.6h1v1h-1zM245.0 79.9h1v1h-1zM246.8 80.9h1v1h-1zM247.5 87.9h1v1h-1zM244.1 63.5h1v1h-1zM243.7 80.6h1v1h-1zM251.1 86.6h1v1h-1zM250.7 88.4h1v1h-1zM246.3 72.2h1v1h-1zM248.7 103.9h1v1h-1zM242.2 85.1h1v1h-1zM249.7 64.3h1v1h-1zM255.1 89.7h1v1h-1zM257.0 78.3h1v1h-1zM245.2 59.0h1v1h-1zM247.4 97.5h1v1h-1zM241.8 85.8h1v1h-1zM249.9 83.6h1v1h-1zM259.8 72.6h1v1h-1zM246.4 83.2h1v1h-1zM256.3 89.3h1v1h-1zM242.3 84.0h1v1h-1zM246.7 90.6h1v1h-1zM257.2 83.9h1v1h-1zM252.3 56.4h1v1h-1zM253.4 55.4h1v1h-1zM254.0 83.0h1v1h-1zM248.5 94.9h1v1h-1zM242.3 69.8h1v1h-1zM241.0 101.5h1v1h-1zM245.2 86.5h1v1h-1zM255.5 51.4h1v1h-1zM247.3 85.5h1v1h-1zM249.2 67.0h1v1h-1zM244.3 106.8h1v1h-1zM249.5 78.6h1v1h-1zM251.4 71.4h1v1h-1zM242.7 77.7h1v1h-1zM247.0 81.5h1v1h-1zM253.7 70.1h1v1h-1zM246.8 87.8h1v1h-1zM252.0 91.3h1v1h-1zM252.9 57.4h1v1h-1zM241.8 85.9h1v1h-1zM249.0 83.5h1v1h-1zM251.6 78.4h1v1h-1zM254.2 86.0h1v1h-1zM247.1 85.8h1v1h-1zM258.4 79.8h1v1h-1zM247.5 89.9h1v1h-1zM260.7 86.9h1v1h-1zM245.2 82.5h1v1h-1zM246.3 79.3h1v1h-1zM247.3 83.4h1v1h-1zM250.0 69.1h1v1h-1zM244.3 73.1h1v1h-1zM244.5 79.8h1v1h-1zM252.0 87.5h1v1h-1zM245.3 87.0h1v1h-1zM250.3 96.2h1v1h-1zM250.6 67.6h1v1h-1zM250.1 88.7h1v1h-1zM247.6 89.7h1v1h-1zM250.2 73.8h1v1h-1zM249.3 59.4h1v1h-1zM244.8 57.8h1v1h-1zM250.9 90.5h1v1h-1zM246.1 86.0h1v1h-1zM243.2 69.0h1v1h-1zM261.6 56.5h1v1h-1zM243.6 83.7h1v1h-1zM247.2 78.9h1v1h-1zM247.8 89.9h1v1h-1zM249.4 80.6h1v1h-1zM246.4 87.2h1v1h-1zM242.2 82.5h1v1h-1zM246.5 86.0h1v1h-1zM247.1 99.4h1v1h-1zM244.0 88.3h1v1h-1zM248.7 87.5h1v1h-1zM247.8 81.3h1v1h-1zM245.1 87.9h1v1h-1zM246.0 85.5h1v1h-1zM249.9 89.8h1v1h-1zM246.3 88.2h1v1h-1zM245.9 77.8h1v1h-1zM241.7 87.3h1v1h-1zM244.9 82.7h1v1h-1zM264.9 95.5h1v1h-1zM241.1 85.5h1v1h-1zM254.8 82.2h1v1h-1zM255.1 88.7h1v1h-1zM245.5 85.7h1v1h-1zM259.6 56.6h1v1h-1zM249.3 74.8h1v1h-1zM247.4 96.4h1v1h-1zM248.1 82.2h1v1h-1zM244.6 91.5h1v1h-1zM246.8 83.8h1v1h-1zM247.1 81.8h1v1h-1zM248.6 87.9h1v1h-1zM243.8 82.9h1v1h-1zM241.9 86.3h1v1h-1zM248.7 69.9h1v1h-1zM253.4 52.3h1v1h-1zM246.6 85.0h1v1h-1zM247.4 86.7h1v1h-1zM253.1 60.1h1v1h-1zM244.9 88.3h1v1h-1zM244.1 69.3h1v1h-1zM254.0 99.7h1v1h-1zM261.5 87.8h1v1h-1zM246.0 76.8h1v1h-1zM244.2 74.0h1v1h-1zM243.1 90.0h1v1h-1zM244.9 83.7h1v1h-1zM255.6 72.2h1v1h-1zM245.2 81.5h1v1h-1zM251.0 70.5h1v1h-1zM243.3 85.1h1v1h-1zM247.7 71.6h1v1h-1zM246.5 82.0h1v1h-1zM252.2 82.2h1v1h-1zM244.8 92.2h1v1h-1zM253.6 76.1h1v1h-1zM246.1 90.1h1v1h-1zM249.7 90.3h1v1h-1zM252.9 81.4h1v1h-1zM249.3 85.7h1v1h-1zM247.4 83.9h1v1h-1zM250.5 80.1h1v1h-1zM266.3 80.5h1v1h-1zM248.3 79.4h1v1h-1zM246.4 86.5h1v1h-1zM245.6 59.8h1v1h-1zM243.6 81.6h1v1h-1zM242.9 88.0h1v1h-1zM244.9 97.0h1v1h-1zM244.2 73.7h1v1h-1zM252.2 73.0h1v1h-1zM245.1 50.6h1v1h-1zM248.0 86.0h1v1h-1zM247.7 76.8h1v1h-1zM249.4 92.1h1v1h-1zM259.1 85.5h1v1h-1zM246.7 89.4h1v1h-1zM246.6 73.0h1v1h-1zM257.0 85.9h1v1h-1zM246.7 76.8h1v1h-1zM252.8 88.7h1v1h-1zM248.0 78.1h1v1h-1zM250.7 71.2h1v1h-1zM249.9 83.7h1v1h-1zM260.6 93.6h1v1h-1zM246.0 85.6h1v1h-1zM244.5 69.4h1v1h-1zM249.2 83.3h1v1h-1zM249.2 62.7h1v1h-1zM256.0 83.4h1v1h-1zM247.6 74.2h1v1h-1zM250.5 82.3h1v1h-1zM247.9 61.2h1v1h-1zM243.6 86.9h1v1h-1zM264.3 78.2h1v1h-1zM250.8 66.9h1v1h-1zM244.2 73.0h1v1h-1zM244.3 85.5h1v1h-1zM243.7 54.5h1v1h-1zM266.6 65.5h1v1h-1zM265.4 88.8h1v1h-1zM249.8 80.0h1v1h-1zM248.3 80.2h1v1h-1zM256.7 77.4h1v1h-1zM250.9 84.8h1v1h-1zM245.2 88.4h1v1h-1zM243.1 79.8h1v1h-1zM243.9 78.9h1v1h-1zM243.4 75.4h1v1h-1zM246.2 69.1h1v1h-1zM256.0 89.5h1v1h-1zM247.4 79.6h1v1h-1zM242.4 85.8h1v1h-1zM248.0 62.5h1v1h-1zM247.9 81.3h1v1h-1zM242.7 81.8h1v1h-1zM251.7 71.3h1v1h-1zM251.7 80.7h1v1h-1zM252.2 95.7h1v1h-1zM248.2 90.1h1v1h-1zM248.5 84.1h1v1h-1zM244.7 88.7h1v1h-1zM248.1 87.4h1v1h-1zM251.2 66.0h1v1h-1zM255.4 65.9h1v1h-1zM253.3 85.4h1v1h-1zM244.7 96.1h1v1h-1zM252.1 70.2h1v1h-1zM245.6 85.2h1v1h-1zM254.7 91.8h1v1h-1zM243.5 91.1h1v1h-1zM246.3 60.4h1v1h-1zM251.6 63.3h1v1h-1zM245.7 90.9h1v1h-1zM246.8 60.0h1v1h-1zM247.4 51.5h1v1h-1zM247.3 74.4h1v1h-1zM251.6 79.6h1v1h-1zM245.0 95.5h1v1h-1zM242.2 89.5h1v1h-1zM254.1 83.5h1v1h-1zM246.2 88.4h1v1h-1zM251.5 76.8h1v1h-1zM249.7 97.0h1v1h-1zM242.1 86.0h1v1h-1zM244.5 65.1h1v1h-1zM248.1 89.9h1v1h-1zM250.8 90.2h1v1h-1zM251.8 87.4h1v1h-1zM246.3 78.0h1v1h-1zM255.5 54.4h1v1h-1zM253.9 79.3h1v1h-1zM245.0 71.1h1v1h-1zM253.9 100.1h1v1h-1zM257.5 77.9h1v1h-1zM251.3 76.3h1v1h-1zM249.9 66.9h1v1h-1zM243.8 90.9h1v1h-1zM250.5 83.6h1v1h-1zM247.3 97.3h1v1h-1zM253.6 90.7h1v1h-1zM242.9 85.3h1v1h-1zM256.3 82.9h1v1h-1zM243.4 81.4h1v1h-1zM247.2 44.8h1v1h-1zM264.5 85.8h1v1h-1zM262.0 77.3h1v1h-1zM243.0 85.9h1v1h-1zM250.5 68.3h1v1h-1zM244.0 93.1h1v1h-1zM243.6 86.5h1v1h-1zM246.9 70.8h1v1h-1zM245.6 77.7h1v1h-1zM246.0 88.2h1v1h-1zM249.5 87.3h1v1h-1zM243.5 71.1h1v1h-1zM248.5 87.6h1v1h-1zM247.8 78.7h1v1h-1zM262.1 82.7h1v1h-1zM256.0 77.3h1v1h-1zM245.8 67.6h1v1h-1zM253.1 77.7h1v1h-1zM246.9 53.4h1v1h-1zM256.9 96.8h1v1h-1zM269.2 75.9h1v1h-1zM259.5 86.0h1v1h-1zM248.8 58.5h1v1h-1zM245.5 83.9h1v1h-1zM254.0 86.5h1v1h-1zM258.1 84.0h1v1h-1zM243.1 86.6h1v1h-1zM241.1 90.2h1v1h-1zM262.3 82.6h1v1h-1zM252.2 60.4h1v1h-1zM244.8 75.7h1v1h-1zM248.3 69.6h1v1h-1zM247.1 80.3h1v1h-1zM254.2 86.6h1v1h-1zM245.2 91.0h1v1h-1zM242.7 92.8h1v1h-1zM248.1 90.3h1v1h-1zM244.7 82.6h1v1h-1zM256.7 88.6h1v1h-1zM254.4 94.4h1v1h-1zM245.4 81.2h1v1h-1zM245.1 85.9h1v1h-1zM246.2 86.3h1v1h-1zM251.4 78.1h1v1h-1zM248.2 96.6h1v1h-1zM249.1 93.7h1v1h-1zM256.4 76.9h1v1h-1zM257.8 91.6h1v1h-1zM257.6 82.8h1v1h-1zM243.3 69.7h1v1h-1zM254.0 90.8h1v1h-1zM259.0 68.4h1v1h-1zM251.2 89.2h1v1h-1zM255.2 67.9h1v1h-1zM250.1 70.3h1v1h-1zM247.4 88.7h1v1h-1zM253.4 91.0h1v1h-1zM248.5 94.5h1v1h-1zM254.8 77.8h1v1h-1zM247.8 85.9h1v1h-1zM268.4 68.8h1v1h-1zM243.0 94.0h1v1h-1zM252.6 91.9h1v1h-1zM252.0 55.8h1v1h-1zM254.0 69.0h1v1h-1zM257.1 64.5h1v1h-1zM249.8 80.5h1v1h-1zM249.9 68.4h1v1h-1zM247.2 87.4h1v1h-1zM265.8 92.0h1v1h-1zM252.0 82.7h1v1h-1zM247.5 84.5h1v1h-1zM247.3 97.3h1v1h-1zM244.0 79.0h1v1h-1zM243.1 83.1h1v1h-1zM243.9 75.0h1v1h-1zM255.3 101.0h1v1h-1zM251.9 88.0h1v1h-1zM246.2 83.4h1v1h-1zM246.5 83.3h1v1h-1zM245.5 83.1h1v1h-1zM248.5 88.9h1v1h-1zM256.5 61.4h1v1h-1zM242.0 84.8h1v1h-1zM260.2 51.2h1v1h-1zM247.3 92.4h1v1h-1zM244.7 52.0h1v1h-1zM247.1 97.1h1v1h-1zM246.5 84.4h1v1h-1zM244.9 81.3h1v1h-1zM246.4 95.2h1v1h-1zM246.7 75.3h1v1h-1zM248.2 86.3h1v1h-1zM253.4 80.3h1v1h-1zM245.1 79.1h1v1h-1zM254.6 87.9h1v1h-1zM250.6 92.5h1v1h-1zM247.1 90.4h1v1h-1zM258.6 57.4h1v1h-1zM246.6 48.2h1v1h-1zM245.2 90.2h1v1h-1zM242.8 88.4h1v1h-1zM242.6 85.8h1v1h-1zM244.0 58.5h1v1h-1zM245.8 65.1h1v1h-1zM249.3 83.3h1v1h-1zM245.1 68.0h1v1h-1zM245.4 68.3h1v1h-1zM248.6 80.6h1v1h-1zM243.2 85.2h1v1h-1zM242.9 73.4h1v1h-1zM246.3 92.1h1v1h-1zM248.0 86.6h1v1h-1zM244.5 76.3h1v1h-1zM244.6 76.5h1v1h-1zM246.7 82.9h1v1h-1zM244.7 86.1h1v1h-1zM249.4 88.8h1v1h-1zM241.7 92.8h1v1h-1zM245.6 85.2h1v1h-1zM246.3 71.5h1v1h-1zM247.8 86.3h1v1h-1zM245.1 92.5h1v1h-1zM246.3 77.0h1v1h-1zM245.2 71.8h1v1h-1zM247.5 98.9h1v1h-1zM249.9 82.0h1v1h-1zM249.7 83.1h1v1h-1zM245.5 58.4h1v1h-1zM241.5 90.9h1v1h-1zM248.0 63.1h1v1h-1zM250.1 62.6h1v1h-1zM244.4 83.6h1v1h-1zM255.9 70.2h1v1h-1zM241.9 75.1h1v1h-1zM243.9 58.4h1v1h-1zM247.9 82.1h1v1h-1zM247.0 62.2h1v1h-1zM252.9 67.8h1v1h-1zM247.5 73.9h1v1h-1zM257.2 48.2h1v1h-1zM264.9 79.2h1v1h-1zM252.1 59.7h1v1h-1zM259.3 84.8h1v1h-1zM246.3 87.9h1v1h-1zM253.5 92.5h1v1h-1zM242.6 84.7h1v1h-1zM250.5 98.3h1v1h-1zM242.1 80.3h1v1h-1zM243.5 82.5h1v1h-1zM252.8 70.7h1v1h-1zM246.9 68.5h1v1h-1zM244.8 84.1h1v1h-1zM246.9 76.7h1v1h-1zM256.1 75.8h1v1h-1zM254.0 71.7h1v1h-1zM249.9 60.8h1v1h-1zM250.1 72.6h1v1h-1zM265.4 71.6h1v1h-1zM245.7 72.7h1v1h-1zM245.3 77.2h1v1h-1zM255.0 87.1h1v1h-1zM254.3 65.2h1v1h-1zM258.2 85.1h1v1h-1zM255.3 87.1h1v1h-1zM243.0 85.2h1v1h-1zM251.5 87.0h1v1h-1zM252.3 82.6h1v1h-1zM246.8 90.0h1v1h-1zM249.9 73.7h1v1h-1zM251.6 87.7h1v1h-1zM242.8 65.9h1v1h-1zM245.4 63.2h1v1h-1zM244.6 71.5h1v1h-1zM244.2 76.4h1v1h-1zM255.9 83.9h1v1h-1zM245.8 91.6h1v1h-1zM248.3 77.7h1v1h-1zM251.5 91.9h1v1h-1zM244.5 77.9h1v1h-1zM250.9 97.7h1v1h-1zM251.8 59.8h1v1h-1zM245.3 68.6h1v1h-1zM245.9 84.2h1v1h-1zM250.7 90.4h1v1h-1zM254.6 52.7h1v1h-1zM244.4 82.4h1v1h-1zM259.6 92.9h1v1h-1zM252.0 68.4h1v1h-1zM265.0 90.0h1v1h-1zM254.0 88.2h1v1h-1zM256.4 67.1h1v1h-1zM253.4 50.8h1v1h-1zM261.5 84.2h1v1h-1zM249.5 85.1h1v1h-1zM243.3 93.7h1v1h-1zM254.8 86.6h1v1h-1zM259.4 61.7h1v1h-1zM251.8 84.3h1v1h-1zM252.9 80.8h1v1h-1zM248.8 79.4h1v1h-1zM252.8 49.6h1v1h-1zM249.1 71.0h1v1h-1zM251.4 88.7h1v1h-1zM247.2 74.3h1v1h-1zM246.6 86.6h1v1h-1zM247.0 78.0h1v1h-1zM262.5 86.0h1v1h-1zM247.3 69.5h1v1h-1zM255.2 88.2h1v1h-1zM243.0 85.1h1v1h-1zM244.8 91.3h1v1h-1zM241.4 86.8h1v1h-1zM267.8 91.7h1v1h-1zM249.5 80.2h1v1h-1zM247.9 84.6h1v1h-1zM249.0 83.6h1v1h-1zM245.2 82.3h1v1h-1zM255.8 69.9h1v1h-1zM257.6 79.9h1v1h-1zM249.5 83.7h1v1h-1zM252.3 81.5h1v1h-1zM250.8 95.0h1v1h-1zM243.4 84.1h1v1h-1zM248.7 76.1h1v1h-1zM247.0 86.9h1v1h-1zM248.3 90.1h1v1h-1zM255.7 82.4h1v1h-1zM245.2 82.5h1v1h-1zM261.4 81.5h1v1h-1zM255.9 55.6h1v1h-1zM244.5 93.0h1v1h-1zM249.7 78.5h1v1h-1zM245.6 65.2h1v1h-1zM243.9 88.9h1v1h-1zM248.4 79.2h1v1h-1zM255.3 70.0h1v1h-1zM248.0 76.9h1v1h-1zM250.1 89.6h1v1h-1zM258.0 82.0h1v1h-1zM244.9 87.7h1v1h-1zM249.7 87.8h1v1h-1zM254.9 48.4h1v1h-1zM242.5 106.7h1v1h-1zM253.9 82.1h1v1h-1zM247.1 82.3h1v1h-1zM243.3 78.0h1v1h-1zM241.5 84.4h1v1h-1zM244.8 83.9h1v1h-1zM259.7 92.5h1v1h-1zM246.4 70.4h1v1h-1zM243.2 87.7h1v1h-1zM241.6 89.7h1v1h-1zM244.6 80.9h1v1h-1zM247.8 78.8h1v1h-1zM248.6 65.1h1v1h-1zM251.1 73.5h1v1h-1zM247.0 87.1h1v1h-1zM251.5 78.7h1v1h-1zM256.4 87.4h1v1h-1zM252.7 83.9h1v1h-1zM247.0 74.8h1v1h-1zM242.4 93.5h1v1h-1zM254.2 82.7h1v1h-1zM253.5 77.3h1v1h-1zM260.0 89.0h1v1h-1zM248.8 58.0h1v1h-1zM246.6 93.2h1v1h-1zM264.1 61.1h1v1h-1zM254.0 101.3h1v1h-1zM243.7 82.6h1v1h-1zM243.9 87.1h1v1h-1zM247.4 75.7h1v1h-1zM243.3 66.5h1v1h-1zM247.2 54.0h1v1h-1zM253.6 84.1h1v1h-1zM261.8 57.5h1v1h-1zM250.5 85.1h1v1h-1zM247.9 73.5h1v1h-1zM248.3 84.4h1v1h-1zM247.5 69.9h1v1h-1zM254.0 87.2h1v1h-1zM246.3 71.6h1v1h-1zM249.1 90.1h1v1h-1zM252.8 64.2h1v1h-1zM248.1 86.4h1v1h-1zM259.4 64.8h1v1h-1zM245.6 80.5h1v1h-1zM252.5 76.2h1v1h-1zM250.5 68.0h1v1h-1zM242.4 76.9h1v1h-1zM256.0 83.9h1v1h-1zM251.5 76.5h1v1h-1zM248.9 61.5h1v1h-1zM245.9 46.0h1v1h-1zM260.1 85.5h1v1h-1zM245.0 84.2h1v1h-1zM248.4 61.9h1v1h-1zM241.6 85.1h1v1h-1zM243.7 93.8h1v1h-1zM244.9 70.9h1v1h-1zM260.7 77.3h1v1h-1zM249.4 92.8h1v1h-1zM250.6 83.1h1v1h-1zM241.8 86.2h1v1h-1zM250.3 71.7h1v1h-1zM246.9 80.7h1v1h-1zM259.1 85.2h1v1h-1zM261.4 49.7h1v1h-1zM242.4 85.6h1v1h-1zM248.9 59.3h1v1h-1zM249.2 89.9h1v1h-1zM245.2 85.7h1v1h-1zM245.7 83.0h1v1h-1zM249.7 82.4h1v1h-1zM251.5 90.2h1v1h-1zM251.8 93.6h1v1h-1zM247.0 73.8h1v1h-1zM244.1 91.4h1v1h-1zM244.1 84.9h1v1h-1zM255.9 86.7h1v1h-1zM249.5 80.1h1v1h-1zM249.1 80.9h1v1h-1zM247.1 83.4h1v1h-1zM243.3 82.4h1v1h-1zM255.8 81.1h1v1h-1zM248.2 84.8h1v1h-1zM247.8 89.8h1v1h-1zM246.5 63.9h1v1h-1zM246.2 91.5h1v1h-1zM256.0 79.9h1v1h-1zM245.9 73.8h1v1h-1zM248.4 82.8h1v1h-1zM248.7 84.7h1v1h-1zM242.1 84.6h1v1h-1zM252.0 72.3h1v1h-1zM257.4 71.0h1v1h-1zM243.1 79.1h1v1h-1zM247.3 80.1h1v1h-1zM247.8 82.8h1v1h-1zM258.9 93.9h1v1h-1zM248.6 66.0h1v1h-1zM255.5 67.3h1v1h-1zM256.2 65.2h1v1h-1zM246.8 76.3h1v1h-1zM248.8 75.0h1v1h-1zM244.6 74.0h1v1h-1zM249.7 85.1h1v1h-1zM253.4 90.9h1v1h-1zM255.6 80.4h1v1h-1zM256.3 95.1h1v1h-1zM252.2 65.3h1v1h-1zM244.7 91.8h1v1h-1zM241.5 85.5h1v1h-1zM242.3 81.6h1v1h-1zM247.5 85.5h1v1h-1zM249.3 88.4h1v1h-1zM246.7 63.4h1v1h-1zM246.3 91.8h1v1h-1zM248.5 91.4h1v1h-1zM247.0 86.0h1v1h-1zM252.3 84.4h1v1h-1zM246.2 82.7h1v1h-1zM242.1 84.3h1v1h-1zM243.4 85.1h1v1h-1zM252.3 83.1h1v1h-1zM247.8 54.3h1v1h-1zM246.0 90.3h1v1h-1zM248.9 77.8h1v1h-1zM245.1 83.0h1v1h-1zM245.9 70.7h1v1h-1zM253.4 86.2h1v1h-1zM253.2 78.4h1v1h-1zM248.2 81.5h1v1h-1zM255.9 87.5h1v1h-1zM242.5 81.4h1v1h-1zM246.5 62.3h1v1h-1zM246.2 58.9h1v1h-1zM250.7 75.1h1v1h-1zM242.9 84.9h1v1h-1zM249.6 83.0h1v1h-1zM244.6 62.0h1v1h-1zM245.7 85.1h1v1h-1zM242.0 96.2h1v1h-1zM255.9 76.7h1v1h-1zM250.7 88.9h1v1h-1zM252.2 96.0h1v1h-1zM244.7 82.4h1v1h-1zM250.9 66.1h1v1h-1zM244.4 77.4h1v1h-1zM245.9 83.5h1v1h-1zM249.7 86.8h1v1h-1zM242.5 84.0h1v1h-1zM248.4 82.0h1v1h-1zM245.4 82.6h1v1h-1zM245.1 90.4h1v1h-1zM245.8 86.5h1v1h-1zM250.7 70.1h1v1h-1zM245.9 85.1h1v1h-1zM242.9 76.5h1v1h-1zM251.0 74.7h1v1h-1zM244.4 83.2h1v1h-1zM251.2 90.7h1v1h-1zM268.2 73.9h1v1h-1zM250.4 63.5h1v1h-1zM248.7 84.1h1v1h-1zM251.2 70.1h1v1h-1zM255.7 74.2h1v1h-1zM246.8 67.8h1v1h-1zM245.7 90.8h1v1h-1zM245.2 87.0h1v1h-1zM244.7 88.5h1v1h-1zM248.1 74.0h1v1h-1zM244.1 85.0h1v1h-1zM255.5 92.6h1v1h-1zM243.6 79.7h1v1h-1zM255.0 85.3h1v1h-1zM246.4 89.9h1v1h-1zM242.0 82.2h1v1h-1zM252.5 79.3h1v1h-1zM245.9 87.7h1v1h-1zM248.5 65.2h1v1h-1zM246.5 54.9h1v1h-1zM245.5 85.7h1v1h-1zM251.8 82.8h1v1h-1zM244.5 66.7h1v1h-1zM241.5 89.1h1v1h-1zM255.9 94.2h1v1h-1zM251.9 84.1h1v1h-1zM252.5 82.2h1v1h-1zM256.9 78.2h1v1h-1zM246.5 81.9h1v1h-1zM247.3 71.5h1v1h-1zM246.5 87.5h1v1h-1zM249.7 67.5h1v1h-1zM241.9 74.7h1v1h-1zM263.4 82.9h1v1h-1zM247.3 86.9h1v1h-1zM251.7 83.9h1v1h-1zM252.1 78.9h1v1h-1zM244.0 84.0h1v1h-1zM249.1 81.8h1v1h-1zM247.8 78.4h1v1h-1zM245.0 88.7h1v1h-1zM248.1 76.8h1v1h-1zM248.1 83.9h1v1h-1zM256.9 81.7h1v1h-1zM243.8 89.5h1v1h-1zM256.5 92.0h1v1h-1zM250.8 70.1h1v1h-1zM252.4 90.8h1v1h-1zM242.2 87.5h1v1h-1zM248.8 69.3h1v1h-1zM251.6 82.7h1v1h-1zM246.9 73.1h1v1h-1zM243.3 81.0h1v1h-1zM262.4 58.7h1v1h-1zM248.7 55.2h1v1h-1zM248.2 85.5h1v1h-1zM247.8 82.7h1v1h-1zM242.6 77.4h1v1h-1zM252.0 79.7h1v1h-1zM248.5 76.9h1v1h-1zM251.0 92.3h1v1h-1zM249.4 76.2h1v1h-1zM255.9 78.1h1v1h-1zM248.9 89.2h1v1h-1zM244.8 85.7h1v1h-1zM242.6 81.6h1v1h-1zM243.3 88.0h1v1h-1zM252.6 73.9h1v1h-1zM244.8 80.9h1v1h-1zM251.3 71.1h1v1h-1zM252.0 72.6h1v1h-1zM245.4 86.2h1v1h-1zM256.7 86.9h1v1h-1zM253.4 62.7h1v1h-1zM255.9 83.4h1v1h-1zM244.5 85.7h1v1h-1zM249.0 53.8h1v1h-1zM252.7 54.3h1v1h-1z" fill="#ff0000" opacity="1"/>
<path d="M268.8 77.5h1v1h-1zM249.8 48.8h1v1h-1zM265.5 41.3h1v1h-1zM255.6 77.1h1v1h-1zM257.2 38.0h1v1h-1zM259.0 59.1h1v1h-1zM253.5 68.1h1v1h-1zM249.8 60.7h1v1h-1zM262.2 45.0h1v1h-1zM256.2 77.4h1v1h-1zM255.6 35.5h1v1h-1zM254.0 58.8h1v1h-1zM254.4 49.4h1v1h-1zM262.8 48.4h1v1h-1zM249.0 71.2h1v1h-1zM257.9 53.8h1v1h-1zM254.7 67.7h1v1h-1zM246.0 78.8h1v1h-1zM267.6 37.9h1v1h-1zM249.7 73.2h1v1h-1zM257.0 46.2h1v1h-1zM254.7 64.8h1v1h-1zM257.5 47.5h1v1h-1zM254.7 35.0h1v1h-1zM251.8 57.0h1v1h-1zM252.5 71.0h1v1h-1zM244.3 79.0h1v1h-1zM258.8 51.9h1v1h-1zM251.8 52.5h1v1h-1zM258.2 64.4h1v1h-1zM247.8 71.5h1v1h-1zM256.5 42.2h1v1h-1zM251.7 81.4h1v1h-1zM253.0 65.1h1v1h-1zM246.0 77.0h1v1h-1zM260.2 70.5h1v1h-1zM254.6 71.3h1v1h-1zM253.2 32.9h1v1h-1zM261.3 35.1h1v1h-1zM253.9 79.4h1v1h-1zM247.1 78.1h1v1h-1zM245.7 72.4h1v1h-1zM250.2 63.8h1v1h-1zM247.6 79.5h1v1h-1zM261.0 52.2h1v1h-1zM267.0 58.2h1v1h-1zM256.8 64.4h1v1h-1zM254.0 54.6h1v1h-1zM247.1 73.6h1v1h-1zM247.9 74.9h1v1h-1zM259.5 48.2h1v1h-1zM251.0 73.1h1v1h-1zM257.0 44.9h1v1h-1zM256.8 57.7h1v1h-1zM252.9 64.2h1v1h-1zM258.7 80.2h1v1h-1zM249.8 63.3h1v1h-1zM253.0 51.6h1v1h-1zM252.6 69.7h1v1h-1zM259.9 45.3h1v1h-1zM257.7 57.1h1v1h-1zM251.7 70.1h1v1h-1zM263.6 46.4h1v1h-1zM250.9 66.3h1v1h-1zM249.0 79.7h1v1h-1zM254.4 80.7h1v1h-1zM254.8 63.8h1v1h-1zM248.0 64.3h1v1h-1zM251.7 71.7h1v1h-1zM247.3 70.7h1v1h-1zM261.5 44.5h1v1h-1zM246.9 79.1h1v1h-1zM256.0 61.2h1v1h-1zM261.2 47.2h1v1h-1zM253.7 74.6h1v1h-1zM251.6 51.1h1v1h-1zM256.2 50.0h1v1h-1zM254.3 38.7h1v1h-1zM259.5 37.6h1v1h-1zM265.9 30.6h1v1h-1zM262.7 45.3h1v1h-1zM258.7 64.3h1v1h-1zM245.8 81.0h1v1h-1zM256.8 49.8h1v1h-1zM266.9 64.1h1v1h-1zM248.7 58.5h1v1h-1zM254.8 35.1h1v1h-1zM263.4 48.2h1v1h-1zM249.2 58.3h1v1h-1zM246.2 80.5h1v1h-1zM261.7 77.8h1v1h-1zM252.8 72.4h1v1h-1zM250.9 52.1h1v1h-1zM248.5 79.4h1v1h-1zM268.6 30.3h1v1h-1zM254.1 58.2h1v1h-1zM251.3 59.4h1v1h-1zM260.4 36.5h1v1h-1zM256.6 77.9h1v1h-1zM252.0 41.7h1v1h-1zM264.4 36.9h1v1h-1zM247.5 62.8h1v1h-1zM251.4 59.4h1v1h-1zM251.8 55.9h1v1h-1zM258.1 71.1h1v1h-1zM250.8 65.3h1v1h-1zM260.9 36.2h1v1h-1zM252.8 48.4h1v1h-1zM248.2 61.5h1v1h-1zM260.0 64.5h1v1h-1zM252.5 51.6h1v1h-1zM257.3 59.2h1v1h-1zM267.0 71.4h1v1h-1zM248.5 58.0h1v1h-1zM258.8 73.4h1v1h-1zM267.7 76.8h1v1h-1zM251.8 74.8h1v1h-1zM254.0 57.4h1v1h-1zM262.2 54.4h1v1h-1zM250.7 82.0h1v1h-1zM249.4 64.1h1v1h-1zM247.7 74.3h1v1h-1zM248.2 76.3h1v1h-1zM268.7 68.2h1v1h-1zM251.0 80.6h1v1h-1zM256.3 61.3h1v1h-1zM251.6 80.3h1v1h-1zM255.7 69.5h1v1h-1zM254.9 46.7h1v1h-1zM252.8 45.4h1v1h-1zM256.9 28.7h1v1h-1zM257.2 47.3h1v1h-1zM246.6 80.7h1v1h-1zM254.0 41.4h1v1h-1zM262.4 61.3h1v1h-1zM266.7 23.1h1v1h-1zM256.5 55.4h1v1h-1zM261.7 56.0h1v1h-1zM247.9 79.6h1v1h-1zM252.4 44.9h1v1h-1zM261.4 41.3h1v1h-1zM258.3 60.6h1v1h-1zM246.6 78.6h1v1h-1zM263.4 30.2h1v1h-1zM259.0 69.4h1v1h-1zM262.3 50.2h1v1h-1zM261.8 69.7h1v1h-1zM250.2 72.5h1v1h-1zM257.9 30.7h1v1h-1zM263.8 45.7h1v1h-1zM256.6 54.1h1v1h-1zM254.2 57.6h1v1h-1zM254.4 66.6h1v1h-1zM259.1 46.4h1v1h-1zM247.2 68.6h1v1h-1zM249.8 70.1h1v1h-1zM252.4 40.5h1v1h-1zM264.2 63.5h1v1h-1zM256.0 61.9h1v1h-1zM250.0 71.3h1v1h-1zM247.5 75.6h1v1h-1zM256.4 73.7h1v1h-1zM256.2 39.1h1v1h-1zM252.8 72.3h1v1h-1zM250.1 77.4h1v1h-1zM254.6 66.1h1v1h-1zM268.8 81.4h1v1h-1zM250.1 60.8h1v1h-1zM247.0 70.6h1v1h-1zM249.0 69.7h1v1h-1zM253.0 61.4h1v1h-1zM251.4 74.4h1v1h-1zM265.1 21.0h1v1h-1zM249.8 72.6h1v1h-1zM254.7 32.9h1v1h-1zM256.7 59.5h1v1h-1zM255.0 75.0h1v1h-1zM245.4 75.9h1v1h-1zM252.8 81.3h1v1h-1zM266.2 66.2h1v1h-1zM253.8 37.5h1v1h-1zM250.1 56.3h1v1h-1zM259.1 28.9h1v1h-1zM253.6 33.9h1v1h-1zM250.7 68.6h1v1h-1zM257.6 42.3h1v1h-1zM251.9 65.8h1v1h-1zM256.5 80.2h1v1h-1zM250.8 81.6h1v1h-1zM254.7 67.5h1v1h-1zM247.4 72.6h1v1h-1zM257.5 49.3h1v1h-1zM255.4 32.1h1v1h-1zM260.3 49.6h1v1h-1zM253.9 58.5h1v1h-1zM260.0 65.5h1v1h-1zM253.4 59.2h1v1h-1zM255.4 47.6h1v1h-1zM254.7 81.8h1v1h-1zM258.1 19.7h1v1h-1zM249.5 59.4h1v1h-1zM251.6 76.0h1v1h-1zM247.1 77.5h1v1h-1zM248.5 73.4h1v1h-1zM251.3 76.0h1v1h-1zM265.9 66.6h1v1h-1zM258.0 65.8h1v1h-1zM261.1 23.8h1v1h-1zM250.4 71.4h1v1h-1zM268.6 57.5h1v1h-1zM251.9 67.1h1v1h-1zM249.1 59.5h1v1h-1zM255.3 44.1h1v1h-1zM266.1 41.9h1v1h-1zM251.0 54.7h1v1h-1zM249.4 57.3h1v1h-1zM259.3 82.0h1v1h-1zM253.7 66.8h1v1h-1zM247.9 66.1h1v1h-1zM253.2 80.9h1v1h-1zM255.6 71.5h1v1h-1zM256.1 43.8h1v1h-1zM268.8 77.9h1v1h-1zM248.4 76.2h1v1h-1zM250.5 59.9h1v1h-1zM249.3 75.6h1v1h-1zM260.7 35.0h1v1h-1zM250.0 59.5h1v1h-1zM243.4 80.7h1v1h-1zM246.7 71.4h1v1h-1zM254.6 59.3h1v1h-1zM248.5 58.9h1v1h-1zM253.8 80.1h1v1h-1zM254.5 68.4h1v1h-1zM261.5 28.7h1v1h-1zM253.2 63.0h1v1h-1zM255.6 79.7h1v1h-1zM255.7 69.4h1v1h-1zM259.0 70.7h1v1h-1zM254.0 58.2h1v1h-1zM246.3 78.2h1v1h-1zM250.0 66.4h1v1h-1zM258.4 62.2h1v1h-1zM247.6 62.3h1v1h-1zM247.3 78.2h1v1h-1zM249.1 61.8h1v1h-1zM256.9 62.0h1v1h-1zM254.6 67.4h1v1h-1zM261.2 62.8h1v1h-1zM251.9 45.2h1v1h-1zM256.8 56.6h1v1h-1z" fill="#ff0000" opacity="0.6"/>
<path d="M270.6 81.0h1v1h-1zM269.7 71.5h1v1h-1zM273.2 82.9h1v1h-1zM277.7 67.1h1v1h-1zM280.4 91.1h1v1h-1zM270.3 62.2h1v1h-1zM271.8 69.3h1v1h-1zM271.1 78.1h1v1h-1zM269.7 74.6h1v1h-1zM273.5 79.5h1v1h-1zM272.8 83.2h1v1h-1zM271.8 82.4h1v1h-1zM270.5 84.5h1v1h-1zM275.0 53.2h1v1h-1zM278.1 80.7h1v1h-1zM277.4 67.3h1v1h-1zM276.3 64.1h1v1h-1zM275.4 89.0h1v1h-1zM278.9 54.8h1v1h-1zM274.4 78.9h1v1h-1zM270.0 84.9h1v1h-1zM284.5 90.5h1v1h-1zM278.2 87.7h1v1h-1zM273.2 62.7h1v1h-1zM274.6 78.8h1v1h-1zM274.4 98.5h1v1h-1zM272.7 84.0h1v1h-1zM275.0 70.9h1v1h-1zM270.1 85.4h1v1h-1zM269.8 98.7h1v1h-1zM274.4 39.4h1v1h-1zM285.4 30.3h1v1h-1zM270.7 75.4h1v1h-1zM272.0 62.3h1v1h-1zM278.5 86.7h1v1h-1zM271.2 84.8h1v1h-1zM279.8 78.3h1v1h-1zM273.4 72.9h1v1h-1zM270.7 51.5h1v1h-1zM279.2 94.8h1v1h-1zM279.1 90.1h1v1h-1zM293.2 79.2h1v1h-1zM283.9 75.0h1v1h-1zM275.9 89.5h1v1h-1zM285.9 85.7h1v1h-1zM271.6 81.5h1v1h-1zM289.2 79.6h1v1h-1zM270.8 92.9h1v1h-1zM277.7 71.6h1v1h-1zM282.2 90.0h1v1h-1zM277.4 85.4h1v1h-1zM271.5 87.9h1v1h-1zM284.9 81.4h1v1h-1zM280.6 88.9h1v1h-1zM274.1 87.6h1v1h-1zM275.0 83.2h1v1h-1zM288.2 72.7h1v1h-1zM281.1 80.6h1v1h-1zM276.2 85.1h1v1h-1zM277.6 70.4h1v1h-1zM285.2 86.3h1v1h-1zM276.0 73.8h1v1h-1zM282.8 95.2h1v1h-1zM282.4 75.8h1v1h-1zM297.0 59.0h1v1h-1zM285.0 72.4h1v1h-1zM277.7 66.1h1v1h-1zM273.1 74.3h1v1h-1zM288.0 81.7h1v1h-1zM282.5 84.6h1v1h-1zM280.6 95.3h1v1h-1zM285.6 82.3h1v1h-1zM284.9 91.6h1v1h-1zM294.6 73.8h1v1h-1zM272.8 81.8h1v1h-1zM272.3 81.3h1v1h-1zM277.0 85.7h1v1h-1zM296.1 79.7h1v1h-1zM277.0 78.4h1v1h-1zM281.6 82.3h1v1h-1zM279.1 96.1h1v1h-1zM270.8 98.8h1v1h-1zM272.9 94.6h1v1h-1zM289.7 92.8h1v1h-1zM286.3 81.6h1v1h-1zM272.1 84.4h1v1h-1zM281.7 74.3h1v1h-1zM277.6 70.6h1v1h-1zM289.3 84.9h1v1h-1zM288.9 70.5h1v1h-1zM278.5 80.1h1v1h-1zM292.5 80.3h1v1h-1zM295.2 73.1h1v1h-1zM296.2 70.9h1v1h-1zM294.2 82.5h1v1h-1zM289.3 87.4h1v1h-1zM274.0 92.0h1v1h-1zM281.4 78.6h1v1h-1zM286.7 92.8h1v1h-1zM270.8 66.7h1v1h-1zM281.7 83.1h1v1h-1zM306.8 69.4h1v1h-1zM277.9 80.0h1v1h-1zM310.9 78.0h1v1h-1zM276.7 89.8h1v1h-1zM272.0 66.9h1v1h-1zM271.4 93.1h1v1h-1zM284.4 88.6h1v1h-1zM276.8 73.5h1v1h-1zM276.5 75.0h1v1h-1zM289.1 77.2h1v1h-1zM281.5 84.7h1v1h-1zM282.8 84.7h1v1h-1zM277.1 85.2h1v1h-1zM280.4 68.9h1v1h-1zM292.1 87.2h1v1h-1zM279.2 86.0h1v1h-1zM295.2 73.1h1v1h-1zM301.0 90.4h1v1h-1zM280.4 84.3h1v1h-1zM280.7 99.4h1v1h-1zM285.7 80.5h1v1h-1zM276.2 59.8h1v1h-1zM272.8 93.8h1v1h-1zM277.4 74.4h1v1h-1zM289.7 73.7h1v1h-1zM273.0 81.2h1v1h-1zM273.1 86.8h1v1h-1zM283.2 84.6h1v1h-1zM300.2 65.0h1v1h-1zM275.0 82.8h1v1h-1zM302.9 59.8h1v1h-1zM270.7 94.1h1v1h-1zM280.3 82.7h1v1h-1zM273.2 88.9h1v1h-1zM274.1 75.4h1v1h-1zM282.4 61.6h1v1h-1zM282.7 74.2h1v1h-1zM272.0 86.9h1v1h-1zM317.9 79.7h1v1h-1zM270.5 88.6h1v1h-1zM290.4 83.0h1v1h-1zM271.9 69.4h1v1h-1zM298.3 79.3h1v1h-1zM286.4 79.1h1v1h-1zM305.6 74.7h1v1h-1zM285.7 84.1h1v1h-1zM284.4 90.9h1v1h-1zM274.8 81.1h1v1h-1zM270.6 98.4h1v1h-1zM289.3 89.3h1v1h-1zM293.1 84.4h1v1h-1zM271.1 94.1h1v1h-1zM276.7 77.1h1v1h-1zM287.4 67.1h1v1h-1zM276.5 79.5h1v1h-1zM274.5 84.5h1v1h-1zM276.9 94.4h1v1h-1zM280.0 73.2h1v1h-1zM288.2 79.5h1v1h-1zM273.4 84.6h1v1h-1zM273.1 75.8h1v1h-1zM275.9 91.0h1v1h-1zM289.9 76.2h1v1h-1zM270.8 83.3h1v1h-1zM281.0 76.7h1v1h-1zM284.3 94.1h1v1h-1zM287.2 70.8h1v1h-1zM290.7 79.5h1v1h-1zM283.6 85.9h1v1h-1zM272.2 88.5h1v1h-1zM281.1 81.7h1v1h-1zM275.6 84.7h1v1h-1zM284.0 73.4h1v1h-1zM273.6 98.5h1v1h-1zM275.8 94.6h1v1h-1zM280.1 68.1h1v1h-1zM275.3 73.5h1v1h-1zM274.3 83.6h1v1h-1zM280.8 84.1h1v1h-1zM275.2 93.7h1v1h-1zM288.0 65.0h1v1h-1zM283.3 84.5h1v1h-1zM279.8 74.7h1v1h-1zM280.0 87.7h1v1h-1zM271.5 85.9h1v1h-1zM272.6 89.0h1v1h-1zM288.9 89.9h1v1h-1zM282.7 72.6h1v1h-1zM287.5 78.7h1v1h-1zM291.6 79.1h1v1h-1zM277.6 86.6h1v1h-1zM286.5 78.9h1v1h-1zM275.8 97.6h1v1h-1zM283.8 89.3h1v1h-1zM283.4 84.0h1v1h-1zM274.0 89.0h1v1h-1zM281.1 90.5h1v1h-1zM293.5 88.5h1v1h-1zM275.6 79.2h1v1h-1zM274.5 98.5h1v1h-1zM271.1 102.8h1v1h-1zM271.6 88.8h1v1h-1zM288.4 78.8h1v1h-1zM271.5 80.7h1v1h-1zM288.8 74.2h1v1h-1zM275.5 89.9h1v1h-1zM294.8 59.4h1v1h-1zM294.9 83.9h1v1h-1zM270.7 96.6h1v1h-1zM275.1 70.9h1v1h-1zM280.3 70.6h1v1h-1zM280.6 71.4h1v1h-1zM293.0 84.9h1v1h-1zM276.9 78.0h1v1h-1zM295.1 76.4h1v1h-1zM292.0 75.4h1v1h-1zM271.7 68.6h1v1h-1zM287.7 75.4h1v1h-1zM284.1 75.1h1v1h-1zM295.7 78.4h1v1h-1zM285.1 61.2h1v1h-1zM286.4 89.9h1v1h-1zM292.3 74.1h1v1h-1zM274.2 89.4h1v1h-1zM276.3 74.2h1v1h-1zM285.3 94.2h1v1h-1zM272.7 86.3h1v1h-1zM278.5 87.2h1v1h-1zM279.8 77.6h1v1h-1zM293.0 65.0h1v1h-1zM277.9 84.3h1v1h-1zM275.3 66.3h1v1h-1zM290.4 91.7h1v1h-1zM283.6 72.4h1v1h-1zM284.1 90.9h1v1h-1zM277.4 84.5h1v1h-1zM276.7 87.4h1v1h-1zM276.7 83.5h1v1h-1zM278.4 95.4h1v1h-1zM276.3 68.7h1v1h-1zM283.6 72.8h1v1h-1zM280.9 94.1h1v1h-1zM277.3 73.0h1v1h-1zM275.1 83.1h1v1h-1zM282.2 82.8h1v1h-1zM280.9 77.9h1v1h-1zM296.4 64.9h1v1h-1zM272.0 93.9h1v1h-1zM281.4 71.9h1v1h-1zM279.3 79.2h1v1h-1zM282.0 88.4h1v1h-1zM290.9 75.4h1v1h-1zM273.2 93.2h1v1h-1zM278.8 93.2h1v1h-1zM276.3 77.8h1v1h-1zM272.8 87.1h1v1h-1zM302.9 73.1h1v1h-1zM272.5 76.2h1v1h-1zM273.7 80.6h1v1h-1zM279.0 81.2h1v1h-1zM281.7 73.4h1v1h-1zM279.2 81.8h1v1h-1zM307.4 64.7h1v1h-1zM272.0 73.8h1v1h-1zM278.8 79.5h1v1h-1zM279.2 84.0h1v1h-1zM275.9 93.9h1v1h-1zM281.9 70.8h1v1h-1zM273.6 73.1h1v1h-1zM278.9 81.1h1v1h-1zM277.8 80.8h1v1h-1zM277.0 92.1h1v1h-1zM278.0 90.5h1v1h-1zM278.9 79.1h1v1h-1zM283.5 75.8h1v1h-1zM276.9 83.9h1v1h-1zM278.3 92.1h1v1h-1zM272.3 80.4h1v1h-1zM281.0 96.1h1v1h-1zM282.6 70.2h1v1h-1zM290.0 58.2h1v1h-1zM270.8 80.2h1v1h-1zM304.0 73.9h1v1h-1zM270.8 101.1h1v1h-1zM271.7 73.3h1v1h-1zM271.4 85.7h1v1h-1zM285.5 68.6h1v1h-1zM279.2 81.6h1v1h-1zM284.2 73.8h1v1h-1zM275.2 97.4h1v1h-1zM283.5 71.3h1v1h-1zM279.0 86.4h1v1h-1zM283.9 88.8h1v1h-1zM279.2 76.6h1v1h-1zM275.6 90.4h1v1h-1zM276.4 82.0h1v1h-1zM282.0 95.5h1v1h-1zM277.8 89.5h1v1h-1z" fill="#f08050" opacity="0.8"/>
<text x="231.80" y="10.70" font-size="8.0" text-anchor="start" font-weight="normal" fill="#222" stroke="#222" stroke-width="0.14" >CD133</text>
<text x="258.20" y="7.80" font-size="4.25" text-anchor="start" font-weight="normal" fill="#222" stroke="#222" stroke-width="0.2" >+/high</text>
<text x="272.80" y="10.70" font-size="8.0" text-anchor="start" font-weight="normal" fill="#222" stroke="#222" stroke-width="0.14" >Cells</text>
<rect x="269.30" y="29.10" width="68.90" height="88.30" fill="none" stroke="#f26a4a" stroke-width="1.1" />
<text x="337.20" y="27.20" font-size="7.15" text-anchor="end" font-weight="normal" fill="#f26a4a" stroke="#f26a4a" stroke-width="0.14" >Mitotic Cells</text>
<rect x="414.80" y="14.60" width="110.50" height="106.00" fill="none" stroke="#b8b8b8" stroke-width="0.9" />
<line x1="413.20" y1="115.00" x2="414.80" y2="115.00" stroke="#999" stroke-width="0.6" />
<text x="412.60" y="117.10" font-size="6.1" text-anchor="end" font-weight="normal" fill="#333" stroke="#333" stroke-width="0.14" >0</text>
<line x1="413.20" y1="84.83" x2="414.80" y2="84.83" stroke="#999" stroke-width="0.6" />
<text x="412.60" y="86.93" font-size="6.1" text-anchor="end" font-weight="normal" fill="#333" stroke="#333" stroke-width="0.14" >100</text>
<line x1="413.20" y1="54.66" x2="414.80" y2="54.66" stroke="#999" stroke-width="0.6" />
<text x="412.60" y="56.76" font-size="6.1" text-anchor="end" font-weight="normal" fill="#333" stroke="#333" stroke-width="0.14" >200</text>
<line x1="413.20" y1="24.49" x2="414.80" y2="24.49" stroke="#999" stroke-width="0.6" />
<text x="412.60" y="26.59" font-size="6.1" text-anchor="end" font-weight="normal" fill="#333" stroke="#333" stroke-width="0.14" >300</text>
<line x1="421.80" y1="120.60" x2="421.80" y2="122.20" stroke="#999" stroke-width="0.6" />
<text x="421.80" y="127.60" font-size="6.0" text-anchor="middle" font-weight="normal" fill="#333" stroke="#333" stroke-width="0.14" >0</text>
<line x1="441.75" y1="120.60" x2="441.75" y2="122.20" stroke="#999" stroke-width="0.6" />
<text x="441.75" y="127.60" font-size="6.0" text-anchor="middle" font-weight="normal" fill="#333" stroke="#333" stroke-width="0.14" >5x10</text>
<text x="448.35" y="125.00" font-size="3.8" text-anchor="start" font-weight="normal" fill="#333" stroke="#333" stroke-width="0.12" >4</text>
<line x1="461.70" y1="120.60" x2="461.70" y2="122.20" stroke="#999" stroke-width="0.6" />
<text x="461.70" y="127.60" font-size="6.0" text-anchor="middle" font-weight="normal" fill="#333" stroke="#333" stroke-width="0.14" >10</text>
<text x="465.14" y="125.00" font-size="3.8" text-anchor="start" font-weight="normal" fill="#333" stroke="#333" stroke-width="0.12" >5</text>
<line x1="481.65" y1="120.60" x2="481.65" y2="122.20" stroke="#999" stroke-width="0.6" />
<text x="481.65" y="127.60" font-size="6.0" text-anchor="middle" font-weight="normal" fill="#333" stroke="#333" stroke-width="0.14" >1.5x10</text>
<text x="490.76" y="125.00" font-size="3.8" text-anchor="start" font-weight="normal" fill="#333" stroke="#333" stroke-width="0.12" >5</text>
<line x1="501.60" y1="120.60" x2="501.60" y2="122.20" stroke="#999" stroke-width="0.6" />
<text x="501.60" y="127.60" font-size="6.0" text-anchor="middle" font-weight="normal" fill="#333" stroke="#333" stroke-width="0.14" >2x10</text>
<text x="508.20" y="125.00" font-size="3.8" text-anchor="start" font-weight="normal" fill="#333" stroke="#333" stroke-width="0.12" >5</text>
<line x1="521.55" y1="120.60" x2="521.55" y2="122.20" stroke="#999" stroke-width="0.6" />
<text x="521.55" y="127.60" font-size="6.0" text-anchor="middle" font-weight="normal" fill="#333" stroke="#333" stroke-width="0.14" >2.5x10</text>
<text x="530.66" y="125.00" font-size="3.8" text-anchor="start" font-weight="normal" fill="#333" stroke="#333" stroke-width="0.12" >5</text>
<text x="422.00" y="138.00" font-size="6.15" text-anchor="start" font-weight="normal" fill="#333" stroke="#333" stroke-width="0.14" >Bright Detail Intensity R3_MC_Ch07</text>
<text x="0" y="0" font-size="6.15" text-anchor="middle" font-weight="normal" fill="#333" stroke="#333" stroke-width="0.14" transform="translate(389.80,71.30) rotate(-90)" dominant-baseline="central">Area_Threshold(M07,Ch07,50%)_Ch07</text>
<path d="M424.6 106.6h1v1h-1zM431.4 88.5h1v1h-1zM424.2 93.2h1v1h-1zM434.6 86.3h1v1h-1zM428.6 85.0h1v1h-1zM427.7 102.1h1v1h-1zM429.8 91.8h1v1h-1zM427.2 95.0h1v1h-1zM427.9 96.9h1v1h-1zM431.8 89.2h1v1h-1zM429.2 94.6h1v1h-1zM435.5 101.9h1v1h-1zM428.2 101.4h1v1h-1zM426.1 90.8h1v1h-1zM424.9 98.8h1v1h-1zM429.9 78.5h1v1h-1zM442.0 100.4h1v1h-1zM443.4 83.3h1v1h-1zM427.4 99.1h1v1h-1zM433.9 84.3h1v1h-1zM432.0 90.4h1v1h-1zM429.9 85.4h1v1h-1zM429.4 89.9h1v1h-1zM431.7 81.6h1v1h-1zM427.5 95.2h1v1h-1zM433.2 82.6h1v1h-1zM428.8 89.9h1v1h-1zM430.3 98.3h1v1h-1zM426.4 93.4h1v1h-1zM430.7 96.7h1v1h-1zM429.6 99.9h1v1h-1zM423.9 99.6h1v1h-1zM437.6 91.0h1v1h-1zM427.4 96.7h1v1h-1zM433.2 91.2h1v1h-1zM430.2 89.9h1v1h-1zM432.9 95.5h1v1h-1zM425.6 78.9h1v1h-1zM427.7 95.8h1v1h-1zM428.4 100.4h1v1h-1zM450.0 98.9h1v1h-1zM425.3 90.8h1v1h-1zM428.9 94.9h1v1h-1zM431.4 92.0h1v1h-1zM429.4 99.1h1v1h-1zM429.2 96.0h1v1h-1zM425.9 89.8h1v1h-1zM433.6 86.2h1v1h-1zM434.6 109.5h1v1h-1zM427.1 104.8h1v1h-1zM431.0 101.7h1v1h-1zM431.4 88.5h1v1h-1zM427.3 98.9h1v1h-1zM440.4 93.1h1v1h-1zM425.0 99.5h1v1h-1zM425.0 101.9h1v1h-1zM430.9 99.5h1v1h-1zM437.4 103.1h1v1h-1zM422.7 104.8h1v1h-1zM432.1 107.4h1v1h-1zM440.8 91.1h1v1h-1zM431.0 90.6h1v1h-1zM427.9 95.6h1v1h-1zM441.3 91.3h1v1h-1zM431.1 100.4h1v1h-1zM432.9 104.3h1v1h-1zM425.3 87.9h1v1h-1zM424.8 96.1h1v1h-1zM425.7 101.1h1v1h-1zM432.0 102.2h1v1h-1zM429.7 96.0h1v1h-1zM430.0 92.7h1v1h-1zM424.7 104.3h1v1h-1zM434.8 95.7h1v1h-1zM426.0 86.0h1v1h-1zM439.6 106.3h1v1h-1zM433.8 108.9h1v1h-1zM433.4 102.6h1v1h-1zM429.0 90.6h1v1h-1zM428.1 87.9h1v1h-1zM425.1 95.8h1v1h-1zM424.9 82.1h1v1h-1zM425.5 93.3h1v1h-1zM437.2 108.4h1v1h-1zM424.3 80.4h1v1h-1zM424.4 85.6h1v1h-1zM428.0 99.0h1v1h-1zM433.6 81.2h1v1h-1zM427.3 96.8h1v1h-1zM444.5 96.2h1v1h-1zM430.5 81.1h1v1h-1zM426.6 97.9h1v1h-1zM425.1 86.8h1v1h-1zM426.9 94.6h1v1h-1zM429.1 97.2h1v1h-1zM425.9 96.8h1v1h-1zM427.4 94.6h1v1h-1zM426.3 101.6h1v1h-1zM430.6 97.5h1v1h-1zM430.8 95.8h1v1h-1zM422.8 94.5h1v1h-1zM438.3 92.1h1v1h-1zM434.8 93.0h1v1h-1zM424.7 97.1h1v1h-1zM436.1 85.4h1v1h-1zM426.8 88.9h1v1h-1zM430.9 94.5h1v1h-1zM425.0 96.7h1v1h-1zM428.8 98.7h1v1h-1zM437.9 95.6h1v1h-1zM446.3 96.9h1v1h-1zM429.9 101.3h1v1h-1zM426.2 81.7h1v1h-1zM442.1 89.5h1v1h-1zM434.1 100.2h1v1h-1zM428.1 97.2h1v1h-1zM427.9 103.2h1v1h-1zM438.3 90.0h1v1h-1zM426.6 90.2h1v1h-1zM428.0 92.7h1v1h-1zM427.1 97.2h1v1h-1zM436.7 98.4h1v1h-1zM426.1 82.9h1v1h-1zM440.0 93.8h1v1h-1zM427.5 97.9h1v1h-1zM432.3 80.3h1v1h-1zM428.7 102.8h1v1h-1zM429.3 92.4h1v1h-1zM425.1 89.6h1v1h-1zM423.5 97.4h1v1h-1zM423.7 82.0h1v1h-1zM426.8 85.2h1v1h-1zM434.8 92.6h1v1h-1zM424.8 77.6h1v1h-1zM443.1 90.8h1v1h-1zM427.2 87.0h1v1h-1zM426.3 98.0h1v1h-1zM432.7 86.1h1v1h-1zM429.6 103.3h1v1h-1zM431.0 98.8h1v1h-1zM447.1 101.7h1v1h-1zM429.5 85.7h1v1h-1zM424.4 93.9h1v1h-1zM423.3 93.3h1v1h-1zM433.7 101.3h1v1h-1zM426.2 87.4h1v1h-1zM429.4 80.2h1v1h-1zM427.6 88.9h1v1h-1zM430.0 93.1h1v1h-1zM431.5 95.0h1v1h-1zM427.0 84.8h1v1h-1zM424.0 92.6h1v1h-1zM439.1 100.8h1v1h-1zM427.9 86.4h1v1h-1zM428.9 104.8h1v1h-1zM429.1 96.3h1v1h-1zM434.6 77.9h1v1h-1zM427.8 99.8h1v1h-1zM430.8 99.0h1v1h-1zM423.9 94.6h1v1h-1zM449.6 89.6h1v1h-1zM433.6 94.8h1v1h-1zM427.8 82.3h1v1h-1zM437.1 77.2h1v1h-1zM430.4 107.0h1v1h-1zM432.8 90.8h1v1h-1zM439.9 109.0h1v1h-1zM433.8 111.6h1v1h-1zM424.0 86.5h1v1h-1zM424.1 96.1h1v1h-1zM432.3 100.0h1v1h-1zM424.5 82.7h1v1h-1zM426.3 97.7h1v1h-1zM428.5 86.7h1v1h-1zM425.3 91.9h1v1h-1zM433.4 105.4h1v1h-1zM426.6 90.9h1v1h-1zM426.1 98.2h1v1h-1zM434.1 97.6h1v1h-1zM436.4 80.0h1v1h-1zM428.7 86.3h1v1h-1zM424.4 85.0h1v1h-1zM429.6 95.1h1v1h-1zM427.4 88.0h1v1h-1zM428.9 97.6h1v1h-1zM430.2 98.0h1v1h-1zM427.0 100.3h1v1h-1zM436.4 94.3h1v1h-1zM434.4 94.4h1v1h-1zM423.4 94.9h1v1h-1zM426.0 82.8h1v1h-1zM445.3 101.7h1v1h-1zM423.7 97.2h1v1h-1zM431.1 89.3h1v1h-1zM432.1 108.2h1v1h-1zM431.5 96.3h1v1h-1zM443.0 83.8h1v1h-1zM426.9 94.5h1v1h-1zM437.9 85.7h1v1h-1zM431.6 98.5h1v1h-1zM423.6 86.9h1v1h-1zM424.5 96.4h1v1h-1zM427.6 84.3h1v1h-1zM431.4 86.9h1v1h-1zM424.4 93.8h1v1h-1zM427.1 96.6h1v1h-1zM433.7 87.1h1v1h-1zM427.2 87.8h1v1h-1zM440.9 97.4h1v1h-1zM435.5 99.9h1v1h-1zM424.2 91.4h1v1h-1zM428.2 78.7h1v1h-1zM439.2 78.0h1v1h-1zM429.7 94.2h1v1h-1zM432.8 85.9h1v1h-1zM427.9 86.0h1v1h-1zM434.4 100.3h1v1h-1zM431.2 92.4h1v1h-1zM428.8 92.8h1v1h-1zM446.6 90.6h1v1h-1zM431.1 85.7h1v1h-1zM430.3 97.3h1v1h-1zM424.2 101.4h1v1h-1zM438.6 97.2h1v1h-1zM431.0 96.8h1v1h-1zM435.7 86.0h1v1h-1zM429.2 99.7h1v1h-1zM423.5 87.8h1v1h-1zM427.5 103.6h1v1h-1zM433.1 90.6h1v1h-1zM426.0 92.1h1v1h-1zM428.8 107.5h1v1h-1zM425.5 92.1h1v1h-1zM423.7 94.8h1v1h-1zM427.8 87.3h1v1h-1zM432.2 90.8h1v1h-1zM432.4 88.8h1v1h-1zM424.4 96.3h1v1h-1zM424.4 98.5h1v1h-1zM430.7 98.7h1v1h-1zM424.0 80.3h1v1h-1zM431.0 96.5h1v1h-1zM425.9 96.6h1v1h-1zM430.8 88.8h1v1h-1zM440.2 86.6h1v1h-1zM430.1 102.6h1v1h-1zM427.6 86.8h1v1h-1zM428.2 100.5h1v1h-1zM429.7 99.5h1v1h-1zM423.3 99.8h1v1h-1zM428.1 104.0h1v1h-1zM424.3 81.5h1v1h-1zM431.8 96.3h1v1h-1zM426.0 91.2h1v1h-1zM429.2 90.8h1v1h-1zM427.3 105.6h1v1h-1zM431.2 95.3h1v1h-1zM431.3 93.4h1v1h-1zM430.9 101.6h1v1h-1zM430.0 97.4h1v1h-1zM428.4 107.1h1v1h-1zM428.5 96.1h1v1h-1zM425.3 94.5h1v1h-1zM426.0 103.6h1v1h-1zM430.2 96.6h1v1h-1zM423.3 83.3h1v1h-1zM424.3 89.9h1v1h-1zM431.0 88.3h1v1h-1zM427.6 84.3h1v1h-1zM428.8 98.7h1v1h-1zM431.3 83.9h1v1h-1zM426.0 99.1h1v1h-1zM426.7 99.6h1v1h-1zM449.4 86.0h1v1h-1zM434.2 91.9h1v1h-1zM431.7 81.4h1v1h-1zM424.6 95.2h1v1h-1zM425.9 101.1h1v1h-1zM424.2 100.4h1v1h-1zM438.7 91.6h1v1h-1zM427.9 98.1h1v1h-1zM423.2 76.3h1v1h-1zM431.4 96.7h1v1h-1zM435.0 95.2h1v1h-1zM427.1 101.9h1v1h-1zM429.5 95.9h1v1h-1zM432.7 86.8h1v1h-1zM444.2 97.9h1v1h-1zM434.5 94.0h1v1h-1zM430.1 81.6h1v1h-1zM447.9 86.8h1v1h-1zM433.4 90.8h1v1h-1zM431.6 87.0h1v1h-1zM427.9 91.6h1v1h-1zM423.9 86.5h1v1h-1zM425.7 91.1h1v1h-1zM428.1 93.6h1v1h-1zM426.4 95.0h1v1h-1zM423.2 103.8h1v1h-1zM432.8 100.8h1v1h-1zM428.7 84.5h1v1h-1zM427.4 99.7h1v1h-1zM425.8 89.0h1v1h-1zM428.0 92.3h1v1h-1zM440.1 98.4h1v1h-1zM440.4 100.1h1v1h-1zM429.7 91.3h1v1h-1zM434.1 99.1h1v1h-1zM427.0 94.8h1v1h-1zM435.5 91.7h1v1h-1zM429.1 93.7h1v1h-1zM428.1 94.0h1v1h-1zM441.1 94.3h1v1h-1zM434.8 87.2h1v1h-1zM424.8 80.7h1v1h-1zM424.8 89.9h1v1h-1zM432.5 99.5h1v1h-1zM439.8 85.4h1v1h-1zM436.2 103.7h1v1h-1zM433.6 102.4h1v1h-1zM437.7 98.5h1v1h-1zM434.4 96.5h1v1h-1zM428.8 86.2h1v1h-1zM429.6 98.1h1v1h-1zM429.6 97.9h1v1h-1zM426.4 98.4h1v1h-1zM429.9 99.3h1v1h-1zM425.7 105.8h1v1h-1zM425.3 79.1h1v1h-1zM425.5 81.2h1v1h-1zM434.7 98.1h1v1h-1zM440.7 104.3h1v1h-1zM424.8 101.1h1v1h-1zM423.7 97.1h1v1h-1zM433.4 93.0h1v1h-1zM440.7 93.6h1v1h-1zM438.8 79.7h1v1h-1zM426.0 97.5h1v1h-1zM426.9 93.5h1v1h-1zM430.5 89.1h1v1h-1zM432.8 95.3h1v1h-1zM424.3 91.7h1v1h-1zM426.0 96.8h1v1h-1zM424.1 78.0h1v1h-1zM425.3 81.2h1v1h-1zM430.5 91.2h1v1h-1zM426.1 102.9h1v1h-1zM423.4 94.5h1v1h-1zM428.2 100.3h1v1h-1zM434.3 106.2h1v1h-1zM427.8 102.0h1v1h-1zM425.8 97.8h1v1h-1zM428.8 100.9h1v1h-1zM427.8 96.3h1v1h-1zM430.1 91.2h1v1h-1zM440.3 84.4h1v1h-1zM423.9 94.3h1v1h-1zM427.0 90.7h1v1h-1zM432.5 91.3h1v1h-1zM427.6 96.6h1v1h-1zM428.5 87.1h1v1h-1zM434.9 106.3h1v1h-1zM430.4 88.4h1v1h-1zM426.5 95.1h1v1h-1zM435.2 85.3h1v1h-1zM427.8 81.9h1v1h-1zM436.6 82.6h1v1h-1zM440.5 96.2h1v1h-1zM431.6 96.0h1v1h-1zM425.5 97.8h1v1h-1zM436.2 96.2h1v1h-1zM438.5 95.1h1v1h-1zM428.5 85.9h1v1h-1zM428.7 98.0h1v1h-1zM429.8 97.6h1v1h-1zM428.7 88.3h1v1h-1zM428.3 87.6h1v1h-1zM437.5 83.6h1v1h-1zM433.3 94.2h1v1h-1zM426.6 92.4h1v1h-1zM434.3 88.5h1v1h-1zM432.5 95.0h1v1h-1zM425.7 83.7h1v1h-1zM426.7 95.7h1v1h-1zM427.4 97.1h1v1h-1zM423.5 99.8h1v1h-1zM423.3 96.2h1v1h-1zM432.9 100.1h1v1h-1zM426.6 94.7h1v1h-1zM436.5 95.3h1v1h-1zM423.1 97.7h1v1h-1zM427.5 106.3h1v1h-1zM442.6 90.3h1v1h-1zM428.0 80.5h1v1h-1zM430.6 91.4h1v1h-1zM428.6 85.0h1v1h-1zM428.9 90.6h1v1h-1zM427.4 87.6h1v1h-1zM433.7 100.6h1v1h-1zM425.8 93.9h1v1h-1zM430.4 87.1h1v1h-1zM436.5 102.5h1v1h-1zM426.9 77.2h1v1h-1zM437.8 98.6h1v1h-1zM433.2 93.0h1v1h-1zM433.7 97.7h1v1h-1zM425.4 103.6h1v1h-1zM432.7 99.1h1v1h-1zM431.7 73.8h1v1h-1zM431.1 94.6h1v1h-1zM434.7 86.9h1v1h-1zM426.8 103.1h1v1h-1zM432.2 98.2h1v1h-1zM434.0 97.8h1v1h-1zM429.3 89.7h1v1h-1zM436.6 99.2h1v1h-1zM431.6 87.6h1v1h-1zM429.5 101.0h1v1h-1zM425.9 80.5h1v1h-1zM430.1 87.9h1v1h-1zM430.2 82.3h1v1h-1zM447.6 92.1h1v1h-1zM429.6 90.8h1v1h-1zM437.8 92.2h1v1h-1zM427.4 96.2h1v1h-1zM426.4 87.6h1v1h-1zM425.3 100.1h1v1h-1zM428.6 94.1h1v1h-1zM432.7 100.4h1v1h-1zM434.3 98.0h1v1h-1zM427.2 96.0h1v1h-1zM430.5 99.6h1v1h-1zM425.5 91.8h1v1h-1zM424.6 87.2h1v1h-1zM438.7 76.3h1v1h-1zM445.2 99.8h1v1h-1zM424.7 95.8h1v1h-1zM431.8 97.9h1v1h-1zM440.3 92.9h1v1h-1zM429.2 99.4h1v1h-1zM428.5 96.3h1v1h-1zM424.0 108.5h1v1h-1zM424.1 102.7h1v1h-1zM424.7 95.7h1v1h-1zM423.6 100.5h1v1h-1zM428.1 80.2h1v1h-1zM430.2 94.1h1v1h-1zM424.4 83.1h1v1h-1zM429.2 90.7h1v1h-1zM424.9 95.1h1v1h-1zM445.7 93.1h1v1h-1zM426.5 88.6h1v1h-1zM424.4 94.7h1v1h-1zM426.7 90.1h1v1h-1zM432.3 85.5h1v1h-1zM430.7 99.2h1v1h-1zM431.8 95.7h1v1h-1zM427.1 90.0h1v1h-1zM431.8 97.5h1v1h-1zM424.1 84.6h1v1h-1zM426.8 93.6h1v1h-1zM427.9 95.8h1v1h-1zM427.0 98.8h1v1h-1zM429.6 94.1h1v1h-1zM429.3 91.5h1v1h-1zM427.7 85.3h1v1h-1zM427.5 80.0h1v1h-1zM424.4 95.9h1v1h-1zM426.9 89.4h1v1h-1zM425.5 98.9h1v1h-1zM443.2 95.9h1v1h-1zM438.2 86.5h1v1h-1zM434.0 81.2h1v1h-1zM429.3 86.2h1v1h-1zM429.7 91.6h1v1h-1zM426.7 84.5h1v1h-1zM427.1 93.2h1v1h-1zM429.4 104.1h1v1h-1zM435.9 92.6h1v1h-1zM429.6 84.8h1v1h-1zM423.7 88.2h1v1h-1zM437.6 99.7h1v1h-1zM428.9 77.0h1v1h-1zM429.7 93.4h1v1h-1zM427.2 94.3h1v1h-1zM434.8 91.5h1v1h-1zM426.4 95.4h1v1h-1zM423.7 101.2h1v1h-1zM425.1 77.2h1v1h-1zM425.4 95.4h1v1h-1zM428.8 91.5h1v1h-1zM425.2 96.2h1v1h-1zM429.3 96.1h1v1h-1zM426.6 103.6h1v1h-1zM426.7 83.4h1v1h-1zM424.2 83.3h1v1h-1zM435.0 106.3h1v1h-1zM429.2 99.7h1v1h-1zM426.4 97.9h1v1h-1zM430.8 95.6h1v1h-1zM436.7 95.5h1v1h-1zM426.0 79.2h1v1h-1zM425.9 98.0h1v1h-1zM446.3 88.6h1v1h-1zM431.4 94.6h1v1h-1zM426.8 84.7h1v1h-1zM439.9 94.1h1v1h-1zM430.4 92.5h1v1h-1zM445.2 100.7h1v1h-1zM435.3 85.8h1v1h-1zM423.3 88.5h1v1h-1zM430.9 100.5h1v1h-1zM426.7 84.2h1v1h-1zM425.2 88.0h1v1h-1zM427.4 87.9h1v1h-1zM429.3 98.9h1v1h-1zM428.7 102.6h1v1h-1zM434.3 90.5h1v1h-1zM429.5 86.7h1v1h-1zM439.2 95.4h1v1h-1zM423.7 84.7h1v1h-1zM428.3 91.5h1v1h-1zM429.1 96.2h1v1h-1zM426.4 92.1h1v1h-1zM432.7 95.2h1v1h-1zM433.5 82.8h1v1h-1zM428.3 106.4h1v1h-1zM424.9 99.7h1v1h-1zM438.0 96.4h1v1h-1zM441.5 93.3h1v1h-1zM428.3 91.7h1v1h-1zM434.3 98.3h1v1h-1zM425.9 92.3h1v1h-1zM436.4 91.7h1v1h-1zM430.3 93.3h1v1h-1zM431.8 81.1h1v1h-1zM429.0 85.0h1v1h-1zM424.3 99.0h1v1h-1zM425.7 94.9h1v1h-1zM428.6 90.6h1v1h-1zM426.3 87.0h1v1h-1zM429.3 84.9h1v1h-1zM426.0 95.6h1v1h-1zM428.9 82.9h1v1h-1zM427.7 91.0h1v1h-1zM428.7 90.8h1v1h-1zM425.0 98.6h1v1h-1zM436.4 100.1h1v1h-1zM433.6 87.3h1v1h-1zM425.2 94.1h1v1h-1zM433.5 106.3h1v1h-1zM429.5 100.0h1v1h-1zM433.6 92.7h1v1h-1zM426.3 84.6h1v1h-1zM424.2 93.0h1v1h-1zM427.9 104.6h1v1h-1zM429.3 89.7h1v1h-1zM424.8 94.6h1v1h-1zM431.9 95.3h1v1h-1zM429.4 98.1h1v1h-1zM423.6 93.1h1v1h-1zM425.4 93.9h1v1h-1zM431.1 90.3h1v1h-1zM436.2 101.4h1v1h-1zM426.8 94.4h1v1h-1zM424.3 92.3h1v1h-1zM434.6 80.5h1v1h-1zM428.0 97.7h1v1h-1zM427.1 102.6h1v1h-1zM430.0 84.7h1v1h-1zM427.0 90.6h1v1h-1zM431.4 90.6h1v1h-1zM433.3 88.7h1v1h-1zM426.8 83.1h1v1h-1zM445.0 91.9h1v1h-1zM424.8 94.1h1v1h-1zM427.3 84.2h1v1h-1zM429.3 97.9h1v1h-1zM441.9 98.8h1v1h-1zM434.7 97.9h1v1h-1zM440.1 71.7h1v1h-1zM427.5 101.6h1v1h-1zM433.3 85.1h1v1h-1zM431.9 96.0h1v1h-1zM431.8 98.4h1v1h-1zM431.5 100.5h1v1h-1zM424.7 79.4h1v1h-1zM425.1 101.1h1v1h-1zM427.1 86.6h1v1h-1zM428.2 92.3h1v1h-1zM430.5 91.8h1v1h-1zM424.1 89.9h1v1h-1zM425.5 99.3h1v1h-1zM428.1 93.0h1v1h-1zM434.4 84.6h1v1h-1zM427.3 102.8h1v1h-1zM424.2 102.0h1v1h-1zM439.1 102.4h1v1h-1zM430.0 98.4h1v1h-1zM441.0 85.0h1v1h-1zM432.5 98.4h1v1h-1zM434.5 111.3h1v1h-1zM432.5 105.4h1v1h-1zM426.3 98.6h1v1h-1zM428.3 95.0h1v1h-1zM426.5 96.7h1v1h-1zM427.3 98.2h1v1h-1zM423.4 95.0h1v1h-1zM426.3 77.8h1v1h-1zM433.0 94.9h1v1h-1zM424.8 84.3h1v1h-1zM427.0 101.1h1v1h-1zM435.1 89.7h1v1h-1zM427.4 92.4h1v1h-1zM430.0 93.9h1v1h-1zM429.2 102.4h1v1h-1zM427.7 98.1h1v1h-1zM437.5 85.1h1v1h-1zM425.7 91.5h1v1h-1zM431.2 86.9h1v1h-1zM427.5 80.7h1v1h-1zM426.8 89.1h1v1h-1zM428.5 98.5h1v1h-1zM429.7 103.0h1v1h-1zM428.4 105.6h1v1h-1zM428.1 83.7h1v1h-1zM433.4 100.8h1v1h-1zM427.5 91.8h1v1h-1zM428.4 106.1h1v1h-1zM425.9 102.8h1v1h-1zM426.5 89.2h1v1h-1zM425.2 90.6h1v1h-1zM429.2 94.6h1v1h-1zM424.6 96.8h1v1h-1zM433.7 84.5h1v1h-1zM429.7 85.2h1v1h-1zM429.7 92.8h1v1h-1zM428.8 101.7h1v1h-1zM432.7 88.5h1v1h-1zM440.3 95.6h1v1h-1zM434.5 98.5h1v1h-1zM433.8 82.7h1v1h-1zM436.0 104.5h1v1h-1zM429.4 92.4h1v1h-1zM433.2 92.0h1v1h-1zM437.0 94.8h1v1h-1zM425.5 96.7h1v1h-1zM425.3 86.5h1v1h-1zM438.0 97.4h1v1h-1zM430.3 85.0h1v1h-1zM435.2 76.9h1v1h-1zM429.0 90.4h1v1h-1zM424.8 99.7h1v1h-1zM439.4 94.6h1v1h-1zM427.1 82.7h1v1h-1zM427.6 86.8h1v1h-1zM426.8 82.4h1v1h-1zM431.0 88.0h1v1h-1zM427.0 95.9h1v1h-1zM432.5 89.5h1v1h-1zM435.4 79.2h1v1h-1zM429.3 83.9h1v1h-1zM428.1 95.0h1v1h-1zM443.5 83.9h1v1h-1zM438.3 96.1h1v1h-1zM436.7 95.2h1v1h-1zM431.5 107.8h1v1h-1zM435.3 93.1h1v1h-1zM426.3 93.3h1v1h-1zM431.9 89.1h1v1h-1zM423.4 99.7h1v1h-1zM424.1 97.3h1v1h-1zM429.1 83.9h1v1h-1zM427.0 105.2h1v1h-1zM435.9 97.3h1v1h-1zM431.4 80.7h1v1h-1zM427.6 94.3h1v1h-1zM425.3 87.2h1v1h-1zM447.1 92.5h1v1h-1zM426.7 94.2h1v1h-1zM427.3 81.6h1v1h-1zM425.4 82.8h1v1h-1zM434.2 89.6h1v1h-1zM431.3 109.3h1v1h-1zM441.8 103.1h1v1h-1zM450.4 88.8h1v1h-1zM430.6 83.1h1v1h-1zM429.9 92.5h1v1h-1zM431.9 88.0h1v1h-1zM428.9 91.2h1v1h-1zM433.9 97.8h1v1h-1zM435.6 95.3h1v1h-1zM434.7 94.9h1v1h-1zM424.3 87.3h1v1h-1zM433.6 96.9h1v1h-1zM429.3 90.5h1v1h-1zM425.3 89.7h1v1h-1zM424.5 103.4h1v1h-1zM431.7 94.4h1v1h-1zM426.0 84.4h1v1h-1zM433.0 77.3h1v1h-1zM428.6 98.2h1v1h-1zM427.3 88.5h1v1h-1zM423.4 102.2h1v1h-1zM427.4 94.7h1v1h-1zM426.2 91.8h1v1h-1zM431.0 91.7h1v1h-1zM440.9 89.5h1v1h-1zM428.1 97.5h1v1h-1zM425.3 89.7h1v1h-1zM429.9 78.5h1v1h-1zM442.5 94.8h1v1h-1zM431.0 98.9h1v1h-1zM426.0 97.6h1v1h-1zM440.8 101.2h1v1h-1zM449.9 91.8h1v1h-1zM429.3 94.2h1v1h-1zM427.6 92.4h1v1h-1zM427.1 96.8h1v1h-1zM428.1 98.4h1v1h-1zM431.1 79.0h1v1h-1zM428.3 99.8h1v1h-1zM429.5 96.8h1v1h-1zM426.1 91.4h1v1h-1zM440.2 95.2h1v1h-1zM423.4 97.2h1v1h-1zM430.2 101.6h1v1h-1zM429.9 84.1h1v1h-1zM425.5 87.6h1v1h-1zM426.7 88.3h1v1h-1zM424.3 91.5h1v1h-1zM425.4 91.9h1v1h-1zM428.4 89.1h1v1h-1zM439.2 88.8h1v1h-1zM424.6 97.9h1v1h-1zM435.1 87.6h1v1h-1zM425.4 84.7h1v1h-1zM428.2 91.7h1v1h-1zM425.8 100.3h1v1h-1zM427.1 92.8h1v1h-1zM435.2 82.6h1v1h-1zM425.1 88.7h1v1h-1zM429.3 91.0h1v1h-1zM433.3 95.4h1v1h-1zM425.1 85.9h1v1h-1zM437.2 95.6h1v1h-1zM429.5 85.5h1v1h-1zM432.2 102.4h1v1h-1zM437.3 102.3h1v1h-1zM432.5 101.0h1v1h-1zM425.9 99.3h1v1h-1zM430.7 91.7h1v1h-1zM433.6 87.7h1v1h-1zM426.6 87.3h1v1h-1zM426.2 104.2h1v1h-1zM424.7 93.7h1v1h-1zM428.4 97.5h1v1h-1zM436.0 91.8h1v1h-1zM424.2 99.7h1v1h-1zM428.6 91.9h1v1h-1zM426.8 84.7h1v1h-1zM428.0 86.3h1v1h-1zM428.2 93.3h1v1h-1zM427.3 94.2h1v1h-1zM426.1 92.6h1v1h-1zM434.5 82.7h1v1h-1zM432.4 90.4h1v1h-1zM439.5 95.5h1v1h-1zM431.5 97.7h1v1h-1zM433.5 85.1h1v1h-1zM428.9 89.6h1v1h-1zM426.2 94.6h1v1h-1zM427.7 97.0h1v1h-1zM429.7 90.8h1v1h-1zM429.8 92.1h1v1h-1zM442.2 89.5h1v1h-1zM441.7 97.8h1v1h-1zM431.3 93.5h1v1h-1zM423.8 95.9h1v1h-1zM441.0 95.7h1v1h-1zM428.6 88.7h1v1h-1zM425.3 100.9h1v1h-1zM429.6 86.7h1v1h-1zM429.7 92.0h1v1h-1zM424.9 97.9h1v1h-1zM429.6 82.1h1v1h-1zM438.2 97.9h1v1h-1zM425.6 91.3h1v1h-1zM425.5 94.8h1v1h-1zM427.3 90.3h1v1h-1zM438.0 86.5h1v1h-1zM430.0 95.2h1v1h-1zM439.2 100.4h1v1h-1zM427.0 102.9h1v1h-1zM430.8 102.6h1v1h-1zM432.6 87.9h1v1h-1zM430.4 101.2h1v1h-1zM427.5 95.6h1v1h-1zM426.8 97.9h1v1h-1zM431.9 91.5h1v1h-1zM428.5 83.7h1v1h-1zM432.6 97.9h1v1h-1zM438.1 90.7h1v1h-1zM422.9 94.8h1v1h-1zM426.9 84.8h1v1h-1zM427.8 93.1h1v1h-1zM436.4 96.4h1v1h-1zM423.9 86.8h1v1h-1zM428.0 91.8h1v1h-1zM424.6 88.9h1v1h-1zM430.3 94.3h1v1h-1zM429.4 95.3h1v1h-1zM429.4 91.1h1v1h-1zM428.0 96.6h1v1h-1zM425.3 95.4h1v1h-1zM430.2 97.5h1v1h-1zM433.9 99.7h1v1h-1zM429.0 95.3h1v1h-1zM429.5 97.7h1v1h-1zM424.4 103.2h1v1h-1zM433.9 92.8h1v1h-1zM430.6 93.8h1v1h-1zM428.5 83.2h1v1h-1zM439.0 104.7h1v1h-1zM432.5 93.6h1v1h-1zM427.9 92.8h1v1h-1zM425.9 88.1h1v1h-1zM437.8 95.3h1v1h-1zM426.9 90.1h1v1h-1zM429.6 83.4h1v1h-1zM426.1 98.1h1v1h-1zM431.6 68.7h1v1h-1zM430.3 103.1h1v1h-1zM442.4 97.3h1v1h-1zM423.9 89.6h1v1h-1zM423.6 94.9h1v1h-1zM432.3 83.3h1v1h-1zM426.7 95.4h1v1h-1zM431.0 89.9h1v1h-1zM427.9 85.2h1v1h-1zM428.4 100.5h1v1h-1zM430.9 94.0h1v1h-1zM426.7 87.0h1v1h-1zM425.7 89.7h1v1h-1zM424.0 93.0h1v1h-1zM429.0 94.5h1v1h-1zM439.7 84.1h1v1h-1zM425.0 83.0h1v1h-1zM427.5 94.0h1v1h-1zM426.7 97.2h1v1h-1zM428.1 86.7h1v1h-1zM428.9 95.9h1v1h-1zM435.1 94.2h1v1h-1zM434.3 94.5h1v1h-1zM427.5 106.0h1v1h-1zM437.6 93.2h1v1h-1zM433.9 104.9h1v1h-1zM428.3 86.7h1v1h-1zM426.3 102.5h1v1h-1zM425.4 97.4h1v1h-1zM430.6 93.7h1v1h-1zM426.0 104.9h1v1h-1zM427.4 98.4h1v1h-1zM427.1 79.0h1v1h-1zM426.2 88.8h1v1h-1zM436.0 98.1h1v1h-1zM427.6 93.7h1v1h-1zM424.1 92.0h1v1h-1zM426.1 92.7h1v1h-1zM438.5 75.7h1v1h-1zM432.1 93.0h1v1h-1zM425.9 101.9h1v1h-1zM429.7 103.6h1v1h-1zM434.8 94.8h1v1h-1zM426.1 89.6h1v1h-1zM432.5 83.2h1v1h-1zM435.5 94.8h1v1h-1zM437.1 81.9h1v1h-1zM441.2 107.2h1v1h-1zM430.1 91.1h1v1h-1zM434.5 101.4h1v1h-1zM440.0 96.5h1v1h-1zM429.8 98.7h1v1h-1zM435.0 90.7h1v1h-1zM431.1 99.7h1v1h-1zM426.8 94.0h1v1h-1zM427.0 96.1h1v1h-1zM423.6 93.6h1v1h-1zM427.1 88.6h1v1h-1zM429.4 102.3h1v1h-1zM426.2 100.0h1v1h-1zM425.0 102.6h1v1h-1zM425.1 101.8h1v1h-1zM432.8 89.5h1v1h-1zM427.3 88.5h1v1h-1zM425.6 103.3h1v1h-1zM429.1 105.9h1v1h-1zM438.9 99.2h1v1h-1zM427.1 105.6h1v1h-1zM428.5 76.6h1v1h-1zM430.4 92.5h1v1h-1zM425.9 74.1h1v1h-1zM424.3 101.6h1v1h-1zM431.1 106.5h1v1h-1zM437.1 95.9h1v1h-1zM425.1 89.5h1v1h-1zM440.0 81.2h1v1h-1zM426.5 106.1h1v1h-1zM430.6 89.6h1v1h-1zM425.9 97.5h1v1h-1zM424.8 93.8h1v1h-1zM430.4 77.4h1v1h-1zM425.9 95.6h1v1h-1zM423.8 102.0h1v1h-1zM432.1 90.5h1v1h-1zM427.7 93.3h1v1h-1zM431.0 88.9h1v1h-1zM425.0 98.6h1v1h-1zM424.4 95.8h1v1h-1zM426.1 88.0h1v1h-1zM431.5 101.9h1v1h-1zM426.5 99.5h1v1h-1zM447.9 76.7h1v1h-1zM434.8 93.6h1v1h-1zM435.5 92.4h1v1h-1zM426.8 100.3h1v1h-1zM437.7 97.5h1v1h-1zM427.6 94.5h1v1h-1zM431.9 97.6h1v1h-1zM437.8 81.0h1v1h-1zM436.5 75.9h1v1h-1zM434.5 94.5h1v1h-1zM431.3 92.6h1v1h-1zM423.3 86.3h1v1h-1zM439.2 81.0h1v1h-1zM430.6 88.1h1v1h-1zM429.9 88.3h1v1h-1zM422.8 101.6h1v1h-1zM446.3 95.9h1v1h-1zM435.7 89.3h1v1h-1zM426.3 96.3h1v1h-1zM432.6 95.6h1v1h-1zM447.9 85.0h1v1h-1zM446.5 94.1h1v1h-1zM437.1 91.6h1v1h-1zM429.2 102.8h1v1h-1zM429.2 109.5h1v1h-1zM437.0 97.7h1v1h-1zM427.1 91.1h1v1h-1zM424.3 93.9h1v1h-1zM427.2 89.8h1v1h-1zM424.0 87.9h1v1h-1zM426.0 79.0h1v1h-1zM428.3 87.7h1v1h-1zM431.0 91.4h1v1h-1zM429.5 96.5h1v1h-1zM425.3 96.8h1v1h-1zM431.3 82.5h1v1h-1zM447.8 113.0h1v1h-1zM423.3 95.8h1v1h-1zM430.8 94.6h1v1h-1zM447.9 85.9h1v1h-1zM437.5 94.5h1v1h-1zM435.9 94.2h1v1h-1zM427.4 88.8h1v1h-1zM435.8 95.0h1v1h-1zM427.1 84.8h1v1h-1zM431.8 101.3h1v1h-1zM425.5 98.6h1v1h-1zM441.8 96.8h1v1h-1zM427.6 116.7h1v1h-1zM433.2 97.4h1v1h-1zM425.6 92.7h1v1h-1zM441.7 99.3h1v1h-1zM428.2 98.2h1v1h-1zM428.1 86.6h1v1h-1zM424.3 100.8h1v1h-1zM426.2 101.6h1v1h-1zM429.0 88.5h1v1h-1zM424.8 83.8h1v1h-1zM432.6 91.1h1v1h-1zM432.1 99.1h1v1h-1zM427.4 87.8h1v1h-1zM441.9 75.0h1v1h-1zM436.3 97.3h1v1h-1zM425.7 95.2h1v1h-1zM426.3 101.5h1v1h-1zM434.9 94.3h1v1h-1zM428.1 92.7h1v1h-1zM429.6 91.1h1v1h-1zM434.3 98.2h1v1h-1zM425.0 95.7h1v1h-1zM427.7 83.3h1v1h-1zM444.6 95.0h1v1h-1zM433.7 102.3h1v1h-1zM424.9 82.6h1v1h-1zM429.9 61.1h1v1h-1zM428.5 102.3h1v1h-1zM450.0 99.0h1v1h-1zM428.9 91.2h1v1h-1zM434.5 83.4h1v1h-1zM431.1 100.3h1v1h-1zM427.3 89.4h1v1h-1zM427.8 99.7h1v1h-1zM423.4 86.0h1v1h-1zM428.2 86.5h1v1h-1zM428.9 85.5h1v1h-1zM441.5 102.1h1v1h-1zM434.1 95.4h1v1h-1zM424.4 103.8h1v1h-1zM425.1 90.0h1v1h-1zM443.2 98.4h1v1h-1zM435.9 97.2h1v1h-1zM428.4 100.4h1v1h-1zM440.1 105.4h1v1h-1zM432.6 82.1h1v1h-1zM423.1 95.6h1v1h-1zM430.3 109.7h1v1h-1zM425.2 90.2h1v1h-1zM424.3 95.8h1v1h-1zM430.8 70.5h1v1h-1zM429.3 101.2h1v1h-1zM432.7 82.3h1v1h-1zM431.4 90.7h1v1h-1zM425.2 103.3h1v1h-1zM425.3 92.4h1v1h-1zM424.2 84.7h1v1h-1zM444.3 99.0h1v1h-1zM427.6 93.6h1v1h-1zM424.5 109.6h1v1h-1zM443.6 78.1h1v1h-1zM431.1 90.0h1v1h-1zM441.3 87.1h1v1h-1zM430.0 90.5h1v1h-1zM427.4 93.5h1v1h-1zM431.4 94.1h1v1h-1zM436.5 82.7h1v1h-1zM437.2 104.1h1v1h-1zM429.0 97.0h1v1h-1zM428.7 103.4h1v1h-1zM424.8 92.7h1v1h-1zM448.2 90.4h1v1h-1zM427.9 83.5h1v1h-1zM423.3 84.8h1v1h-1zM440.0 96.9h1v1h-1zM424.0 85.8h1v1h-1zM437.1 100.4h1v1h-1zM431.4 91.9h1v1h-1zM436.5 101.7h1v1h-1zM435.5 90.3h1v1h-1zM426.7 80.6h1v1h-1zM429.5 85.6h1v1h-1zM429.0 90.1h1v1h-1zM429.1 85.4h1v1h-1zM429.8 97.5h1v1h-1zM437.5 97.4h1v1h-1zM430.0 87.3h1v1h-1zM426.7 81.0h1v1h-1zM436.0 96.1h1v1h-1zM432.0 87.8h1v1h-1zM434.8 80.1h1v1h-1zM429.1 94.3h1v1h-1zM431.8 103.6h1v1h-1zM430.9 96.0h1v1h-1zM425.9 98.2h1v1h-1zM424.8 95.0h1v1h-1zM436.8 99.3h1v1h-1zM430.6 91.2h1v1h-1zM432.5 102.1h1v1h-1zM425.9 77.2h1v1h-1zM438.2 84.6h1v1h-1zM431.5 97.1h1v1h-1zM423.9 99.8h1v1h-1zM432.8 80.1h1v1h-1zM426.8 98.1h1v1h-1zM425.5 96.9h1v1h-1zM443.2 93.2h1v1h-1zM436.1 97.5h1v1h-1zM430.6 78.8h1v1h-1zM449.8 90.7h1v1h-1zM440.0 82.0h1v1h-1zM432.5 97.8h1v1h-1zM436.4 105.8h1v1h-1zM425.7 95.3h1v1h-1zM438.2 79.2h1v1h-1zM425.6 99.6h1v1h-1zM425.9 89.5h1v1h-1zM443.7 96.0h1v1h-1zM440.9 90.3h1v1h-1zM425.8 97.7h1v1h-1zM426.0 94.1h1v1h-1zM426.3 81.0h1v1h-1zM426.5 97.7h1v1h-1zM434.3 96.1h1v1h-1zM430.2 95.4h1v1h-1zM426.1 97.0h1v1h-1zM427.9 101.9h1v1h-1zM431.2 85.5h1v1h-1zM431.2 94.7h1v1h-1zM430.4 91.6h1v1h-1zM431.0 86.0h1v1h-1zM431.6 81.9h1v1h-1zM432.3 100.5h1v1h-1zM440.4 103.0h1v1h-1zM429.0 95.9h1v1h-1zM443.2 102.1h1v1h-1zM432.2 99.2h1v1h-1zM440.5 83.8h1v1h-1zM433.7 88.2h1v1h-1zM430.1 88.4h1v1h-1zM427.6 99.0h1v1h-1zM449.5 87.8h1v1h-1zM431.9 91.4h1v1h-1zM428.8 89.3h1v1h-1zM441.1 104.5h1v1h-1zM428.0 95.7h1v1h-1zM430.2 89.9h1v1h-1zM432.2 100.7h1v1h-1zM430.7 87.9h1v1h-1zM437.5 102.3h1v1h-1zM442.4 101.6h1v1h-1zM429.6 95.0h1v1h-1zM434.9 99.2h1v1h-1zM444.7 90.7h1v1h-1zM444.7 88.9h1v1h-1zM446.6 98.6h1v1h-1zM432.7 80.2h1v1h-1zM431.8 83.7h1v1h-1zM430.9 93.8h1v1h-1zM426.5 97.7h1v1h-1zM435.8 101.7h1v1h-1zM428.6 89.7h1v1h-1zM430.9 98.1h1v1h-1zM425.9 85.0h1v1h-1zM423.4 98.3h1v1h-1zM426.6 92.3h1v1h-1zM425.4 93.7h1v1h-1zM424.9 90.9h1v1h-1zM436.4 103.3h1v1h-1zM423.1 102.6h1v1h-1zM424.0 87.3h1v1h-1zM426.7 75.1h1v1h-1zM430.4 93.4h1v1h-1zM425.7 90.5h1v1h-1zM431.2 87.6h1v1h-1zM427.1 92.4h1v1h-1zM425.3 82.4h1v1h-1zM431.6 92.8h1v1h-1zM423.8 93.0h1v1h-1zM427.8 100.1h1v1h-1zM423.5 90.9h1v1h-1zM435.8 96.9h1v1h-1zM430.5 94.6h1v1h-1zM431.0 105.2h1v1h-1zM431.5 96.4h1v1h-1zM433.8 91.2h1v1h-1zM426.3 98.5h1v1h-1zM428.5 96.1h1v1h-1zM437.0 88.7h1v1h-1zM428.8 105.2h1v1h-1zM430.0 94.1h1v1h-1zM434.1 84.4h1v1h-1zM432.0 84.8h1v1h-1zM428.0 92.1h1v1h-1zM434.4 82.7h1v1h-1zM430.4 90.8h1v1h-1zM423.8 96.7h1v1h-1zM429.0 99.4h1v1h-1zM424.9 101.6h1v1h-1zM428.5 98.8h1v1h-1zM425.8 94.8h1v1h-1zM427.3 96.7h1v1h-1zM434.6 100.6h1v1h-1zM432.3 86.9h1v1h-1zM426.5 91.1h1v1h-1zM444.5 94.5h1v1h-1zM425.6 91.4h1v1h-1zM431.6 90.8h1v1h-1zM430.0 94.4h1v1h-1zM427.9 96.8h1v1h-1zM432.9 89.8h1v1h-1zM431.9 98.1h1v1h-1zM432.0 84.2h1v1h-1zM434.5 98.7h1v1h-1zM433.4 104.4h1v1h-1zM432.4 100.1h1v1h-1zM425.6 95.4h1v1h-1zM425.4 95.9h1v1h-1zM425.3 100.8h1v1h-1zM439.0 93.2h1v1h-1zM427.8 101.9h1v1h-1zM428.0 77.8h1v1h-1zM431.9 96.8h1v1h-1zM428.9 107.8h1v1h-1zM432.8 83.1h1v1h-1zM425.4 98.6h1v1h-1zM428.2 93.6h1v1h-1zM425.1 85.2h1v1h-1zM426.3 88.4h1v1h-1zM426.9 94.1h1v1h-1zM431.4 79.6h1v1h-1zM424.5 95.2h1v1h-1zM429.5 94.5h1v1h-1zM424.8 95.4h1v1h-1zM438.1 104.4h1v1h-1zM428.8 102.7h1v1h-1zM427.3 92.4h1v1h-1zM427.7 90.8h1v1h-1zM428.9 90.7h1v1h-1zM437.6 93.3h1v1h-1zM425.0 96.9h1v1h-1zM424.2 96.8h1v1h-1zM430.2 94.5h1v1h-1zM427.2 96.4h1v1h-1zM437.4 100.4h1v1h-1zM426.6 102.1h1v1h-1zM431.6 73.2h1v1h-1zM429.5 76.5h1v1h-1zM429.6 96.7h1v1h-1zM433.9 96.2h1v1h-1zM428.0 97.5h1v1h-1zM423.3 100.0h1v1h-1zM424.2 82.6h1v1h-1zM431.0 88.0h1v1h-1zM426.5 111.4h1v1h-1zM424.4 100.1h1v1h-1zM424.0 76.2h1v1h-1zM427.6 102.3h1v1h-1zM424.8 92.0h1v1h-1zM430.3 87.4h1v1h-1zM425.2 93.6h1v1h-1zM431.8 81.5h1v1h-1zM432.1 109.5h1v1h-1zM433.3 94.8h1v1h-1zM429.3 100.8h1v1h-1zM425.6 99.8h1v1h-1zM429.6 88.4h1v1h-1zM433.1 95.5h1v1h-1zM431.4 97.9h1v1h-1zM423.5 90.0h1v1h-1zM423.5 85.3h1v1h-1zM430.3 101.7h1v1h-1zM424.6 94.3h1v1h-1zM423.6 83.4h1v1h-1zM424.9 87.5h1v1h-1zM447.3 97.3h1v1h-1zM427.2 91.6h1v1h-1zM424.4 99.7h1v1h-1zM429.7 85.3h1v1h-1zM427.6 98.1h1v1h-1zM431.2 97.9h1v1h-1zM434.6 93.5h1v1h-1zM427.1 102.1h1v1h-1zM428.9 85.8h1v1h-1zM424.4 92.4h1v1h-1zM429.7 97.3h1v1h-1zM430.6 87.5h1v1h-1zM425.7 91.1h1v1h-1zM427.2 93.3h1v1h-1zM429.4 101.3h1v1h-1zM427.1 83.4h1v1h-1zM442.4 91.9h1v1h-1zM425.7 87.8h1v1h-1zM431.9 95.7h1v1h-1zM425.3 107.0h1v1h-1zM425.0 84.2h1v1h-1zM425.5 93.7h1v1h-1zM429.5 87.8h1v1h-1zM428.8 88.3h1v1h-1zM433.2 95.2h1v1h-1zM429.9 91.5h1v1h-1zM426.1 82.1h1v1h-1zM428.6 89.0h1v1h-1zM442.8 92.1h1v1h-1zM427.2 98.5h1v1h-1zM430.3 98.4h1v1h-1zM426.2 92.0h1v1h-1zM425.0 104.9h1v1h-1zM426.5 92.9h1v1h-1zM427.1 101.8h1v1h-1zM425.5 93.5h1v1h-1zM425.8 92.3h1v1h-1zM425.7 97.7h1v1h-1zM428.8 82.2h1v1h-1zM425.5 101.2h1v1h-1zM432.9 100.7h1v1h-1zM438.2 96.4h1v1h-1zM428.5 91.7h1v1h-1zM432.6 88.9h1v1h-1zM431.6 106.6h1v1h-1zM431.3 86.5h1v1h-1zM424.6 76.7h1v1h-1zM432.2 108.0h1v1h-1zM430.0 96.6h1v1h-1zM425.0 100.6h1v1h-1zM440.0 85.5h1v1h-1zM425.6 99.8h1v1h-1zM435.2 85.0h1v1h-1zM435.0 84.8h1v1h-1zM426.6 89.9h1v1h-1zM426.8 89.7h1v1h-1zM439.0 101.7h1v1h-1zM428.8 90.6h1v1h-1zM424.3 98.4h1v1h-1zM426.8 103.2h1v1h-1zM435.6 88.7h1v1h-1zM428.3 92.2h1v1h-1zM438.3 90.0h1v1h-1zM429.6 95.6h1v1h-1zM428.5 96.3h1v1h-1zM433.3 96.3h1v1h-1zM430.6 82.1h1v1h-1zM434.5 98.2h1v1h-1zM425.9 102.2h1v1h-1zM436.9 99.4h1v1h-1zM428.2 97.4h1v1h-1zM432.7 88.4h1v1h-1zM433.9 104.8h1v1h-1zM445.0 89.9h1v1h-1zM449.1 85.3h1v1h-1zM428.5 86.9h1v1h-1zM424.6 87.0h1v1h-1zM435.7 98.4h1v1h-1zM437.1 85.9h1v1h-1zM428.1 88.0h1v1h-1zM426.6 87.1h1v1h-1zM428.6 95.3h1v1h-1zM428.1 94.3h1v1h-1zM426.4 102.0h1v1h-1zM426.9 93.3h1v1h-1zM427.9 96.3h1v1h-1zM441.4 103.3h1v1h-1zM425.5 97.3h1v1h-1zM423.4 94.1h1v1h-1zM433.0 98.5h1v1h-1zM426.0 91.3h1v1h-1zM438.7 88.6h1v1h-1zM438.2 89.7h1v1h-1zM423.9 88.8h1v1h-1zM424.2 101.4h1v1h-1zM426.4 92.5h1v1h-1zM428.5 94.1h1v1h-1zM437.4 103.4h1v1h-1zM434.4 100.8h1v1h-1zM435.5 102.3h1v1h-1zM435.4 105.7h1v1h-1zM426.8 89.3h1v1h-1zM425.9 90.9h1v1h-1zM431.7 99.4h1v1h-1zM427.7 106.0h1v1h-1zM428.7 92.1h1v1h-1zM443.6 80.7h1v1h-1zM430.5 97.7h1v1h-1zM432.5 95.7h1v1h-1zM428.0 97.2h1v1h-1zM430.0 98.4h1v1h-1zM432.5 97.8h1v1h-1zM436.0 89.7h1v1h-1zM437.2 95.5h1v1h-1zM423.0 89.7h1v1h-1zM427.6 83.0h1v1h-1zM428.6 95.6h1v1h-1zM432.5 94.8h1v1h-1zM428.2 83.3h1v1h-1zM423.7 97.1h1v1h-1zM433.5 86.1h1v1h-1zM430.8 102.3h1v1h-1zM425.6 85.0h1v1h-1zM429.3 84.2h1v1h-1zM432.0 95.2h1v1h-1zM426.9 96.8h1v1h-1zM428.3 86.8h1v1h-1zM424.1 96.6h1v1h-1zM424.4 109.7h1v1h-1zM428.5 90.2h1v1h-1zM424.1 95.7h1v1h-1zM435.0 73.0h1v1h-1zM426.7 77.0h1v1h-1zM427.0 94.3h1v1h-1zM426.2 80.1h1v1h-1zM426.5 96.6h1v1h-1zM431.1 95.3h1v1h-1zM426.8 91.3h1v1h-1zM424.6 84.0h1v1h-1zM449.0 95.4h1v1h-1zM433.0 80.2h1v1h-1zM432.5 97.5h1v1h-1zM424.0 103.4h1v1h-1zM424.1 79.3h1v1h-1zM442.3 67.8h1v1h-1zM425.6 90.3h1v1h-1zM424.1 97.6h1v1h-1zM428.3 94.7h1v1h-1zM425.9 100.2h1v1h-1zM430.0 95.4h1v1h-1zM435.7 91.5h1v1h-1zM423.3 107.3h1v1h-1zM435.5 96.2h1v1h-1zM433.4 102.0h1v1h-1zM436.7 96.0h1v1h-1zM431.4 89.9h1v1h-1zM433.2 100.0h1v1h-1zM422.9 95.2h1v1h-1zM440.7 101.6h1v1h-1zM426.6 91.6h1v1h-1zM426.7 93.1h1v1h-1zM439.5 93.8h1v1h-1zM440.6 102.3h1v1h-1zM437.0 80.0h1v1h-1zM431.7 107.0h1v1h-1zM431.6 92.6h1v1h-1zM427.7 83.2h1v1h-1zM436.8 97.2h1v1h-1zM433.9 78.1h1v1h-1zM428.5 97.2h1v1h-1zM425.8 83.4h1v1h-1zM426.3 106.2h1v1h-1zM424.8 82.0h1v1h-1zM426.7 95.6h1v1h-1zM428.7 96.7h1v1h-1zM425.0 95.7h1v1h-1zM434.5 107.6h1v1h-1zM431.4 99.7h1v1h-1zM430.4 92.3h1v1h-1zM435.4 86.0h1v1h-1zM426.3 100.7h1v1h-1zM428.6 98.2h1v1h-1zM430.8 100.1h1v1h-1zM428.3 107.0h1v1h-1zM428.6 91.5h1v1h-1zM431.9 90.2h1v1h-1zM428.2 96.9h1v1h-1zM432.5 94.5h1v1h-1zM432.0 96.8h1v1h-1zM439.8 89.9h1v1h-1zM427.5 98.9h1v1h-1zM432.6 93.4h1v1h-1zM435.3 80.5h1v1h-1zM437.2 78.8h1v1h-1zM425.5 81.6h1v1h-1zM429.4 87.7h1v1h-1zM430.6 103.1h1v1h-1zM439.3 95.8h1v1h-1zM434.2 92.3h1v1h-1zM431.6 95.0h1v1h-1zM435.6 92.0h1v1h-1zM428.1 89.3h1v1h-1zM437.6 87.2h1v1h-1zM429.4 90.9h1v1h-1zM427.7 97.9h1v1h-1zM423.4 94.3h1v1h-1zM426.8 95.6h1v1h-1zM432.2 96.8h1v1h-1zM426.2 89.5h1v1h-1zM428.4 81.7h1v1h-1zM424.7 100.6h1v1h-1zM427.1 94.5h1v1h-1zM430.9 98.4h1v1h-1zM427.3 88.6h1v1h-1zM427.1 101.1h1v1h-1zM440.4 97.7h1v1h-1zM427.4 89.9h1v1h-1zM448.8 92.7h1v1h-1zM430.8 98.8h1v1h-1zM424.0 84.1h1v1h-1zM430.7 100.7h1v1h-1zM428.7 92.5h1v1h-1zM431.8 87.2h1v1h-1zM424.9 103.6h1v1h-1zM424.3 90.3h1v1h-1zM423.0 93.3h1v1h-1zM425.9 91.1h1v1h-1zM424.1 97.7h1v1h-1zM437.9 106.0h1v1h-1zM435.4 98.3h1v1h-1zM425.5 83.2h1v1h-1zM428.8 93.7h1v1h-1zM433.2 92.3h1v1h-1zM427.5 88.7h1v1h-1zM444.6 89.2h1v1h-1zM425.4 98.4h1v1h-1zM432.2 97.5h1v1h-1zM426.1 94.8h1v1h-1zM427.5 89.5h1v1h-1zM437.2 83.4h1v1h-1zM434.9 82.9h1v1h-1zM434.1 73.7h1v1h-1zM446.6 85.1h1v1h-1zM438.9 88.5h1v1h-1zM447.6 94.4h1v1h-1zM427.2 97.1h1v1h-1zM433.4 80.9h1v1h-1zM433.9 96.1h1v1h-1zM426.8 100.2h1v1h-1zM426.6 99.0h1v1h-1zM424.8 85.8h1v1h-1zM435.3 87.4h1v1h-1zM427.2 86.3h1v1h-1zM426.3 91.0h1v1h-1zM439.9 87.2h1v1h-1zM424.2 96.2h1v1h-1zM439.0 86.5h1v1h-1zM430.7 86.8h1v1h-1zM434.2 104.6h1v1h-1zM442.4 94.6h1v1h-1zM434.0 87.3h1v1h-1zM438.9 90.5h1v1h-1zM430.1 96.3h1v1h-1zM436.1 99.6h1v1h-1zM427.6 97.8h1v1h-1zM435.3 96.5h1v1h-1zM427.0 97.2h1v1h-1zM441.2 77.2h1v1h-1zM426.1 91.6h1v1h-1zM428.1 106.2h1v1h-1zM426.2 96.5h1v1h-1zM439.2 89.6h1v1h-1zM425.1 93.7h1v1h-1zM429.7 102.0h1v1h-1zM431.4 97.9h1v1h-1zM427.8 86.2h1v1h-1zM428.8 83.6h1v1h-1zM425.7 97.9h1v1h-1zM431.7 95.0h1v1h-1zM437.8 79.4h1v1h-1zM426.4 87.1h1v1h-1zM426.3 103.8h1v1h-1zM431.0 81.9h1v1h-1zM434.0 89.2h1v1h-1zM425.7 85.4h1v1h-1zM424.5 86.2h1v1h-1zM428.5 91.6h1v1h-1zM423.3 76.7h1v1h-1zM435.7 87.3h1v1h-1zM432.1 89.3h1v1h-1zM427.5 98.3h1v1h-1zM426.3 97.0h1v1h-1zM433.5 96.1h1v1h-1zM427.2 90.9h1v1h-1zM428.0 88.2h1v1h-1zM442.2 91.0h1v1h-1zM431.6 84.5h1v1h-1zM429.8 99.5h1v1h-1zM426.5 92.7h1v1h-1zM432.8 96.5h1v1h-1zM440.2 87.0h1v1h-1zM429.9 96.3h1v1h-1zM430.9 93.7h1v1h-1zM427.4 81.9h1v1h-1zM437.6 84.5h1v1h-1zM427.2 81.9h1v1h-1zM428.1 87.0h1v1h-1zM426.4 99.7h1v1h-1zM430.9 92.8h1v1h-1zM425.1 85.7h1v1h-1zM423.3 93.7h1v1h-1zM425.6 90.1h1v1h-1zM426.5 84.7h1v1h-1zM429.9 97.5h1v1h-1zM428.3 87.2h1v1h-1zM432.5 87.0h1v1h-1zM438.9 100.3h1v1h-1zM429.9 85.8h1v1h-1zM429.5 85.6h1v1h-1zM426.8 101.3h1v1h-1zM424.9 97.2h1v1h-1zM425.0 89.9h1v1h-1zM430.0 106.5h1v1h-1zM436.5 85.5h1v1h-1zM427.0 95.1h1v1h-1zM436.1 87.6h1v1h-1zM426.7 89.8h1v1h-1zM448.2 96.7h1v1h-1zM428.7 99.1h1v1h-1zM425.9 89.8h1v1h-1zM428.1 97.4h1v1h-1zM426.9 90.9h1v1h-1zM427.0 83.4h1v1h-1zM425.0 93.2h1v1h-1zM439.2 93.5h1v1h-1zM424.1 102.5h1v1h-1zM425.8 86.7h1v1h-1zM430.2 100.0h1v1h-1zM439.7 87.2h1v1h-1zM429.0 89.7h1v1h-1zM432.9 97.0h1v1h-1zM429.5 91.7h1v1h-1zM429.2 81.6h1v1h-1zM427.1 104.4h1v1h-1zM427.5 79.5h1v1h-1zM430.7 89.4h1v1h-1zM428.5 103.5h1v1h-1zM433.1 94.7h1v1h-1zM434.2 94.1h1v1h-1zM430.2 86.3h1v1h-1zM430.5 84.9h1v1h-1zM430.2 89.8h1v1h-1zM435.8 93.1h1v1h-1zM436.1 90.7h1v1h-1zM433.0 86.9h1v1h-1zM428.7 85.7h1v1h-1zM429.7 94.9h1v1h-1zM425.2 106.2h1v1h-1zM431.5 85.9h1v1h-1zM441.0 89.3h1v1h-1zM425.7 89.8h1v1h-1zM434.2 107.7h1v1h-1zM427.5 94.5h1v1h-1zM439.1 75.3h1v1h-1zM441.7 97.4h1v1h-1zM429.1 93.7h1v1h-1zM428.1 94.5h1v1h-1zM443.4 84.1h1v1h-1zM431.9 106.0h1v1h-1zM425.4 89.2h1v1h-1zM427.1 98.7h1v1h-1zM448.8 83.6h1v1h-1zM431.3 93.4h1v1h-1zM424.3 96.3h1v1h-1zM435.4 88.7h1v1h-1zM425.3 100.9h1v1h-1zM428.6 83.7h1v1h-1zM428.7 83.4h1v1h-1zM425.0 95.0h1v1h-1zM423.6 89.1h1v1h-1zM437.1 92.1h1v1h-1zM425.7 73.3h1v1h-1zM433.7 89.6h1v1h-1zM428.7 104.6h1v1h-1zM424.8 104.0h1v1h-1zM423.4 87.6h1v1h-1zM435.9 97.7h1v1h-1zM434.1 108.0h1v1h-1zM428.0 92.0h1v1h-1zM424.0 110.5h1v1h-1zM428.7 87.7h1v1h-1zM425.8 85.1h1v1h-1zM424.9 96.4h1v1h-1zM435.0 90.7h1v1h-1zM425.9 105.2h1v1h-1zM429.7 104.6h1v1h-1zM429.4 83.5h1v1h-1zM435.3 93.2h1v1h-1zM428.9 94.6h1v1h-1zM432.7 103.0h1v1h-1zM440.6 81.4h1v1h-1zM432.7 90.9h1v1h-1zM427.8 98.6h1v1h-1zM437.0 95.6h1v1h-1zM430.1 96.2h1v1h-1zM433.1 79.6h1v1h-1zM424.6 92.1h1v1h-1zM429.1 94.3h1v1h-1zM426.2 80.0h1v1h-1zM434.7 92.9h1v1h-1zM424.9 97.2h1v1h-1zM426.7 99.4h1v1h-1zM429.4 96.8h1v1h-1zM430.5 76.8h1v1h-1zM423.5 89.3h1v1h-1zM424.3 106.7h1v1h-1zM423.5 95.8h1v1h-1zM423.1 104.6h1v1h-1zM432.3 97.3h1v1h-1zM430.5 86.8h1v1h-1zM424.6 92.9h1v1h-1zM432.4 91.3h1v1h-1zM433.6 86.0h1v1h-1zM429.1 92.9h1v1h-1zM425.6 98.9h1v1h-1zM432.1 84.4h1v1h-1zM425.5 95.2h1v1h-1zM430.4 79.8h1v1h-1zM427.5 92.5h1v1h-1zM429.3 90.8h1v1h-1zM433.5 98.9h1v1h-1zM427.6 94.8h1v1h-1zM428.6 87.4h1v1h-1zM442.4 96.7h1v1h-1zM437.2 99.4h1v1h-1zM423.9 98.4h1v1h-1zM435.8 97.8h1v1h-1zM435.4 71.7h1v1h-1zM427.5 106.8h1v1h-1zM423.6 79.3h1v1h-1zM425.0 83.6h1v1h-1zM424.4 92.4h1v1h-1zM428.0 106.2h1v1h-1zM424.9 92.6h1v1h-1zM432.6 93.7h1v1h-1zM424.7 106.9h1v1h-1zM431.8 87.1h1v1h-1zM430.6 89.7h1v1h-1zM426.8 100.7h1v1h-1zM427.4 72.6h1v1h-1zM424.9 90.3h1v1h-1zM425.6 100.7h1v1h-1zM429.0 84.3h1v1h-1zM430.5 89.4h1v1h-1zM435.2 98.6h1v1h-1zM435.1 97.3h1v1h-1zM423.9 92.0h1v1h-1zM424.1 94.6h1v1h-1zM424.7 107.5h1v1h-1zM431.1 107.1h1v1h-1zM429.2 84.3h1v1h-1zM427.3 99.7h1v1h-1zM439.3 94.0h1v1h-1zM424.2 88.4h1v1h-1zM430.5 88.5h1v1h-1zM427.6 90.0h1v1h-1zM425.3 84.9h1v1h-1zM430.9 93.0h1v1h-1zM426.4 87.0h1v1h-1zM426.7 88.0h1v1h-1zM433.0 78.4h1v1h-1zM433.5 91.5h1v1h-1zM437.4 95.5h1v1h-1zM441.9 97.8h1v1h-1zM436.5 104.4h1v1h-1zM426.2 91.0h1v1h-1zM425.9 94.2h1v1h-1zM431.0 88.6h1v1h-1zM427.7 100.0h1v1h-1zM427.2 93.6h1v1h-1zM434.2 87.1h1v1h-1zM427.9 95.6h1v1h-1zM442.0 90.6h1v1h-1zM428.8 95.5h1v1h-1zM431.7 97.3h1v1h-1zM425.8 96.1h1v1h-1zM423.7 91.9h1v1h-1zM426.5 89.4h1v1h-1zM431.2 101.1h1v1h-1zM440.0 97.4h1v1h-1zM435.6 97.1h1v1h-1zM429.0 95.5h1v1h-1zM433.4 92.0h1v1h-1zM429.3 99.2h1v1h-1zM425.2 88.0h1v1h-1zM431.2 97.1h1v1h-1zM431.3 91.9h1v1h-1zM425.0 97.4h1v1h-1zM428.7 93.0h1v1h-1zM424.4 100.5h1v1h-1zM427.2 104.2h1v1h-1zM424.7 93.9h1v1h-1zM430.2 86.5h1v1h-1zM427.1 86.5h1v1h-1zM435.5 103.8h1v1h-1zM426.1 84.2h1v1h-1zM425.2 95.7h1v1h-1zM440.5 94.8h1v1h-1zM430.4 102.5h1v1h-1zM425.0 101.0h1v1h-1zM427.6 105.7h1v1h-1zM450.3 97.2h1v1h-1zM424.8 105.6h1v1h-1zM430.8 98.3h1v1h-1zM429.3 98.4h1v1h-1zM427.9 79.7h1v1h-1zM430.0 90.4h1v1h-1zM427.9 94.7h1v1h-1zM424.4 99.0h1v1h-1zM430.9 92.3h1v1h-1zM437.2 91.4h1v1h-1zM437.1 92.4h1v1h-1zM429.7 83.0h1v1h-1zM429.3 85.0h1v1h-1zM424.3 92.9h1v1h-1zM445.0 91.0h1v1h-1zM442.0 95.2h1v1h-1zM426.2 106.8h1v1h-1zM425.7 99.8h1v1h-1zM426.7 102.9h1v1h-1zM430.3 102.6h1v1h-1zM426.6 91.9h1v1h-1zM433.7 98.0h1v1h-1zM432.1 83.1h1v1h-1zM426.4 100.8h1v1h-1zM427.8 101.6h1v1h-1zM425.0 90.1h1v1h-1zM437.9 86.1h1v1h-1zM423.4 92.1h1v1h-1zM425.0 84.9h1v1h-1zM433.0 100.1h1v1h-1zM426.1 88.2h1v1h-1zM429.6 89.8h1v1h-1zM425.3 96.1h1v1h-1zM430.1 97.8h1v1h-1zM428.2 104.6h1v1h-1zM424.7 92.3h1v1h-1zM423.6 94.6h1v1h-1zM427.0 88.6h1v1h-1zM437.8 86.8h1v1h-1zM425.3 101.1h1v1h-1zM426.7 82.9h1v1h-1zM429.4 96.0h1v1h-1zM424.5 76.9h1v1h-1zM433.5 100.1h1v1h-1zM444.6 99.8h1v1h-1zM445.0 92.6h1v1h-1zM427.5 88.0h1v1h-1zM437.0 100.6h1v1h-1zM433.1 103.0h1v1h-1zM426.0 79.1h1v1h-1zM428.3 87.0h1v1h-1zM439.2 86.3h1v1h-1zM427.2 97.8h1v1h-1zM437.2 104.4h1v1h-1zM440.4 103.1h1v1h-1zM427.8 97.2h1v1h-1zM441.4 88.3h1v1h-1zM427.3 95.1h1v1h-1zM426.3 88.9h1v1h-1zM432.1 100.8h1v1h-1zM428.0 102.7h1v1h-1zM429.4 95.5h1v1h-1zM426.5 91.5h1v1h-1zM427.8 89.1h1v1h-1zM430.0 97.8h1v1h-1zM434.1 98.7h1v1h-1zM439.7 87.6h1v1h-1zM439.9 92.9h1v1h-1zM426.4 100.3h1v1h-1zM432.1 93.1h1v1h-1zM433.6 84.1h1v1h-1zM432.4 97.1h1v1h-1zM424.2 96.3h1v1h-1zM451.7 94.3h1v1h-1zM427.4 101.6h1v1h-1zM428.1 91.4h1v1h-1zM424.5 96.5h1v1h-1zM424.5 89.2h1v1h-1zM429.0 87.8h1v1h-1zM440.7 90.0h1v1h-1zM425.2 97.0h1v1h-1zM431.1 88.1h1v1h-1zM425.8 96.7h1v1h-1zM438.2 97.8h1v1h-1zM441.8 93.7h1v1h-1zM423.3 89.4h1v1h-1zM423.2 94.6h1v1h-1zM440.7 101.0h1v1h-1zM428.3 91.9h1v1h-1zM423.0 94.2h1v1h-1zM430.1 88.3h1v1h-1zM444.5 112.1h1v1h-1zM432.3 94.9h1v1h-1zM424.7 91.6h1v1h-1zM424.0 81.5h1v1h-1zM429.5 82.7h1v1h-1zM425.8 90.0h1v1h-1zM426.6 95.5h1v1h-1zM430.9 96.3h1v1h-1zM429.7 101.3h1v1h-1zM437.1 100.7h1v1h-1zM425.3 89.2h1v1h-1zM435.8 95.8h1v1h-1zM434.1 87.1h1v1h-1zM425.9 93.9h1v1h-1zM452.0 81.7h1v1h-1zM430.7 95.2h1v1h-1zM428.5 102.7h1v1h-1zM429.1 96.6h1v1h-1zM427.4 90.1h1v1h-1zM435.9 96.9h1v1h-1zM429.8 74.2h1v1h-1zM446.5 84.7h1v1h-1zM424.1 82.3h1v1h-1zM425.4 83.9h1v1h-1zM430.4 93.5h1v1h-1zM426.5 94.0h1v1h-1zM427.2 101.9h1v1h-1zM430.8 101.4h1v1h-1zM424.1 80.1h1v1h-1zM424.3 79.3h1v1h-1zM448.7 94.5h1v1h-1zM452.3 94.6h1v1h-1zM426.4 85.2h1v1h-1zM432.3 95.6h1v1h-1zM431.1 96.2h1v1h-1zM427.7 90.5h1v1h-1zM426.4 88.7h1v1h-1zM423.9 89.1h1v1h-1zM424.9 80.0h1v1h-1zM426.5 94.0h1v1h-1zM435.5 90.9h1v1h-1zM428.9 91.6h1v1h-1zM426.6 101.4h1v1h-1zM429.1 107.5h1v1h-1zM435.0 94.6h1v1h-1zM442.5 89.2h1v1h-1zM429.8 100.2h1v1h-1zM441.3 103.9h1v1h-1zM427.5 98.4h1v1h-1zM437.2 94.5h1v1h-1zM425.5 91.8h1v1h-1zM428.4 103.3h1v1h-1zM425.3 88.4h1v1h-1zM430.1 91.5h1v1h-1zM425.5 89.0h1v1h-1zM430.9 94.8h1v1h-1zM448.4 90.4h1v1h-1zM427.3 92.1h1v1h-1zM423.2 99.3h1v1h-1zM428.9 99.5h1v1h-1zM425.3 106.5h1v1h-1zM428.9 88.4h1v1h-1zM429.7 84.0h1v1h-1zM448.1 95.2h1v1h-1zM432.1 87.4h1v1h-1zM431.0 91.9h1v1h-1zM433.5 98.5h1v1h-1zM426.3 103.8h1v1h-1zM431.6 95.6h1v1h-1zM440.5 84.0h1v1h-1zM429.6 86.3h1v1h-1zM430.3 87.8h1v1h-1zM431.5 90.4h1v1h-1zM434.0 95.3h1v1h-1zM438.0 95.6h1v1h-1zM429.8 96.0h1v1h-1zM429.6 102.0h1v1h-1zM425.4 96.1h1v1h-1zM430.4 86.1h1v1h-1zM427.9 101.0h1v1h-1zM428.4 87.5h1v1h-1zM426.2 89.6h1v1h-1zM426.0 100.7h1v1h-1zM427.5 97.9h1v1h-1zM432.7 89.5h1v1h-1zM429.5 95.8h1v1h-1zM439.1 86.2h1v1h-1zM425.6 94.8h1v1h-1zM431.8 93.4h1v1h-1zM428.0 94.6h1v1h-1zM425.7 102.6h1v1h-1zM448.0 98.4h1v1h-1zM429.3 106.1h1v1h-1zM428.6 89.9h1v1h-1zM445.5 90.4h1v1h-1zM433.8 96.0h1v1h-1zM438.4 93.8h1v1h-1zM423.8 88.8h1v1h-1zM430.2 100.5h1v1h-1zM424.9 85.1h1v1h-1zM427.8 103.3h1v1h-1zM428.1 94.0h1v1h-1zM425.0 101.6h1v1h-1zM431.7 90.6h1v1h-1zM429.3 83.9h1v1h-1zM426.2 83.9h1v1h-1zM430.5 105.2h1v1h-1zM445.9 99.8h1v1h-1zM438.0 81.6h1v1h-1zM428.4 93.1h1v1h-1zM431.8 98.6h1v1h-1zM424.4 92.9h1v1h-1zM427.6 108.2h1v1h-1zM433.9 91.5h1v1h-1zM427.8 81.2h1v1h-1zM425.8 102.1h1v1h-1zM430.6 97.8h1v1h-1zM427.9 92.7h1v1h-1zM439.0 97.8h1v1h-1zM431.4 86.7h1v1h-1zM424.3 96.4h1v1h-1zM428.2 88.8h1v1h-1zM437.1 82.1h1v1h-1zM429.0 95.5h1v1h-1zM432.7 99.7h1v1h-1zM424.6 100.6h1v1h-1zM434.6 95.9h1v1h-1zM431.1 103.6h1v1h-1zM426.4 94.9h1v1h-1zM424.1 79.8h1v1h-1zM435.6 96.0h1v1h-1zM426.8 100.2h1v1h-1zM428.3 86.4h1v1h-1zM429.1 94.6h1v1h-1zM431.5 92.0h1v1h-1zM440.3 83.9h1v1h-1zM423.8 100.4h1v1h-1zM429.6 100.6h1v1h-1zM436.7 87.3h1v1h-1zM423.7 88.6h1v1h-1zM434.0 110.2h1v1h-1zM430.1 88.0h1v1h-1zM437.9 95.2h1v1h-1zM432.2 89.7h1v1h-1zM426.8 96.9h1v1h-1zM424.6 92.4h1v1h-1zM444.8 86.2h1v1h-1zM425.6 99.8h1v1h-1zM424.9 95.5h1v1h-1zM434.3 94.5h1v1h-1zM426.2 100.1h1v1h-1zM427.9 84.9h1v1h-1zM432.2 89.1h1v1h-1zM424.1 104.4h1v1h-1zM432.2 84.7h1v1h-1zM424.7 94.4h1v1h-1zM433.7 96.0h1v1h-1zM424.4 98.3h1v1h-1zM432.3 91.4h1v1h-1zM438.0 89.0h1v1h-1zM433.5 85.6h1v1h-1zM433.9 94.2h1v1h-1zM423.6 104.5h1v1h-1zM423.8 110.3h1v1h-1zM427.0 97.7h1v1h-1zM436.5 93.9h1v1h-1zM431.6 97.9h1v1h-1zM445.3 103.1h1v1h-1zM424.9 95.0h1v1h-1zM425.3 95.2h1v1h-1zM431.7 94.6h1v1h-1zM428.2 94.7h1v1h-1zM447.4 102.1h1v1h-1zM426.4 86.8h1v1h-1zM432.2 94.6h1v1h-1zM429.9 97.2h1v1h-1zM428.5 81.1h1v1h-1zM427.2 98.5h1v1h-1zM430.1 96.2h1v1h-1zM427.8 92.4h1v1h-1zM425.9 93.2h1v1h-1zM433.6 89.0h1v1h-1zM425.5 85.5h1v1h-1zM426.0 89.4h1v1h-1zM432.9 86.6h1v1h-1zM438.5 102.8h1v1h-1zM436.8 92.6h1v1h-1zM430.5 98.6h1v1h-1zM442.5 90.7h1v1h-1zM428.0 80.6h1v1h-1zM439.1 78.2h1v1h-1zM427.6 87.2h1v1h-1zM434.5 96.2h1v1h-1zM437.9 92.2h1v1h-1zM429.3 92.4h1v1h-1zM440.2 89.1h1v1h-1zM426.1 84.3h1v1h-1zM436.5 103.7h1v1h-1zM430.4 89.7h1v1h-1zM427.9 101.4h1v1h-1zM426.1 99.9h1v1h-1zM439.2 93.2h1v1h-1zM423.5 87.3h1v1h-1zM428.0 92.7h1v1h-1zM429.1 96.2h1v1h-1zM438.1 94.9h1v1h-1zM433.3 88.4h1v1h-1zM426.9 102.0h1v1h-1zM431.8 87.3h1v1h-1zM445.0 95.7h1v1h-1zM437.1 92.2h1v1h-1zM439.8 95.6h1v1h-1zM428.0 99.9h1v1h-1zM428.8 95.1h1v1h-1zM428.9 94.2h1v1h-1zM428.4 96.3h1v1h-1zM424.7 93.9h1v1h-1zM447.1 87.9h1v1h-1zM430.8 85.7h1v1h-1zM431.3 95.2h1v1h-1zM435.2 109.6h1v1h-1zM428.9 83.7h1v1h-1zM433.9 90.0h1v1h-1zM427.4 94.8h1v1h-1zM431.0 103.2h1v1h-1zM438.8 95.1h1v1h-1zM427.1 95.3h1v1h-1zM432.8 101.7h1v1h-1zM427.8 81.6h1v1h-1zM429.1 93.4h1v1h-1zM431.3 95.9h1v1h-1zM434.2 95.3h1v1h-1zM432.9 95.3h1v1h-1zM426.6 97.2h1v1h-1zM430.3 99.2h1v1h-1zM433.2 111.7h1v1h-1zM429.7 103.5h1v1h-1zM425.0 97.3h1v1h-1zM429.2 79.9h1v1h-1zM433.5 100.3h1v1h-1zM436.6 94.6h1v1h-1zM430.6 94.9h1v1h-1zM427.7 92.7h1v1h-1zM430.5 96.7h1v1h-1zM432.1 83.5h1v1h-1zM424.0 84.8h1v1h-1zM425.4 98.5h1v1h-1zM432.1 96.6h1v1h-1zM425.9 74.8h1v1h-1zM432.0 107.5h1v1h-1zM423.8 88.1h1v1h-1zM424.6 73.6h1v1h-1zM423.7 95.6h1v1h-1zM434.2 106.2h1v1h-1zM424.1 98.4h1v1h-1zM427.4 92.7h1v1h-1zM426.2 92.9h1v1h-1zM429.5 88.2h1v1h-1zM430.0 89.4h1v1h-1zM426.7 78.9h1v1h-1zM438.3 87.0h1v1h-1zM429.1 92.8h1v1h-1zM424.4 86.1h1v1h-1zM430.3 90.5h1v1h-1zM433.7 87.7h1v1h-1zM427.9 93.4h1v1h-1zM432.5 95.6h1v1h-1zM426.8 75.9h1v1h-1zM427.6 83.7h1v1h-1zM431.0 85.1h1v1h-1zM423.5 98.9h1v1h-1zM430.9 91.5h1v1h-1zM432.4 97.0h1v1h-1zM439.6 101.5h1v1h-1zM427.0 101.8h1v1h-1zM423.9 94.2h1v1h-1zM435.8 89.7h1v1h-1zM439.7 94.6h1v1h-1zM428.7 98.2h1v1h-1zM440.2 90.4h1v1h-1zM425.1 97.3h1v1h-1zM431.2 86.7h1v1h-1zM433.0 85.8h1v1h-1zM425.6 86.8h1v1h-1zM427.3 90.4h1v1h-1zM433.8 99.7h1v1h-1zM432.2 79.9h1v1h-1zM429.8 81.1h1v1h-1zM425.7 99.1h1v1h-1zM438.1 93.0h1v1h-1zM438.0 94.4h1v1h-1zM425.1 87.0h1v1h-1zM423.7 87.0h1v1h-1zM424.4 92.4h1v1h-1zM427.4 91.8h1v1h-1zM444.9 84.7h1v1h-1zM439.8 92.8h1v1h-1zM438.4 92.5h1v1h-1zM433.9 94.9h1v1h-1zM427.1 94.1h1v1h-1zM426.4 84.5h1v1h-1zM432.1 106.9h1v1h-1zM427.7 94.7h1v1h-1zM430.4 100.8h1v1h-1zM424.7 94.7h1v1h-1zM430.3 95.5h1v1h-1zM428.9 101.8h1v1h-1zM445.8 72.6h1v1h-1zM424.8 94.9h1v1h-1zM438.7 81.2h1v1h-1zM423.2 95.2h1v1h-1zM429.2 87.6h1v1h-1zM426.6 89.6h1v1h-1zM424.6 86.2h1v1h-1zM426.8 90.2h1v1h-1zM428.4 100.4h1v1h-1zM428.2 113.3h1v1h-1zM451.3 86.8h1v1h-1zM431.2 106.8h1v1h-1zM432.6 83.3h1v1h-1zM430.8 98.5h1v1h-1zM432.5 86.5h1v1h-1zM432.0 87.6h1v1h-1zM438.0 78.2h1v1h-1zM427.8 102.0h1v1h-1z" fill="#0a0aff" opacity="1"/>
<path d="M432.6 80.0h1v1h-1zM439.4 88.9h1v1h-1zM428.8 66.5h1v1h-1zM444.5 59.7h1v1h-1zM435.8 47.8h1v1h-1zM431.1 85.2h1v1h-1zM438.4 84.5h1v1h-1zM434.1 64.1h1v1h-1zM431.9 65.1h1v1h-1zM442.4 50.0h1v1h-1zM426.5 83.1h1v1h-1zM436.4 82.6h1v1h-1zM440.9 61.4h1v1h-1zM428.3 92.6h1v1h-1zM432.3 76.3h1v1h-1zM440.5 87.8h1v1h-1zM429.9 82.5h1v1h-1zM433.1 83.0h1v1h-1zM431.9 55.4h1v1h-1zM437.3 56.0h1v1h-1zM428.9 64.1h1v1h-1zM430.9 87.2h1v1h-1zM433.3 78.2h1v1h-1zM426.9 84.1h1v1h-1zM426.4 93.8h1v1h-1zM435.1 81.3h1v1h-1zM428.1 77.5h1v1h-1zM428.9 84.7h1v1h-1zM434.8 86.4h1v1h-1zM430.5 75.0h1v1h-1zM431.7 92.9h1v1h-1zM439.1 91.5h1v1h-1zM429.6 67.4h1v1h-1zM436.7 72.7h1v1h-1zM431.5 75.1h1v1h-1zM428.7 88.0h1v1h-1zM429.6 90.6h1v1h-1zM430.6 43.1h1v1h-1zM427.4 85.5h1v1h-1zM427.0 65.7h1v1h-1zM449.4 67.9h1v1h-1zM429.4 89.6h1v1h-1zM434.5 72.5h1v1h-1zM441.1 82.5h1v1h-1zM440.4 92.2h1v1h-1zM436.1 91.2h1v1h-1zM427.3 93.4h1v1h-1zM428.4 76.6h1v1h-1zM430.1 78.4h1v1h-1zM439.2 82.2h1v1h-1zM435.3 80.2h1v1h-1zM430.5 80.5h1v1h-1zM434.5 59.8h1v1h-1zM429.4 59.7h1v1h-1zM439.2 78.9h1v1h-1zM427.9 70.3h1v1h-1zM427.4 92.7h1v1h-1zM435.9 64.0h1v1h-1zM439.5 93.1h1v1h-1zM428.8 84.0h1v1h-1zM430.6 79.2h1v1h-1zM449.5 79.5h1v1h-1zM430.3 57.0h1v1h-1zM436.0 80.9h1v1h-1zM444.1 76.6h1v1h-1zM430.6 92.7h1v1h-1zM438.2 91.1h1v1h-1zM429.4 50.5h1v1h-1zM424.5 90.3h1v1h-1zM434.4 83.2h1v1h-1zM429.4 73.9h1v1h-1zM431.1 82.9h1v1h-1zM433.2 77.0h1v1h-1zM427.4 93.0h1v1h-1zM433.6 59.5h1v1h-1zM430.3 62.9h1v1h-1zM443.7 69.1h1v1h-1zM427.5 79.9h1v1h-1zM438.6 87.8h1v1h-1zM439.1 83.6h1v1h-1zM442.4 86.4h1v1h-1zM437.3 71.3h1v1h-1zM425.0 93.2h1v1h-1zM427.8 89.8h1v1h-1zM432.3 64.5h1v1h-1zM438.7 90.4h1v1h-1zM434.3 87.2h1v1h-1zM430.6 84.3h1v1h-1zM426.3 72.1h1v1h-1zM428.3 66.4h1v1h-1zM433.8 86.0h1v1h-1zM436.9 78.2h1v1h-1zM430.9 58.8h1v1h-1zM433.8 82.5h1v1h-1zM429.8 89.8h1v1h-1zM436.0 84.5h1v1h-1zM427.2 86.8h1v1h-1zM434.4 78.6h1v1h-1zM428.3 52.2h1v1h-1zM433.4 67.4h1v1h-1zM441.2 88.6h1v1h-1zM432.6 92.2h1v1h-1zM449.3 61.1h1v1h-1zM430.6 88.0h1v1h-1zM449.2 62.5h1v1h-1zM432.0 81.2h1v1h-1zM429.2 80.8h1v1h-1zM431.3 77.6h1v1h-1zM432.9 86.6h1v1h-1zM436.5 91.1h1v1h-1zM428.3 63.8h1v1h-1zM426.3 85.0h1v1h-1zM430.1 92.2h1v1h-1zM426.7 78.6h1v1h-1zM428.7 92.0h1v1h-1zM427.1 79.0h1v1h-1zM434.0 85.9h1v1h-1zM427.5 93.5h1v1h-1zM429.1 71.1h1v1h-1zM427.9 73.0h1v1h-1zM435.6 52.4h1v1h-1zM429.1 79.4h1v1h-1zM436.9 87.5h1v1h-1zM431.9 85.4h1v1h-1zM428.3 69.8h1v1h-1zM435.8 93.9h1v1h-1zM431.7 84.4h1v1h-1zM427.8 85.4h1v1h-1zM433.5 82.6h1v1h-1zM436.9 61.0h1v1h-1zM427.5 64.1h1v1h-1zM430.6 93.1h1v1h-1zM431.1 75.6h1v1h-1zM429.8 86.6h1v1h-1zM431.3 61.7h1v1h-1zM427.6 56.4h1v1h-1zM428.9 72.8h1v1h-1zM445.7 78.4h1v1h-1zM428.1 56.9h1v1h-1zM439.8 93.1h1v1h-1zM429.1 63.8h1v1h-1zM432.0 68.2h1v1h-1zM436.7 63.4h1v1h-1zM426.0 78.6h1v1h-1zM426.2 83.9h1v1h-1zM426.6 71.3h1v1h-1zM444.9 79.7h1v1h-1zM441.6 28.9h1v1h-1zM428.0 92.3h1v1h-1zM439.4 82.6h1v1h-1zM427.5 62.4h1v1h-1zM430.7 87.9h1v1h-1zM438.9 59.9h1v1h-1zM436.5 74.9h1v1h-1zM431.4 79.7h1v1h-1zM438.8 84.4h1v1h-1zM446.7 43.6h1v1h-1zM425.9 76.3h1v1h-1zM432.9 87.3h1v1h-1zM444.5 65.1h1v1h-1zM433.6 84.3h1v1h-1zM427.1 74.9h1v1h-1zM432.0 76.9h1v1h-1zM434.1 70.6h1v1h-1zM434.3 55.8h1v1h-1zM433.7 55.9h1v1h-1zM432.6 93.2h1v1h-1zM426.9 77.2h1v1h-1zM431.8 77.9h1v1h-1zM432.7 64.3h1v1h-1zM431.3 84.9h1v1h-1zM443.6 45.8h1v1h-1zM430.1 71.6h1v1h-1zM442.6 88.1h1v1h-1zM428.3 64.7h1v1h-1zM437.6 83.1h1v1h-1zM432.1 45.0h1v1h-1zM427.4 90.8h1v1h-1zM430.6 83.5h1v1h-1zM434.5 78.5h1v1h-1zM431.7 73.5h1v1h-1zM441.1 91.7h1v1h-1zM429.9 76.3h1v1h-1zM435.2 91.4h1v1h-1zM430.3 90.0h1v1h-1zM431.5 77.5h1v1h-1zM427.9 85.7h1v1h-1zM445.8 85.4h1v1h-1zM433.8 74.4h1v1h-1zM426.2 89.1h1v1h-1zM431.8 60.3h1v1h-1zM429.7 59.4h1v1h-1zM437.0 89.6h1v1h-1zM427.4 61.8h1v1h-1zM428.3 94.0h1v1h-1zM436.1 68.4h1v1h-1zM432.7 77.7h1v1h-1zM429.4 71.3h1v1h-1zM435.1 88.1h1v1h-1zM439.7 73.8h1v1h-1zM427.2 83.3h1v1h-1zM431.7 69.3h1v1h-1zM429.2 66.4h1v1h-1zM452.0 82.9h1v1h-1zM432.3 73.6h1v1h-1zM430.0 66.5h1v1h-1zM426.8 79.2h1v1h-1zM436.0 86.0h1v1h-1zM430.2 82.4h1v1h-1zM430.0 56.7h1v1h-1zM433.9 78.7h1v1h-1zM434.2 56.8h1v1h-1zM431.1 93.9h1v1h-1zM439.6 77.6h1v1h-1zM440.3 76.1h1v1h-1zM430.7 79.3h1v1h-1zM425.7 91.6h1v1h-1zM444.5 90.3h1v1h-1zM428.4 69.3h1v1h-1zM439.2 70.3h1v1h-1zM430.9 65.3h1v1h-1zM443.1 74.1h1v1h-1zM424.8 84.4h1v1h-1zM445.1 90.6h1v1h-1zM443.6 86.8h1v1h-1zM434.1 87.3h1v1h-1zM434.4 65.8h1v1h-1zM432.4 91.7h1v1h-1zM430.0 85.8h1v1h-1zM428.7 84.4h1v1h-1zM427.9 75.8h1v1h-1zM433.5 88.0h1v1h-1zM434.0 73.4h1v1h-1zM436.4 51.7h1v1h-1zM434.9 87.5h1v1h-1zM435.6 81.9h1v1h-1zM437.9 86.6h1v1h-1zM429.1 82.1h1v1h-1zM432.2 49.8h1v1h-1zM441.1 65.6h1v1h-1zM426.1 79.7h1v1h-1zM428.7 84.6h1v1h-1zM429.1 90.2h1v1h-1zM426.0 73.3h1v1h-1zM429.1 93.3h1v1h-1zM439.8 85.8h1v1h-1zM428.5 77.3h1v1h-1zM427.3 87.2h1v1h-1zM433.3 80.3h1v1h-1zM430.3 92.7h1v1h-1zM437.8 53.1h1v1h-1zM431.8 91.5h1v1h-1zM438.2 72.4h1v1h-1zM449.4 91.4h1v1h-1zM439.3 66.4h1v1h-1zM429.2 92.9h1v1h-1zM437.7 83.8h1v1h-1zM425.8 73.6h1v1h-1zM427.8 93.7h1v1h-1zM429.1 82.3h1v1h-1zM451.3 87.4h1v1h-1zM432.7 77.9h1v1h-1zM427.7 81.4h1v1h-1zM429.2 48.3h1v1h-1zM426.3 82.2h1v1h-1zM431.9 87.3h1v1h-1zM434.9 39.0h1v1h-1zM432.3 78.2h1v1h-1zM445.9 81.4h1v1h-1zM445.4 88.4h1v1h-1zM438.9 84.9h1v1h-1zM426.1 82.1h1v1h-1zM430.5 73.7h1v1h-1zM426.0 83.9h1v1h-1zM430.4 70.3h1v1h-1zM447.2 83.2h1v1h-1zM434.7 82.5h1v1h-1zM429.0 93.5h1v1h-1zM426.4 71.6h1v1h-1zM427.0 68.6h1v1h-1zM436.9 75.5h1v1h-1zM435.4 64.5h1v1h-1zM442.6 90.2h1v1h-1zM439.1 39.9h1v1h-1zM429.8 70.6h1v1h-1zM432.9 92.0h1v1h-1zM428.8 84.1h1v1h-1zM429.1 79.7h1v1h-1zM433.9 84.7h1v1h-1zM430.6 65.4h1v1h-1zM432.0 80.4h1v1h-1zM426.2 62.9h1v1h-1zM428.6 87.4h1v1h-1zM428.0 79.1h1v1h-1zM443.8 74.2h1v1h-1zM430.3 88.3h1v1h-1zM433.2 70.2h1v1h-1zM434.8 59.8h1v1h-1zM444.1 79.9h1v1h-1zM433.2 76.2h1v1h-1zM437.7 86.1h1v1h-1zM432.3 82.8h1v1h-1zM441.6 21.8h1v1h-1zM426.1 89.3h1v1h-1zM427.5 88.3h1v1h-1zM425.5 80.5h1v1h-1zM428.5 82.8h1v1h-1zM436.7 82.2h1v1h-1zM437.6 69.7h1v1h-1zM435.9 50.1h1v1h-1zM430.6 87.0h1v1h-1zM431.8 62.8h1v1h-1zM427.9 58.5h1v1h-1zM431.2 90.0h1v1h-1zM428.1 89.4h1v1h-1zM431.2 76.1h1v1h-1zM431.5 87.7h1v1h-1zM429.4 77.5h1v1h-1zM448.8 85.3h1v1h-1zM451.5 54.6h1v1h-1zM429.2 64.3h1v1h-1zM429.1 81.5h1v1h-1zM428.8 86.3h1v1h-1zM441.1 65.7h1v1h-1zM427.4 79.9h1v1h-1zM431.2 88.4h1v1h-1zM431.9 54.9h1v1h-1zM430.6 60.8h1v1h-1zM429.0 86.6h1v1h-1zM425.6 92.7h1v1h-1zM431.0 67.6h1v1h-1zM429.2 83.7h1v1h-1zM448.3 52.3h1v1h-1zM431.9 53.5h1v1h-1zM430.8 79.5h1v1h-1zM450.0 77.2h1v1h-1zM434.6 89.0h1v1h-1zM428.9 88.5h1v1h-1zM430.0 78.8h1v1h-1zM427.3 82.9h1v1h-1zM436.4 61.4h1v1h-1zM440.6 72.8h1v1h-1zM431.8 89.0h1v1h-1zM434.6 76.1h1v1h-1zM444.4 88.2h1v1h-1zM426.7 89.8h1v1h-1zM432.9 55.6h1v1h-1zM436.2 93.7h1v1h-1zM427.1 62.4h1v1h-1zM438.4 67.4h1v1h-1zM431.5 90.1h1v1h-1zM448.3 91.7h1v1h-1zM434.3 63.7h1v1h-1zM427.2 90.7h1v1h-1zM426.2 76.7h1v1h-1zM444.5 77.3h1v1h-1zM434.6 73.3h1v1h-1zM438.0 64.8h1v1h-1zM437.1 60.7h1v1h-1zM432.1 92.7h1v1h-1zM433.3 44.7h1v1h-1zM426.9 76.7h1v1h-1zM426.1 74.0h1v1h-1zM443.0 73.7h1v1h-1zM430.3 88.7h1v1h-1zM433.9 65.5h1v1h-1zM439.0 84.8h1v1h-1zM425.7 81.8h1v1h-1zM428.8 84.2h1v1h-1zM428.6 90.6h1v1h-1zM430.9 83.0h1v1h-1zM431.9 92.4h1v1h-1zM431.0 70.3h1v1h-1zM428.3 55.5h1v1h-1zM428.0 69.5h1v1h-1zM429.4 83.8h1v1h-1zM438.7 87.8h1v1h-1zM425.5 90.2h1v1h-1zM431.6 84.0h1v1h-1zM432.2 75.5h1v1h-1zM442.3 76.8h1v1h-1zM429.1 83.9h1v1h-1zM432.5 74.6h1v1h-1zM441.9 86.6h1v1h-1zM445.0 73.3h1v1h-1zM424.8 87.9h1v1h-1zM425.5 92.2h1v1h-1zM431.7 72.6h1v1h-1zM425.7 93.2h1v1h-1zM428.4 64.0h1v1h-1zM428.9 64.3h1v1h-1zM434.6 78.2h1v1h-1zM434.3 77.5h1v1h-1zM430.3 45.4h1v1h-1zM438.4 68.1h1v1h-1zM429.3 91.4h1v1h-1zM437.1 73.7h1v1h-1zM428.6 56.6h1v1h-1zM428.3 92.2h1v1h-1zM433.6 84.7h1v1h-1zM438.5 78.5h1v1h-1zM427.8 68.8h1v1h-1zM428.7 85.2h1v1h-1zM440.7 80.1h1v1h-1zM434.6 86.0h1v1h-1zM436.8 47.3h1v1h-1zM432.0 55.8h1v1h-1zM428.6 90.3h1v1h-1zM434.5 46.8h1v1h-1zM425.7 93.5h1v1h-1zM430.7 81.3h1v1h-1zM430.0 87.4h1v1h-1zM432.0 85.2h1v1h-1zM436.9 73.2h1v1h-1zM427.4 81.7h1v1h-1zM438.1 90.7h1v1h-1zM441.8 74.2h1v1h-1zM429.8 71.5h1v1h-1zM438.8 71.1h1v1h-1zM435.9 93.5h1v1h-1zM433.6 72.6h1v1h-1zM436.1 79.2h1v1h-1zM427.5 87.3h1v1h-1zM449.3 71.5h1v1h-1zM425.0 93.8h1v1h-1zM428.0 79.4h1v1h-1zM433.6 78.4h1v1h-1zM448.0 67.0h1v1h-1zM433.6 83.6h1v1h-1zM427.2 83.3h1v1h-1zM439.4 81.2h1v1h-1zM437.1 71.9h1v1h-1zM432.1 90.6h1v1h-1zM433.9 91.9h1v1h-1zM428.6 75.1h1v1h-1zM439.3 83.8h1v1h-1zM435.3 58.9h1v1h-1zM448.4 80.1h1v1h-1zM429.6 91.8h1v1h-1zM431.4 81.8h1v1h-1zM429.7 77.4h1v1h-1zM442.4 83.1h1v1h-1zM427.7 87.9h1v1h-1zM434.9 88.2h1v1h-1zM437.5 73.6h1v1h-1zM434.8 49.8h1v1h-1zM435.3 67.6h1v1h-1zM431.3 86.3h1v1h-1zM428.1 78.4h1v1h-1zM430.2 89.8h1v1h-1zM430.9 65.3h1v1h-1zM441.5 92.9h1v1h-1zM438.3 76.5h1v1h-1zM427.9 93.5h1v1h-1zM428.9 91.3h1v1h-1zM446.9 90.7h1v1h-1zM429.1 81.5h1v1h-1zM428.3 88.9h1v1h-1zM435.0 91.6h1v1h-1zM429.0 60.4h1v1h-1zM430.5 79.5h1v1h-1zM433.1 93.3h1v1h-1zM429.8 77.7h1v1h-1zM430.0 70.7h1v1h-1zM443.7 93.8h1v1h-1zM433.8 77.5h1v1h-1zM449.3 84.8h1v1h-1zM427.1 90.5h1v1h-1zM433.9 78.1h1v1h-1zM438.0 82.7h1v1h-1zM426.9 83.9h1v1h-1zM452.3 77.9h1v1h-1zM427.5 64.2h1v1h-1zM433.9 92.7h1v1h-1zM428.2 87.3h1v1h-1zM449.0 47.8h1v1h-1zM433.6 92.3h1v1h-1zM428.3 92.5h1v1h-1zM435.3 70.8h1v1h-1zM438.1 77.7h1v1h-1zM435.1 85.8h1v1h-1zM430.3 47.6h1v1h-1zM428.1 88.5h1v1h-1zM430.6 79.4h1v1h-1zM432.2 47.2h1v1h-1zM433.3 74.1h1v1h-1zM437.4 86.6h1v1h-1zM437.7 76.3h1v1h-1zM432.4 78.5h1v1h-1zM434.9 64.8h1v1h-1zM434.0 87.9h1v1h-1zM431.3 85.7h1v1h-1zM428.7 57.5h1v1h-1zM425.3 86.0h1v1h-1zM428.4 75.7h1v1h-1zM440.3 76.7h1v1h-1zM433.5 60.3h1v1h-1zM427.1 80.8h1v1h-1zM428.6 60.9h1v1h-1zM431.6 84.8h1v1h-1zM430.4 81.3h1v1h-1zM440.5 88.9h1v1h-1zM434.6 93.3h1v1h-1zM428.3 92.1h1v1h-1zM428.0 89.3h1v1h-1zM425.9 74.3h1v1h-1zM427.9 90.8h1v1h-1zM425.5 89.2h1v1h-1zM434.0 81.8h1v1h-1zM432.6 70.7h1v1h-1zM435.8 70.1h1v1h-1zM447.1 72.1h1v1h-1zM433.4 93.6h1v1h-1zM435.1 92.8h1v1h-1zM427.8 63.0h1v1h-1zM444.5 86.8h1v1h-1zM430.0 61.3h1v1h-1zM441.3 74.7h1v1h-1zM437.5 77.0h1v1h-1zM436.6 87.2h1v1h-1zM430.3 49.6h1v1h-1zM432.7 75.1h1v1h-1zM439.8 71.4h1v1h-1zM439.6 86.8h1v1h-1zM451.1 85.4h1v1h-1zM432.7 88.2h1v1h-1zM435.0 73.9h1v1h-1zM433.2 87.0h1v1h-1zM428.0 85.4h1v1h-1zM425.5 74.6h1v1h-1zM426.5 85.5h1v1h-1zM432.4 81.4h1v1h-1zM427.8 81.1h1v1h-1zM426.2 67.9h1v1h-1zM430.5 56.6h1v1h-1zM428.1 50.8h1v1h-1zM445.5 87.0h1v1h-1zM426.9 75.3h1v1h-1zM435.0 62.8h1v1h-1zM434.5 60.8h1v1h-1zM427.1 82.1h1v1h-1zM436.0 86.1h1v1h-1zM437.8 75.9h1v1h-1zM435.7 54.1h1v1h-1zM435.8 80.6h1v1h-1zM429.8 88.7h1v1h-1zM427.5 90.9h1v1h-1zM433.7 84.3h1v1h-1zM428.2 82.7h1v1h-1zM435.0 56.0h1v1h-1zM436.1 75.2h1v1h-1zM435.6 72.7h1v1h-1zM431.6 84.4h1v1h-1zM429.3 65.2h1v1h-1zM450.2 72.0h1v1h-1zM427.9 78.7h1v1h-1zM428.0 84.7h1v1h-1zM431.1 64.1h1v1h-1zM446.3 90.4h1v1h-1zM438.0 91.9h1v1h-1zM426.5 88.3h1v1h-1zM431.7 75.6h1v1h-1zM426.9 73.2h1v1h-1zM427.1 87.8h1v1h-1zM435.0 77.6h1v1h-1zM442.5 53.8h1v1h-1zM435.2 92.2h1v1h-1zM427.0 71.9h1v1h-1zM426.6 66.2h1v1h-1zM429.8 63.4h1v1h-1zM439.2 75.8h1v1h-1zM427.2 90.8h1v1h-1zM432.7 64.6h1v1h-1zM447.3 93.0h1v1h-1zM429.8 83.2h1v1h-1zM435.2 69.2h1v1h-1zM428.6 88.5h1v1h-1zM428.3 68.9h1v1h-1zM430.9 88.8h1v1h-1zM430.8 78.4h1v1h-1zM424.6 88.0h1v1h-1zM430.6 48.4h1v1h-1zM429.3 74.0h1v1h-1zM430.0 72.8h1v1h-1zM428.8 93.9h1v1h-1zM430.4 86.0h1v1h-1zM435.6 44.6h1v1h-1zM440.3 81.4h1v1h-1zM430.7 93.2h1v1h-1zM441.1 75.3h1v1h-1zM444.4 74.7h1v1h-1zM437.4 80.7h1v1h-1zM440.0 60.0h1v1h-1zM431.3 82.8h1v1h-1zM428.5 74.4h1v1h-1zM431.6 92.4h1v1h-1zM433.7 77.7h1v1h-1zM428.0 90.8h1v1h-1zM431.1 76.9h1v1h-1zM435.1 82.3h1v1h-1zM436.4 76.2h1v1h-1zM435.3 86.8h1v1h-1zM430.3 82.8h1v1h-1zM434.5 78.9h1v1h-1zM429.1 92.2h1v1h-1zM436.7 72.8h1v1h-1zM448.9 84.5h1v1h-1zM426.8 72.5h1v1h-1zM438.5 90.1h1v1h-1zM434.3 81.4h1v1h-1zM426.6 89.7h1v1h-1zM444.9 67.9h1v1h-1zM435.7 73.7h1v1h-1zM430.7 74.5h1v1h-1zM431.8 80.1h1v1h-1z" fill="#0a0aff" opacity="0.6"/>
<path d="M475.4 90.8h1v1h-1zM453.1 85.0h1v1h-1zM453.5 91.4h1v1h-1zM459.6 93.7h1v1h-1zM453.9 89.6h1v1h-1zM455.2 74.7h1v1h-1zM455.6 72.9h1v1h-1zM455.2 88.8h1v1h-1zM462.0 88.0h1v1h-1zM467.9 95.3h1v1h-1zM452.9 91.5h1v1h-1zM452.8 108.7h1v1h-1zM459.9 90.6h1v1h-1zM468.5 73.9h1v1h-1zM481.9 106.1h1v1h-1zM471.8 100.1h1v1h-1zM459.0 90.2h1v1h-1zM461.2 92.8h1v1h-1zM470.7 104.6h1v1h-1zM455.6 95.3h1v1h-1zM460.8 106.6h1v1h-1zM486.7 69.2h1v1h-1zM469.8 84.3h1v1h-1zM481.3 104.7h1v1h-1zM469.8 90.4h1v1h-1zM474.0 89.2h1v1h-1zM473.0 98.7h1v1h-1zM470.6 87.3h1v1h-1zM484.4 86.7h1v1h-1zM455.8 88.5h1v1h-1zM463.0 91.5h1v1h-1zM460.7 95.2h1v1h-1zM461.8 99.9h1v1h-1zM474.6 94.3h1v1h-1zM467.4 75.6h1v1h-1zM475.6 106.4h1v1h-1zM487.9 88.2h1v1h-1zM456.4 101.6h1v1h-1zM458.2 107.9h1v1h-1zM465.4 108.3h1v1h-1zM453.9 94.8h1v1h-1zM454.3 98.7h1v1h-1zM456.3 90.3h1v1h-1zM481.2 93.2h1v1h-1zM462.6 102.4h1v1h-1zM475.4 81.0h1v1h-1zM465.4 109.5h1v1h-1zM458.4 109.8h1v1h-1zM457.8 86.7h1v1h-1zM465.0 102.1h1v1h-1zM462.2 86.6h1v1h-1zM467.8 88.2h1v1h-1zM501.2 101.0h1v1h-1zM463.9 106.9h1v1h-1zM454.7 91.8h1v1h-1zM478.6 105.8h1v1h-1zM465.0 96.3h1v1h-1zM483.0 102.4h1v1h-1zM465.0 85.5h1v1h-1zM468.6 105.8h1v1h-1zM480.7 107.5h1v1h-1zM470.1 87.8h1v1h-1zM477.1 105.6h1v1h-1zM461.9 97.2h1v1h-1zM460.2 85.0h1v1h-1zM482.1 88.1h1v1h-1zM467.0 109.1h1v1h-1zM454.0 107.5h1v1h-1zM457.5 104.0h1v1h-1zM468.4 95.8h1v1h-1zM459.8 76.8h1v1h-1zM464.4 99.1h1v1h-1zM473.1 90.3h1v1h-1zM467.4 111.1h1v1h-1zM454.2 101.9h1v1h-1zM476.5 92.8h1v1h-1zM468.7 103.1h1v1h-1zM474.4 105.7h1v1h-1zM485.2 86.8h1v1h-1zM474.7 103.5h1v1h-1zM459.4 97.5h1v1h-1zM459.9 92.5h1v1h-1zM490.8 101.8h1v1h-1zM472.4 99.1h1v1h-1zM486.1 91.0h1v1h-1zM465.5 98.5h1v1h-1zM464.3 89.6h1v1h-1zM455.4 87.9h1v1h-1zM454.1 78.6h1v1h-1zM455.0 86.3h1v1h-1zM464.3 81.4h1v1h-1z" fill="#f08050" opacity="0.8"/>
<text x="414.80" y="11.80" font-size="8.0" text-anchor="start" font-weight="normal" fill="#222" stroke="#222" stroke-width="0.14" >CD133</text>
<text x="440.80" y="8.90" font-size="4.4" text-anchor="start" font-weight="normal" fill="#222" stroke="#222" stroke-width="0.2" >&#8211;/low</text>
<text x="453.90" y="11.80" font-size="8.0" text-anchor="start" font-weight="normal" fill="#222" stroke="#222" stroke-width="0.14" >Cells</text>
<rect x="452.50" y="30.20" width="68.00" height="87.20" fill="none" stroke="#f26a4a" stroke-width="1.1" />
<text x="519.70" y="28.10" font-size="7.15" text-anchor="end" font-weight="normal" fill="#f26a4a" stroke="#f26a4a" stroke-width="0.14" >Mitotic Cells</text>
<line x1="42.00" y1="164.30" x2="42.00" y2="260.40" stroke="#555" stroke-width="0.9" />
<line x1="42.00" y1="260.40" x2="106.50" y2="260.40" stroke="#555" stroke-width="0.9" />
<line x1="40.50" y1="260.40" x2="42.00" y2="260.40" stroke="#333" stroke-width="0.8" />
<text x="40.80" y="262.35" font-size="7.2" text-anchor="end" font-weight="bold" fill="#111" stroke="#111" stroke-width="0.14" >0</text>
<line x1="40.50" y1="241.18" x2="42.00" y2="241.18" stroke="#333" stroke-width="0.8" />
<text x="40.80" y="243.13" font-size="7.2" text-anchor="end" font-weight="bold" fill="#111" stroke="#111" stroke-width="0.14" >1</text>
<line x1="40.50" y1="221.96" x2="42.00" y2="221.96" stroke="#333" stroke-width="0.8" />
<text x="40.80" y="223.91" font-size="7.2" text-anchor="end" font-weight="bold" fill="#111" stroke="#111" stroke-width="0.14" >2</text>
<line x1="40.50" y1="202.74" x2="42.00" y2="202.74" stroke="#333" stroke-width="0.8" />
<text x="40.80" y="204.69" font-size="7.2" text-anchor="end" font-weight="bold" fill="#111" stroke="#111" stroke-width="0.14" >3</text>
<line x1="40.50" y1="183.52" x2="42.00" y2="183.52" stroke="#333" stroke-width="0.8" />
<text x="40.80" y="185.47" font-size="7.2" text-anchor="end" font-weight="bold" fill="#111" stroke="#111" stroke-width="0.14" >4</text>
<line x1="40.50" y1="164.30" x2="42.00" y2="164.30" stroke="#333" stroke-width="0.8" />
<text x="40.80" y="166.25" font-size="7.2" text-anchor="end" font-weight="bold" fill="#111" stroke="#111" stroke-width="0.14" >5</text>
<text x="74.20" y="268.60" font-size="7.2" text-anchor="middle" font-weight="normal" fill="#222" stroke="#222" stroke-width="0.14" >Caco2</text>
<text x="0" y="0" font-size="6.15" text-anchor="middle" font-weight="normal" fill="#333" stroke="#333" stroke-width="0.14" transform="translate(23.20,212.20) rotate(-90)" dominant-baseline="central">Mitotic Index (%)</text>
<line x1="56.30" y1="178.14" x2="56.30" y2="216.77" stroke="#ff0000" stroke-width="0.6" />
<line x1="51.80" y1="178.14" x2="60.80" y2="178.14" stroke="#ff0000" stroke-width="0.6" />
<line x1="51.80" y1="216.77" x2="60.80" y2="216.77" stroke="#ff0000" stroke-width="0.6" />
<line x1="49.10" y1="200.43" x2="63.50" y2="200.43" stroke="#808080" stroke-width="1.1" />
<circle cx="53.60" cy="178.14" r="1.35" fill="#ff0000"/>
<circle cx="58.90" cy="178.14" r="1.35" fill="#ff0000"/>
<circle cx="51.50" cy="200.43" r="1.35" fill="#ff0000"/>
<circle cx="56.30" cy="197.55" r="1.35" fill="#ff0000"/>
<circle cx="56.30" cy="200.82" r="1.35" fill="#ff0000"/>
<circle cx="61.10" cy="203.12" r="1.35" fill="#ff0000"/>
<circle cx="56.30" cy="211.39" r="1.35" fill="#ff0000"/>
<circle cx="56.30" cy="216.77" r="1.35" fill="#ff0000"/>
<line x1="74.10" y1="211.39" x2="74.10" y2="225.42" stroke="#118811" stroke-width="0.6" />
<line x1="69.60" y1="211.39" x2="78.60" y2="211.39" stroke="#118811" stroke-width="0.6" />
<line x1="69.60" y1="225.42" x2="78.60" y2="225.42" stroke="#118811" stroke-width="0.6" />
<line x1="66.90" y1="223.31" x2="81.30" y2="223.31" stroke="#808080" stroke-width="1.1" />
<circle cx="69.10" cy="211.39" r="1.35" fill="#118811"/>
<circle cx="74.10" cy="211.39" r="1.35" fill="#118811"/>
<circle cx="78.80" cy="211.39" r="1.35" fill="#118811"/>
<circle cx="68.80" cy="223.31" r="1.35" fill="#118811"/>
<circle cx="71.10" cy="222.54" r="1.35" fill="#118811"/>
<circle cx="74.10" cy="224.84" r="1.35" fill="#118811"/>
<circle cx="72.10" cy="223.88" r="1.35" fill="#118811"/>
<circle cx="76.60" cy="224.27" r="1.35" fill="#118811"/>
<circle cx="78.80" cy="226.96" r="1.35" fill="#118811"/>
<line x1="91.00" y1="214.27" x2="91.00" y2="238.87" stroke="#1515ee" stroke-width="0.6" />
<line x1="86.50" y1="214.27" x2="95.50" y2="214.27" stroke="#1515ee" stroke-width="0.6" />
<line x1="86.50" y1="238.87" x2="95.50" y2="238.87" stroke="#1515ee" stroke-width="0.6" />
<line x1="83.80" y1="230.42" x2="98.20" y2="230.42" stroke="#808080" stroke-width="1.1" />
<path d="M89.40,213.17 L92.60,213.17 L91.00,215.87 Z" fill="#1515ee"/>
<path d="M89.40,222.21 L92.60,222.21 L91.00,224.91 Z" fill="#1515ee"/>
<path d="M89.40,227.01 L92.60,227.01 L91.00,229.71 Z" fill="#1515ee"/>
<path d="M84.70,229.51 L87.90,229.51 L86.30,232.21 Z" fill="#1515ee"/>
<path d="M89.40,231.05 L92.60,231.05 L91.00,233.75 Z" fill="#1515ee"/>
<path d="M94.40,233.35 L97.60,233.35 L96.00,236.05 Z" fill="#1515ee"/>
<path d="M89.40,237.77 L92.60,237.77 L91.00,240.47 Z" fill="#1515ee"/>
<path d="M55.90,164.50 L55.90,161.60 L94.70,161.60 L94.70,164.50" fill="none" stroke="#707070" stroke-width="0.75"/>
<text x="75.90" y="163.20" font-size="9.0" text-anchor="middle" font-weight="bold" fill="#222" >***</text>
<path d="M55.90,172.40 L55.90,169.50 L74.80,169.50 L74.80,172.40" fill="none" stroke="#707070" stroke-width="0.75"/>
<text x="65.60" y="171.10" font-size="9.0" text-anchor="middle" font-weight="bold" fill="#222" >*</text>
<line x1="144.80" y1="164.40" x2="144.80" y2="260.40" stroke="#555" stroke-width="0.9" />
<line x1="144.80" y1="260.40" x2="209.30" y2="260.40" stroke="#555" stroke-width="0.9" />
<line x1="143.30" y1="260.40" x2="144.80" y2="260.40" stroke="#333" stroke-width="0.8" />
<text x="143.60" y="262.35" font-size="7.2" text-anchor="end" font-weight="bold" fill="#111" stroke="#111" stroke-width="0.14" >0</text>
<line x1="143.30" y1="228.40" x2="144.80" y2="228.40" stroke="#333" stroke-width="0.8" />
<text x="143.60" y="230.35" font-size="7.2" text-anchor="end" font-weight="bold" fill="#111" stroke="#111" stroke-width="0.14" >1</text>
<line x1="143.30" y1="196.40" x2="144.80" y2="196.40" stroke="#333" stroke-width="0.8" />
<text x="143.60" y="198.35" font-size="7.2" text-anchor="end" font-weight="bold" fill="#111" stroke="#111" stroke-width="0.14" >2</text>
<line x1="143.30" y1="164.40" x2="144.80" y2="164.40" stroke="#333" stroke-width="0.8" />
<text x="143.60" y="166.35" font-size="7.2" text-anchor="end" font-weight="bold" fill="#111" stroke="#111" stroke-width="0.14" >3</text>
<text x="176.40" y="268.60" font-size="7.2" text-anchor="middle" font-weight="normal" fill="#222" stroke="#222" stroke-width="0.14" >HT-29</text>
<text x="0" y="0" font-size="6.15" text-anchor="middle" font-weight="normal" fill="#333" stroke="#333" stroke-width="0.14" transform="translate(129.00,207.30) rotate(-90)" dominant-baseline="central">Mitotic Index (%)</text>
<line x1="159.10" y1="174.96" x2="159.10" y2="218.80" stroke="#ff0000" stroke-width="0.6" />
<line x1="154.60" y1="174.96" x2="163.60" y2="174.96" stroke="#ff0000" stroke-width="0.6" />
<line x1="154.60" y1="218.80" x2="163.60" y2="218.80" stroke="#ff0000" stroke-width="0.6" />
<line x1="151.90" y1="191.60" x2="166.30" y2="191.60" stroke="#808080" stroke-width="1.1" />
<circle cx="159.10" cy="174.96" r="1.35" fill="#ff0000"/>
<circle cx="159.10" cy="180.72" r="1.35" fill="#ff0000"/>
<circle cx="158.10" cy="189.04" r="1.35" fill="#ff0000"/>
<circle cx="160.40" cy="188.72" r="1.35" fill="#ff0000"/>
<circle cx="159.10" cy="193.84" r="1.35" fill="#ff0000"/>
<circle cx="158.50" cy="209.84" r="1.35" fill="#ff0000"/>
<circle cx="160.40" cy="211.44" r="1.35" fill="#ff0000"/>
<circle cx="159.10" cy="218.80" r="1.35" fill="#ff0000"/>
<line x1="176.80" y1="200.56" x2="176.80" y2="233.52" stroke="#118811" stroke-width="0.6" />
<line x1="172.30" y1="200.56" x2="181.30" y2="200.56" stroke="#118811" stroke-width="0.6" />
<line x1="172.30" y1="233.52" x2="181.30" y2="233.52" stroke="#118811" stroke-width="0.6" />
<line x1="169.60" y1="227.12" x2="184.00" y2="227.12" stroke="#808080" stroke-width="1.1" />
<circle cx="176.80" cy="200.56" r="1.35" fill="#118811"/>
<circle cx="179.80" cy="214.96" r="1.35" fill="#118811"/>
<circle cx="174.50" cy="217.84" r="1.35" fill="#118811"/>
<circle cx="176.80" cy="225.20" r="1.35" fill="#118811"/>
<circle cx="172.00" cy="229.36" r="1.35" fill="#118811"/>
<circle cx="176.80" cy="230.00" r="1.35" fill="#118811"/>
<circle cx="181.50" cy="230.64" r="1.35" fill="#118811"/>
<circle cx="176.80" cy="233.52" r="1.35" fill="#118811"/>
<line x1="194.60" y1="232.88" x2="194.60" y2="252.72" stroke="#1515ee" stroke-width="0.6" />
<line x1="190.10" y1="232.88" x2="199.10" y2="232.88" stroke="#1515ee" stroke-width="0.6" />
<line x1="190.10" y1="252.72" x2="199.10" y2="252.72" stroke="#1515ee" stroke-width="0.6" />
<line x1="187.40" y1="245.68" x2="201.80" y2="245.68" stroke="#808080" stroke-width="1.1" />
<path d="M193.00,231.78 L196.20,231.78 L194.60,234.48 Z" fill="#1515ee"/>
<path d="M193.00,240.10 L196.20,240.10 L194.60,242.80 Z" fill="#1515ee"/>
<path d="M193.00,243.94 L196.20,243.94 L194.60,246.64 Z" fill="#1515ee"/>
<path d="M188.70,248.74 L191.90,248.74 L190.30,251.44 Z" fill="#1515ee"/>
<path d="M196.00,248.74 L199.20,248.74 L197.60,251.44 Z" fill="#1515ee"/>
<path d="M193.00,251.30 L196.20,251.30 L194.60,254.00 Z" fill="#1515ee"/>
<path d="M193.00,251.62 L196.20,251.62 L194.60,254.32 Z" fill="#1515ee"/>
<path d="M158.80,164.70 L158.80,161.80 L197.60,161.80 L197.60,164.70" fill="none" stroke="#707070" stroke-width="0.75"/>
<text x="177.90" y="163.40" font-size="9.0" text-anchor="middle" font-weight="bold" fill="#222" >***</text>
<line x1="247.00" y1="163.60" x2="247.00" y2="260.40" stroke="#555" stroke-width="0.9" />
<line x1="247.00" y1="260.40" x2="311.50" y2="260.40" stroke="#555" stroke-width="0.9" />
<line x1="245.50" y1="260.40" x2="247.00" y2="260.40" stroke="#333" stroke-width="0.8" />
<text x="245.80" y="262.35" font-size="7.2" text-anchor="end" font-weight="bold" fill="#111" stroke="#111" stroke-width="0.14" >0</text>
<line x1="245.50" y1="241.04" x2="247.00" y2="241.04" stroke="#333" stroke-width="0.8" />
<text x="245.80" y="242.99" font-size="7.2" text-anchor="end" font-weight="bold" fill="#111" stroke="#111" stroke-width="0.14" >1</text>
<line x1="245.50" y1="221.68" x2="247.00" y2="221.68" stroke="#333" stroke-width="0.8" />
<text x="245.80" y="223.63" font-size="7.2" text-anchor="end" font-weight="bold" fill="#111" stroke="#111" stroke-width="0.14" >2</text>
<line x1="245.50" y1="202.32" x2="247.00" y2="202.32" stroke="#333" stroke-width="0.8" />
<text x="245.80" y="204.27" font-size="7.2" text-anchor="end" font-weight="bold" fill="#111" stroke="#111" stroke-width="0.14" >3</text>
<line x1="245.50" y1="182.96" x2="247.00" y2="182.96" stroke="#333" stroke-width="0.8" />
<text x="245.80" y="184.91" font-size="7.2" text-anchor="end" font-weight="bold" fill="#111" stroke="#111" stroke-width="0.14" >4</text>
<line x1="245.50" y1="163.60" x2="247.00" y2="163.60" stroke="#333" stroke-width="0.8" />
<text x="245.80" y="165.55" font-size="7.2" text-anchor="end" font-weight="bold" fill="#111" stroke="#111" stroke-width="0.14" >5</text>
<text x="279.20" y="268.60" font-size="7.2" text-anchor="middle" font-weight="normal" fill="#222" stroke="#222" stroke-width="0.14" >HUH7</text>
<text x="0" y="0" font-size="6.15" text-anchor="middle" font-weight="normal" fill="#333" stroke="#333" stroke-width="0.14" transform="translate(230.10,207.30) rotate(-90)" dominant-baseline="central">Mitotic Index (%)</text>
<line x1="261.80" y1="184.90" x2="261.80" y2="217.81" stroke="#ff0000" stroke-width="0.6" />
<line x1="257.30" y1="184.90" x2="266.30" y2="184.90" stroke="#ff0000" stroke-width="0.6" />
<line x1="257.30" y1="217.81" x2="266.30" y2="217.81" stroke="#ff0000" stroke-width="0.6" />
<line x1="254.60" y1="198.45" x2="269.00" y2="198.45" stroke="#808080" stroke-width="1.1" />
<circle cx="261.80" cy="184.90" r="1.35" fill="#ff0000"/>
<circle cx="261.80" cy="189.35" r="1.35" fill="#ff0000"/>
<circle cx="261.80" cy="193.41" r="1.35" fill="#ff0000"/>
<circle cx="261.80" cy="197.48" r="1.35" fill="#ff0000"/>
<circle cx="261.80" cy="200.77" r="1.35" fill="#ff0000"/>
<circle cx="261.80" cy="208.52" r="1.35" fill="#ff0000"/>
<circle cx="261.80" cy="214.52" r="1.35" fill="#ff0000"/>
<circle cx="261.80" cy="217.81" r="1.35" fill="#ff0000"/>
<line x1="279.80" y1="221.10" x2="279.80" y2="234.26" stroke="#118811" stroke-width="0.6" />
<line x1="275.30" y1="221.10" x2="284.30" y2="221.10" stroke="#118811" stroke-width="0.6" />
<line x1="275.30" y1="234.26" x2="284.30" y2="234.26" stroke="#118811" stroke-width="0.6" />
<line x1="272.60" y1="229.42" x2="287.00" y2="229.42" stroke="#808080" stroke-width="1.1" />
<circle cx="279.80" cy="221.10" r="1.35" fill="#118811"/>
<circle cx="279.80" cy="226.13" r="1.35" fill="#118811"/>
<circle cx="275.30" cy="229.42" r="1.35" fill="#118811"/>
<circle cx="278.30" cy="229.81" r="1.35" fill="#118811"/>
<circle cx="284.30" cy="229.42" r="1.35" fill="#118811"/>
<circle cx="279.80" cy="230.97" r="1.35" fill="#118811"/>
<circle cx="279.80" cy="234.26" r="1.35" fill="#118811"/>
<line x1="297.10" y1="229.42" x2="297.10" y2="251.69" stroke="#1515ee" stroke-width="0.6" />
<line x1="292.60" y1="229.42" x2="301.60" y2="229.42" stroke="#1515ee" stroke-width="0.6" />
<line x1="292.60" y1="251.69" x2="301.60" y2="251.69" stroke="#1515ee" stroke-width="0.6" />
<line x1="289.90" y1="245.30" x2="304.30" y2="245.30" stroke="#808080" stroke-width="1.1" />
<path d="M288.50,230.26 L291.70,230.26 L290.10,232.96 Z" fill="#1515ee"/>
<path d="M295.50,228.32 L298.70,228.32 L297.10,231.02 Z" fill="#1515ee"/>
<path d="M300.50,230.26 L303.70,230.26 L302.10,232.96 Z" fill="#1515ee"/>
<path d="M295.50,243.23 L298.70,243.23 L297.10,245.93 Z" fill="#1515ee"/>
<path d="M290.50,247.68 L293.70,247.68 L292.10,250.38 Z" fill="#1515ee"/>
<path d="M295.50,248.65 L298.70,248.65 L297.10,251.35 Z" fill="#1515ee"/>
<path d="M300.50,250.20 L303.70,250.20 L302.10,252.90 Z" fill="#1515ee"/>
<path d="M261.50,164.50 L261.50,161.60 L299.50,161.60 L299.50,164.50" fill="none" stroke="#707070" stroke-width="0.75"/>
<text x="280.50" y="163.20" font-size="9.0" text-anchor="middle" font-weight="bold" fill="#222" >***</text>
<path d="M261.50,172.80 L261.50,169.90 L280.00,169.90 L280.00,172.80" fill="none" stroke="#707070" stroke-width="0.75"/>
<text x="270.70" y="171.50" font-size="9.0" text-anchor="middle" font-weight="bold" fill="#222" >*</text>
<line x1="356.90" y1="186.40" x2="356.90" y2="262.60" stroke="#808080" stroke-width="1.2" />
<line x1="356.40" y1="262.60" x2="433.40" y2="262.60" stroke="#333" stroke-width="1.0" />
<line x1="355.20" y1="262.60" x2="356.40" y2="262.60" stroke="#444" stroke-width="0.9" />
<text x="354.70" y="264.70" font-size="8.2" text-anchor="end" font-weight="bold" fill="#111" >0</text>
<line x1="355.20" y1="247.36" x2="356.40" y2="247.36" stroke="#444" stroke-width="0.9" />
<text x="354.70" y="249.46" font-size="8.2" text-anchor="end" font-weight="bold" fill="#111" >1</text>
<line x1="355.20" y1="232.12" x2="356.40" y2="232.12" stroke="#444" stroke-width="0.9" />
<text x="354.70" y="234.22" font-size="8.2" text-anchor="end" font-weight="bold" fill="#111" >2</text>
<line x1="355.20" y1="216.88" x2="356.40" y2="216.88" stroke="#444" stroke-width="0.9" />
<text x="354.70" y="218.98" font-size="8.2" text-anchor="end" font-weight="bold" fill="#111" >3</text>
<line x1="355.20" y1="201.64" x2="356.40" y2="201.64" stroke="#444" stroke-width="0.9" />
<text x="354.70" y="203.74" font-size="8.2" text-anchor="end" font-weight="bold" fill="#111" >4</text>
<line x1="355.20" y1="186.40" x2="356.40" y2="186.40" stroke="#444" stroke-width="0.9" />
<text x="354.70" y="188.50" font-size="8.2" text-anchor="end" font-weight="bold" fill="#111" >5</text>
<rect x="363.40" y="204.84" width="13.80" height="57.76" fill="#ff0000" stroke="#222" stroke-width="0.8" />
<line x1="370.30" y1="196.61" x2="370.30" y2="213.22" stroke="#222" stroke-width="0.8" />
<line x1="367.10" y1="196.61" x2="373.50" y2="196.61" stroke="#222" stroke-width="0.8" />
<line x1="367.10" y1="213.22" x2="373.50" y2="213.22" stroke="#222" stroke-width="0.8" />
<line x1="370.30" y1="262.60" x2="370.30" y2="264.20" stroke="#222" stroke-width="0.8" />
<text x="370.30" y="194.31" font-size="6.6" text-anchor="middle" font-weight="normal" fill="#333" stroke="#333" stroke-width="0.14" >3.79</text>
<rect x="388.20" y="217.03" width="13.60" height="45.57" fill="#0c800c" stroke="#222" stroke-width="0.8" />
<line x1="395.00" y1="211.55" x2="395.00" y2="222.06" stroke="#222" stroke-width="0.8" />
<line x1="391.80" y1="211.55" x2="398.20" y2="211.55" stroke="#222" stroke-width="0.8" />
<line x1="391.80" y1="222.06" x2="398.20" y2="222.06" stroke="#222" stroke-width="0.8" />
<line x1="395.00" y1="262.60" x2="395.00" y2="264.20" stroke="#222" stroke-width="0.8" />
<text x="395.00" y="209.25" font-size="6.6" text-anchor="middle" font-weight="normal" fill="#333" stroke="#333" stroke-width="0.14" >2.99</text>
<rect x="412.70" y="222.52" width="13.70" height="40.08" fill="#0000ff" stroke="#222" stroke-width="0.8" />
<line x1="419.55" y1="217.34" x2="419.55" y2="227.40" stroke="#222" stroke-width="0.8" />
<line x1="416.35" y1="217.34" x2="422.75" y2="217.34" stroke="#222" stroke-width="0.8" />
<line x1="416.35" y1="227.40" x2="422.75" y2="227.40" stroke="#222" stroke-width="0.8" />
<line x1="419.55" y1="262.60" x2="419.55" y2="264.20" stroke="#222" stroke-width="0.8" />
<text x="419.55" y="215.04" font-size="6.6" text-anchor="middle" font-weight="normal" fill="#333" stroke="#333" stroke-width="0.14" >2.63</text>
<text x="393.60" y="271.80" font-size="7.4" text-anchor="middle" font-weight="normal" fill="#222" stroke="#222" stroke-width="0.14" >Caco2</text>
<text x="0" y="0" font-size="6.3" text-anchor="middle" font-weight="normal" fill="#333" stroke="#333" stroke-width="0.14" transform="translate(342.90,227.00) rotate(-90)" dominant-baseline="central">Mitotic Index (%)</text>
<path d="M369.50,171.00 L369.50,168.10 L419.50,168.10 L419.50,171.00" fill="none" stroke="#707070" stroke-width="0.75"/>
<text x="393.60" y="169.70" font-size="9.0" text-anchor="middle" font-weight="bold" fill="#222" >*</text>
<line x1="467.90" y1="187.00" x2="467.90" y2="262.10" stroke="#808080" stroke-width="1.2" />
<line x1="467.40" y1="262.10" x2="544.40" y2="262.10" stroke="#333" stroke-width="1.0" />
<line x1="466.20" y1="262.10" x2="467.40" y2="262.10" stroke="#444" stroke-width="0.9" />
<text x="465.70" y="264.20" font-size="8.2" text-anchor="end" font-weight="bold" fill="#111" >0</text>
<line x1="466.20" y1="243.33" x2="467.40" y2="243.33" stroke="#444" stroke-width="0.9" />
<text x="465.70" y="245.43" font-size="8.2" text-anchor="end" font-weight="bold" fill="#111" >1</text>
<line x1="466.20" y1="224.55" x2="467.40" y2="224.55" stroke="#444" stroke-width="0.9" />
<text x="465.70" y="226.65" font-size="8.2" text-anchor="end" font-weight="bold" fill="#111" >2</text>
<line x1="466.20" y1="205.78" x2="467.40" y2="205.78" stroke="#444" stroke-width="0.9" />
<text x="465.70" y="207.88" font-size="8.2" text-anchor="end" font-weight="bold" fill="#111" >3</text>
<line x1="466.20" y1="187.00" x2="467.40" y2="187.00" stroke="#444" stroke-width="0.9" />
<text x="465.70" y="189.10" font-size="8.2" text-anchor="end" font-weight="bold" fill="#111" >4</text>
<rect x="475.40" y="197.70" width="13.30" height="64.40" fill="#ff0000" stroke="#222" stroke-width="0.8" />
<line x1="482.05" y1="190.75" x2="482.05" y2="204.65" stroke="#222" stroke-width="0.8" />
<line x1="478.85" y1="190.75" x2="485.25" y2="190.75" stroke="#222" stroke-width="0.8" />
<line x1="478.85" y1="204.65" x2="485.25" y2="204.65" stroke="#222" stroke-width="0.8" />
<line x1="482.05" y1="262.10" x2="482.05" y2="263.70" stroke="#222" stroke-width="0.8" />
<text x="482.05" y="188.45" font-size="6.6" text-anchor="middle" font-weight="normal" fill="#333" stroke="#333" stroke-width="0.14" >3.43</text>
<rect x="499.50" y="216.10" width="13.60" height="46.00" fill="#0c800c" stroke="#222" stroke-width="0.8" />
<line x1="506.30" y1="213.47" x2="506.30" y2="218.73" stroke="#222" stroke-width="0.8" />
<line x1="503.10" y1="213.47" x2="509.50" y2="213.47" stroke="#222" stroke-width="0.8" />
<line x1="503.10" y1="218.73" x2="509.50" y2="218.73" stroke="#222" stroke-width="0.8" />
<line x1="506.30" y1="262.10" x2="506.30" y2="263.70" stroke="#222" stroke-width="0.8" />
<text x="506.30" y="211.17" font-size="6.6" text-anchor="middle" font-weight="normal" fill="#333" stroke="#333" stroke-width="0.14" >2.45</text>
<rect x="524.20" y="223.99" width="13.40" height="38.11" fill="#0000ff" stroke="#222" stroke-width="0.8" />
<line x1="530.90" y1="221.55" x2="530.90" y2="226.24" stroke="#222" stroke-width="0.8" />
<line x1="527.70" y1="221.55" x2="534.10" y2="221.55" stroke="#222" stroke-width="0.8" />
<line x1="527.70" y1="226.24" x2="534.10" y2="226.24" stroke="#222" stroke-width="0.8" />
<line x1="530.90" y1="262.10" x2="530.90" y2="263.70" stroke="#222" stroke-width="0.8" />
<text x="530.90" y="219.25" font-size="6.6" text-anchor="middle" font-weight="normal" fill="#333" stroke="#333" stroke-width="0.14" >2.03</text>
<text x="506.00" y="271.00" font-size="7.4" text-anchor="middle" font-weight="normal" fill="#222" stroke="#222" stroke-width="0.14" >HT-29</text>
<text x="0" y="0" font-size="6.3" text-anchor="middle" font-weight="normal" fill="#333" stroke="#333" stroke-width="0.14" transform="translate(454.00,227.00) rotate(-90)" dominant-baseline="central">Mitotic Index (%)</text>
<path d="M482.00,171.20 L482.00,168.30 L532.00,168.30 L532.00,171.20" fill="none" stroke="#707070" stroke-width="0.75"/>
<text x="507.60" y="169.90" font-size="9.0" text-anchor="middle" font-weight="bold" fill="#222" >**</text>
<path d="M482.00,181.20 L482.00,178.30 L505.60,178.30 L505.60,181.20" fill="none" stroke="#707070" stroke-width="0.75"/>
<text x="494.00" y="179.90" font-size="9.0" text-anchor="middle" font-weight="bold" fill="#222" >**</text>
<line x1="356.20" y1="309.00" x2="356.20" y2="385.20" stroke="#808080" stroke-width="1.2" />
<line x1="355.70" y1="385.20" x2="432.70" y2="385.20" stroke="#333" stroke-width="1.0" />
<line x1="354.50" y1="385.20" x2="355.70" y2="385.20" stroke="#444" stroke-width="0.9" />
<text x="354.00" y="387.30" font-size="8.2" text-anchor="end" font-weight="bold" fill="#111" >0</text>
<line x1="354.50" y1="366.15" x2="355.70" y2="366.15" stroke="#444" stroke-width="0.9" />
<text x="354.00" y="368.25" font-size="8.2" text-anchor="end" font-weight="bold" fill="#111" >2</text>
<line x1="354.50" y1="347.10" x2="355.70" y2="347.10" stroke="#444" stroke-width="0.9" />
<text x="354.00" y="349.20" font-size="8.2" text-anchor="end" font-weight="bold" fill="#111" >4</text>
<line x1="354.50" y1="328.05" x2="355.70" y2="328.05" stroke="#444" stroke-width="0.9" />
<text x="354.00" y="330.15" font-size="8.2" text-anchor="end" font-weight="bold" fill="#111" >6</text>
<line x1="354.50" y1="309.00" x2="355.70" y2="309.00" stroke="#444" stroke-width="0.9" />
<text x="354.00" y="311.10" font-size="8.2" text-anchor="end" font-weight="bold" fill="#111" >8</text>
<rect x="364.00" y="334.62" width="13.10" height="50.58" fill="#ff0000" stroke="#222" stroke-width="0.8" />
<line x1="370.55" y1="327.67" x2="370.55" y2="341.58" stroke="#222" stroke-width="0.8" />
<line x1="367.35" y1="327.67" x2="373.75" y2="327.67" stroke="#222" stroke-width="0.8" />
<line x1="367.35" y1="341.58" x2="373.75" y2="341.58" stroke="#222" stroke-width="0.8" />
<line x1="370.55" y1="385.20" x2="370.55" y2="386.80" stroke="#222" stroke-width="0.8" />
<text x="370.55" y="325.37" font-size="6.6" text-anchor="middle" font-weight="normal" fill="#333" stroke="#333" stroke-width="0.14" >5.31</text>
<rect x="388.10" y="341.67" width="13.40" height="43.53" fill="#0c800c" stroke="#222" stroke-width="0.8" />
<line x1="394.80" y1="335.67" x2="394.80" y2="347.39" stroke="#222" stroke-width="0.8" />
<line x1="391.60" y1="335.67" x2="398.00" y2="335.67" stroke="#222" stroke-width="0.8" />
<line x1="391.60" y1="347.39" x2="398.00" y2="347.39" stroke="#222" stroke-width="0.8" />
<line x1="394.80" y1="385.20" x2="394.80" y2="386.80" stroke="#222" stroke-width="0.8" />
<text x="394.80" y="333.37" font-size="6.6" text-anchor="middle" font-weight="normal" fill="#333" stroke="#333" stroke-width="0.14" >4.57</text>
<rect x="412.60" y="352.43" width="13.20" height="32.77" fill="#0000ff" stroke="#222" stroke-width="0.8" />
<line x1="419.20" y1="346.91" x2="419.20" y2="357.77" stroke="#222" stroke-width="0.8" />
<line x1="416.00" y1="346.91" x2="422.40" y2="346.91" stroke="#222" stroke-width="0.8" />
<line x1="416.00" y1="357.77" x2="422.40" y2="357.77" stroke="#222" stroke-width="0.8" />
<line x1="419.20" y1="385.20" x2="419.20" y2="386.80" stroke="#222" stroke-width="0.8" />
<text x="419.20" y="344.61" font-size="6.6" text-anchor="middle" font-weight="normal" fill="#333" stroke="#333" stroke-width="0.14" >3.44</text>
<text x="394.00" y="394.40" font-size="7.4" text-anchor="middle" font-weight="normal" fill="#222" stroke="#222" stroke-width="0.14" >Caco2</text>
<text x="0" y="0" font-size="6.3" text-anchor="middle" font-weight="normal" fill="#333" stroke="#333" stroke-width="0.14" transform="translate(343.60,339.70) rotate(-90)" dominant-baseline="central">Colony Size (number of cells)</text>
<path d="M369.50,292.20 L369.50,289.30 L419.60,289.30 L419.60,292.20" fill="none" stroke="#707070" stroke-width="0.75"/>
<text x="394.50" y="290.90" font-size="9.0" text-anchor="middle" font-weight="bold" fill="#222" >*</text>
<line x1="467.90" y1="308.00" x2="467.90" y2="385.00" stroke="#808080" stroke-width="1.2" />
<line x1="467.40" y1="385.00" x2="544.40" y2="385.00" stroke="#333" stroke-width="1.0" />
<line x1="466.20" y1="385.00" x2="467.40" y2="385.00" stroke="#444" stroke-width="0.9" />
<text x="465.70" y="387.10" font-size="8.2" text-anchor="end" font-weight="bold" fill="#111" >0</text>
<line x1="466.20" y1="369.60" x2="467.40" y2="369.60" stroke="#444" stroke-width="0.9" />
<text x="465.70" y="371.70" font-size="8.2" text-anchor="end" font-weight="bold" fill="#111" >2</text>
<line x1="466.20" y1="354.20" x2="467.40" y2="354.20" stroke="#444" stroke-width="0.9" />
<text x="465.70" y="356.30" font-size="8.2" text-anchor="end" font-weight="bold" fill="#111" >4</text>
<line x1="466.20" y1="338.80" x2="467.40" y2="338.80" stroke="#444" stroke-width="0.9" />
<text x="465.70" y="340.90" font-size="8.2" text-anchor="end" font-weight="bold" fill="#111" >6</text>
<line x1="466.20" y1="323.40" x2="467.40" y2="323.40" stroke="#444" stroke-width="0.9" />
<text x="465.70" y="325.50" font-size="8.2" text-anchor="end" font-weight="bold" fill="#111" >8</text>
<line x1="466.20" y1="308.00" x2="467.40" y2="308.00" stroke="#444" stroke-width="0.9" />
<text x="465.70" y="310.10" font-size="8.2" text-anchor="end" font-weight="bold" fill="#111" >10</text>
<rect x="475.60" y="312.16" width="13.00" height="72.84" fill="#ff0000" stroke="#222" stroke-width="0.8" />
<line x1="482.10" y1="310.62" x2="482.10" y2="313.70" stroke="#222" stroke-width="0.8" />
<line x1="478.90" y1="310.62" x2="485.30" y2="310.62" stroke="#222" stroke-width="0.8" />
<line x1="478.90" y1="313.70" x2="485.30" y2="313.70" stroke="#222" stroke-width="0.8" />
<line x1="482.10" y1="385.00" x2="482.10" y2="386.60" stroke="#222" stroke-width="0.8" />
<text x="482.10" y="308.32" font-size="6.6" text-anchor="middle" font-weight="normal" fill="#333" stroke="#333" stroke-width="0.14" >9.46</text>
<rect x="499.40" y="320.70" width="13.20" height="64.30" fill="#0c800c" stroke="#222" stroke-width="0.8" />
<line x1="506.00" y1="317.09" x2="506.00" y2="324.32" stroke="#222" stroke-width="0.8" />
<line x1="502.80" y1="317.09" x2="509.20" y2="317.09" stroke="#222" stroke-width="0.8" />
<line x1="502.80" y1="324.32" x2="509.20" y2="324.32" stroke="#222" stroke-width="0.8" />
<line x1="506.00" y1="385.00" x2="506.00" y2="386.60" stroke="#222" stroke-width="0.8" />
<text x="506.00" y="314.79" font-size="6.6" text-anchor="middle" font-weight="normal" fill="#333" stroke="#333" stroke-width="0.14" >8.35</text>
<rect x="524.00" y="329.10" width="13.40" height="55.90" fill="#0000ff" stroke="#222" stroke-width="0.8" />
<line x1="530.70" y1="324.02" x2="530.70" y2="334.18" stroke="#222" stroke-width="0.8" />
<line x1="527.50" y1="324.02" x2="533.90" y2="324.02" stroke="#222" stroke-width="0.8" />
<line x1="527.50" y1="334.18" x2="533.90" y2="334.18" stroke="#222" stroke-width="0.8" />
<line x1="530.70" y1="385.00" x2="530.70" y2="386.60" stroke="#222" stroke-width="0.8" />
<text x="530.70" y="321.72" font-size="6.6" text-anchor="middle" font-weight="normal" fill="#333" stroke="#333" stroke-width="0.14" >7.26</text>
<text x="507.00" y="394.40" font-size="7.4" text-anchor="middle" font-weight="normal" fill="#222" stroke="#222" stroke-width="0.14" >HT-29</text>
<text x="0" y="0" font-size="6.3" text-anchor="middle" font-weight="normal" fill="#333" stroke="#333" stroke-width="0.14" transform="translate(451.40,339.70) rotate(-90)" dominant-baseline="central">Colony Size (number of cells)</text>
<path d="M482.00,292.20 L482.00,289.30 L532.00,289.30 L532.00,292.20" fill="none" stroke="#707070" stroke-width="0.75"/>
<text x="507.00" y="290.90" font-size="9.0" text-anchor="middle" font-weight="bold" fill="#222" >**</text>
<path d="M482.00,302.20 L482.00,299.30 L505.60,299.30 L505.60,302.20" fill="none" stroke="#707070" stroke-width="0.75"/>
<text x="494.00" y="300.90" font-size="9.0" text-anchor="middle" font-weight="bold" fill="#222" >*</text>
<path d="M509.00,302.20 L509.00,299.30 L532.00,299.30 L532.00,302.20" fill="none" stroke="#707070" stroke-width="0.75"/>
<text x="520.00" y="300.90" font-size="9.0" text-anchor="middle" font-weight="bold" fill="#222" >*</text>
<line x1="25.9" y1="293.3" x2="25.9" y2="367.2" stroke="#444" stroke-width="0.8" stroke-dasharray="1.2,0.9"/>
<line x1="25.90" y1="367.90" x2="136.00" y2="367.90" stroke="#666" stroke-width="1.2" />
<line x1="24.40" y1="367.20" x2="25.90" y2="367.20" stroke="#333" stroke-width="0.7" />
<text x="25.00" y="369.30" font-size="5.9" text-anchor="end" font-weight="bold" fill="#222" stroke="#222" stroke-width="0.12" >0</text>
<line x1="24.40" y1="333.75" x2="25.90" y2="333.75" stroke="#333" stroke-width="0.7" />
<text x="25.00" y="335.85" font-size="5.9" text-anchor="end" font-weight="bold" fill="#222" stroke="#222" stroke-width="0.12" >50</text>
<line x1="24.40" y1="300.30" x2="25.90" y2="300.30" stroke="#333" stroke-width="0.7" />
<text x="25.00" y="302.40" font-size="5.9" text-anchor="end" font-weight="bold" fill="#222" stroke="#222" stroke-width="0.12" >100</text>
<line x1="25.90" y1="367.20" x2="25.90" y2="368.70" stroke="#333" stroke-width="0.7" />
<text x="25.90" y="374.40" font-size="5.7" text-anchor="middle" font-weight="bold" fill="#222" stroke="#222" stroke-width="0.12" >0</text>
<line x1="43.75" y1="367.20" x2="43.75" y2="368.70" stroke="#333" stroke-width="0.7" />
<text x="43.75" y="374.40" font-size="5.7" text-anchor="middle" font-weight="bold" fill="#222" stroke="#222" stroke-width="0.12" >96</text>
<line x1="61.60" y1="367.20" x2="61.60" y2="368.70" stroke="#333" stroke-width="0.7" />
<text x="61.60" y="374.40" font-size="5.7" text-anchor="middle" font-weight="bold" fill="#222" stroke="#222" stroke-width="0.12" >192</text>
<line x1="79.45" y1="367.20" x2="79.45" y2="368.70" stroke="#333" stroke-width="0.7" />
<text x="79.45" y="374.40" font-size="5.7" text-anchor="middle" font-weight="bold" fill="#222" stroke="#222" stroke-width="0.12" >288</text>
<line x1="97.30" y1="367.20" x2="97.30" y2="368.70" stroke="#333" stroke-width="0.7" />
<text x="97.30" y="374.40" font-size="5.7" text-anchor="middle" font-weight="bold" fill="#222" stroke="#222" stroke-width="0.12" >384</text>
<line x1="115.15" y1="367.20" x2="115.15" y2="368.70" stroke="#333" stroke-width="0.7" />
<text x="115.15" y="374.40" font-size="5.7" text-anchor="middle" font-weight="bold" fill="#222" stroke="#222" stroke-width="0.12" >480</text>
<line x1="133.00" y1="367.20" x2="133.00" y2="368.70" stroke="#333" stroke-width="0.7" />
<text x="133.00" y="374.40" font-size="5.7" text-anchor="middle" font-weight="bold" fill="#222" stroke="#222" stroke-width="0.12" >576</text>
<text x="81.90" y="381.30" font-size="6.0" text-anchor="middle" font-weight="normal" fill="#333" stroke="#333" stroke-width="0.14" >(h)</text>
<text x="89.50" y="289.80" font-size="7.3" text-anchor="middle" font-weight="normal" fill="#222" stroke="#222" stroke-width="0.14" >Caco2</text>
<text x="0" y="0" font-size="6.2" text-anchor="middle" font-weight="normal" fill="#333" stroke="#333" stroke-width="0.14" transform="translate(12.50,327.90) rotate(-90)" dominant-baseline="central">Confluence (%)</text>
<path d="M25.90,367.20 L30.36,366.90 L34.83,366.48 L39.29,365.90 L43.75,365.08 L48.21,363.95 L52.67,362.41 L57.14,360.34 L61.60,357.63 L66.06,354.17 L70.53,349.92 L74.99,344.92 L79.45,339.35 L83.91,333.48 L88.38,327.67 L92.84,322.26 L97.30,317.50 L101.76,313.51 L106.22,310.31 L110.69,307.83 L115.15,305.95 L119.61,304.56 L124.07,303.55 L128.54,302.81 L130.77,302.53" fill="none" stroke="#4a4aff" stroke-width="0.6"/>
<line x1="48.21" y1="362.50" x2="48.21" y2="365.40" stroke="#888" stroke-width="0.5" />
<line x1="47.01" y1="362.50" x2="49.41" y2="362.50" stroke="#888" stroke-width="0.5" />
<line x1="47.01" y1="365.40" x2="49.41" y2="365.40" stroke="#888" stroke-width="0.5" />
<line x1="52.67" y1="360.22" x2="52.67" y2="364.60" stroke="#888" stroke-width="0.5" />
<line x1="51.47" y1="360.22" x2="53.88" y2="360.22" stroke="#888" stroke-width="0.5" />
<line x1="51.47" y1="364.60" x2="53.88" y2="364.60" stroke="#888" stroke-width="0.5" />
<line x1="57.14" y1="357.19" x2="57.14" y2="363.50" stroke="#888" stroke-width="0.5" />
<line x1="55.94" y1="357.19" x2="58.34" y2="357.19" stroke="#888" stroke-width="0.5" />
<line x1="55.94" y1="363.50" x2="58.34" y2="363.50" stroke="#888" stroke-width="0.5" />
<line x1="61.60" y1="353.30" x2="61.60" y2="361.96" stroke="#888" stroke-width="0.5" />
<line x1="60.40" y1="353.30" x2="62.80" y2="353.30" stroke="#888" stroke-width="0.5" />
<line x1="60.40" y1="361.96" x2="62.80" y2="361.96" stroke="#888" stroke-width="0.5" />
<line x1="66.06" y1="348.50" x2="66.06" y2="359.84" stroke="#888" stroke-width="0.5" />
<line x1="64.86" y1="348.50" x2="67.26" y2="348.50" stroke="#888" stroke-width="0.5" />
<line x1="64.86" y1="359.84" x2="67.26" y2="359.84" stroke="#888" stroke-width="0.5" />
<line x1="70.53" y1="342.84" x2="70.53" y2="357.00" stroke="#888" stroke-width="0.5" />
<line x1="69.33" y1="342.84" x2="71.73" y2="342.84" stroke="#888" stroke-width="0.5" />
<line x1="69.33" y1="357.00" x2="71.73" y2="357.00" stroke="#888" stroke-width="0.5" />
<line x1="74.99" y1="336.49" x2="74.99" y2="353.35" stroke="#888" stroke-width="0.5" />
<line x1="73.79" y1="336.49" x2="76.19" y2="336.49" stroke="#888" stroke-width="0.5" />
<line x1="73.79" y1="353.35" x2="76.19" y2="353.35" stroke="#888" stroke-width="0.5" />
<line x1="79.45" y1="329.78" x2="79.45" y2="348.92" stroke="#888" stroke-width="0.5" />
<line x1="78.25" y1="329.78" x2="80.65" y2="329.78" stroke="#888" stroke-width="0.5" />
<line x1="78.25" y1="348.92" x2="80.65" y2="348.92" stroke="#888" stroke-width="0.5" />
<line x1="83.91" y1="323.12" x2="83.91" y2="343.84" stroke="#888" stroke-width="0.5" />
<line x1="82.71" y1="323.12" x2="85.11" y2="323.12" stroke="#888" stroke-width="0.5" />
<line x1="82.71" y1="343.84" x2="85.11" y2="343.84" stroke="#888" stroke-width="0.5" />
<line x1="88.38" y1="316.98" x2="88.38" y2="338.37" stroke="#888" stroke-width="0.5" />
<line x1="87.17" y1="316.98" x2="89.58" y2="316.98" stroke="#888" stroke-width="0.5" />
<line x1="87.17" y1="338.37" x2="89.58" y2="338.37" stroke="#888" stroke-width="0.5" />
<line x1="92.84" y1="311.69" x2="92.84" y2="332.84" stroke="#888" stroke-width="0.5" />
<line x1="91.64" y1="311.69" x2="94.04" y2="311.69" stroke="#888" stroke-width="0.5" />
<line x1="91.64" y1="332.84" x2="94.04" y2="332.84" stroke="#888" stroke-width="0.5" />
<line x1="97.30" y1="307.39" x2="97.30" y2="327.61" stroke="#888" stroke-width="0.5" />
<line x1="96.10" y1="307.39" x2="98.50" y2="307.39" stroke="#888" stroke-width="0.5" />
<line x1="96.10" y1="327.61" x2="98.50" y2="327.61" stroke="#888" stroke-width="0.5" />
<line x1="101.76" y1="304.18" x2="101.76" y2="322.85" stroke="#888" stroke-width="0.5" />
<line x1="100.56" y1="304.18" x2="102.96" y2="304.18" stroke="#888" stroke-width="0.5" />
<line x1="100.56" y1="322.85" x2="102.96" y2="322.85" stroke="#888" stroke-width="0.5" />
<line x1="106.22" y1="301.98" x2="106.22" y2="318.65" stroke="#888" stroke-width="0.5" />
<line x1="105.02" y1="301.98" x2="107.42" y2="301.98" stroke="#888" stroke-width="0.5" />
<line x1="105.02" y1="318.65" x2="107.42" y2="318.65" stroke="#888" stroke-width="0.5" />
<line x1="110.69" y1="300.64" x2="110.69" y2="315.02" stroke="#888" stroke-width="0.5" />
<line x1="109.49" y1="300.64" x2="111.89" y2="300.64" stroke="#888" stroke-width="0.5" />
<line x1="109.49" y1="315.02" x2="111.89" y2="315.02" stroke="#888" stroke-width="0.5" />
<line x1="115.15" y1="299.96" x2="115.15" y2="311.95" stroke="#888" stroke-width="0.5" />
<line x1="113.95" y1="299.96" x2="116.35" y2="299.96" stroke="#888" stroke-width="0.5" />
<line x1="113.95" y1="311.95" x2="116.35" y2="311.95" stroke="#888" stroke-width="0.5" />
<line x1="119.61" y1="299.73" x2="119.61" y2="309.39" stroke="#888" stroke-width="0.5" />
<line x1="118.41" y1="299.73" x2="120.81" y2="299.73" stroke="#888" stroke-width="0.5" />
<line x1="118.41" y1="309.39" x2="120.81" y2="309.39" stroke="#888" stroke-width="0.5" />
<line x1="124.07" y1="299.78" x2="124.07" y2="307.31" stroke="#888" stroke-width="0.5" />
<line x1="122.87" y1="299.78" x2="125.27" y2="299.78" stroke="#888" stroke-width="0.5" />
<line x1="122.87" y1="307.31" x2="125.27" y2="307.31" stroke="#888" stroke-width="0.5" />
<line x1="128.54" y1="299.98" x2="128.54" y2="305.65" stroke="#888" stroke-width="0.5" />
<line x1="127.34" y1="299.98" x2="129.74" y2="299.98" stroke="#888" stroke-width="0.5" />
<line x1="127.34" y1="305.65" x2="129.74" y2="305.65" stroke="#888" stroke-width="0.5" />
<line x1="130.77" y1="300.10" x2="130.77" y2="304.95" stroke="#888" stroke-width="0.5" />
<line x1="129.57" y1="300.10" x2="131.97" y2="300.10" stroke="#888" stroke-width="0.5" />
<line x1="129.57" y1="304.95" x2="131.97" y2="304.95" stroke="#888" stroke-width="0.5" />
<rect x="24.80" y="366.10" width="2.2" height="2.2" fill="#2020ff"/>
<rect x="29.26" y="365.80" width="2.2" height="2.2" fill="#2020ff"/>
<rect x="33.73" y="365.38" width="2.2" height="2.2" fill="#2020ff"/>
<rect x="38.19" y="364.80" width="2.2" height="2.2" fill="#2020ff"/>
<rect x="42.65" y="363.98" width="2.2" height="2.2" fill="#2020ff"/>
<rect x="47.11" y="362.85" width="2.2" height="2.2" fill="#2020ff"/>
<rect x="51.57" y="361.31" width="2.2" height="2.2" fill="#2020ff"/>
<rect x="56.04" y="359.24" width="2.2" height="2.2" fill="#2020ff"/>
<rect x="60.50" y="356.53" width="2.2" height="2.2" fill="#2020ff"/>
<rect x="64.96" y="353.07" width="2.2" height="2.2" fill="#2020ff"/>
<rect x="69.43" y="348.82" width="2.2" height="2.2" fill="#2020ff"/>
<rect x="73.89" y="343.82" width="2.2" height="2.2" fill="#2020ff"/>
<rect x="78.35" y="338.25" width="2.2" height="2.2" fill="#2020ff"/>
<rect x="82.81" y="332.38" width="2.2" height="2.2" fill="#2020ff"/>
<rect x="87.28" y="326.57" width="2.2" height="2.2" fill="#2020ff"/>
<rect x="91.74" y="321.16" width="2.2" height="2.2" fill="#2020ff"/>
<rect x="96.20" y="316.40" width="2.2" height="2.2" fill="#2020ff"/>
<rect x="100.66" y="312.41" width="2.2" height="2.2" fill="#2020ff"/>
<rect x="105.12" y="309.21" width="2.2" height="2.2" fill="#2020ff"/>
<rect x="109.59" y="306.73" width="2.2" height="2.2" fill="#2020ff"/>
<rect x="114.05" y="304.85" width="2.2" height="2.2" fill="#2020ff"/>
<rect x="118.51" y="303.46" width="2.2" height="2.2" fill="#2020ff"/>
<rect x="122.97" y="302.45" width="2.2" height="2.2" fill="#2020ff"/>
<rect x="127.44" y="301.71" width="2.2" height="2.2" fill="#2020ff"/>
<rect x="129.67" y="301.43" width="2.2" height="2.2" fill="#2020ff"/>
<path d="M25.90,367.20 L30.36,366.55 L34.83,365.31 L39.29,363.03 L43.75,359.03 L48.21,352.53 L52.67,343.27 L57.14,332.24 L61.60,321.60 L66.06,313.23 L70.53,307.63 L74.99,304.29 L79.45,302.42 L83.91,301.42 L88.38,300.90 L92.84,300.62 L97.30,300.48 L101.76,300.41 L106.22,300.37 L110.69,300.35 L115.15,300.34" fill="none" stroke="#ff4040" stroke-width="0.6"/>
<line x1="39.29" y1="360.63" x2="39.29" y2="365.44" stroke="#888" stroke-width="0.5" />
<line x1="38.09" y1="360.63" x2="40.49" y2="360.63" stroke="#888" stroke-width="0.5" />
<line x1="38.09" y1="365.44" x2="40.49" y2="365.44" stroke="#888" stroke-width="0.5" />
<line x1="43.75" y1="356.62" x2="43.75" y2="361.43" stroke="#888" stroke-width="0.5" />
<line x1="42.55" y1="356.62" x2="44.95" y2="356.62" stroke="#888" stroke-width="0.5" />
<line x1="42.55" y1="361.43" x2="44.95" y2="361.43" stroke="#888" stroke-width="0.5" />
<line x1="48.21" y1="350.12" x2="48.21" y2="354.94" stroke="#888" stroke-width="0.5" />
<line x1="47.01" y1="350.12" x2="49.41" y2="350.12" stroke="#888" stroke-width="0.5" />
<line x1="47.01" y1="354.94" x2="49.41" y2="354.94" stroke="#888" stroke-width="0.5" />
<line x1="52.67" y1="340.86" x2="52.67" y2="345.68" stroke="#888" stroke-width="0.5" />
<line x1="51.47" y1="340.86" x2="53.88" y2="340.86" stroke="#888" stroke-width="0.5" />
<line x1="51.47" y1="345.68" x2="53.88" y2="345.68" stroke="#888" stroke-width="0.5" />
<line x1="57.14" y1="329.83" x2="57.14" y2="334.65" stroke="#888" stroke-width="0.5" />
<line x1="55.94" y1="329.83" x2="58.34" y2="329.83" stroke="#888" stroke-width="0.5" />
<line x1="55.94" y1="334.65" x2="58.34" y2="334.65" stroke="#888" stroke-width="0.5" />
<line x1="61.60" y1="319.20" x2="61.60" y2="324.01" stroke="#888" stroke-width="0.5" />
<line x1="60.40" y1="319.20" x2="62.80" y2="319.20" stroke="#888" stroke-width="0.5" />
<line x1="60.40" y1="324.01" x2="62.80" y2="324.01" stroke="#888" stroke-width="0.5" />
<line x1="66.06" y1="310.82" x2="66.06" y2="315.64" stroke="#888" stroke-width="0.5" />
<line x1="64.86" y1="310.82" x2="67.26" y2="310.82" stroke="#888" stroke-width="0.5" />
<line x1="64.86" y1="315.64" x2="67.26" y2="315.64" stroke="#888" stroke-width="0.5" />
<line x1="70.53" y1="305.22" x2="70.53" y2="310.04" stroke="#888" stroke-width="0.5" />
<line x1="69.33" y1="305.22" x2="71.73" y2="305.22" stroke="#888" stroke-width="0.5" />
<line x1="69.33" y1="310.04" x2="71.73" y2="310.04" stroke="#888" stroke-width="0.5" />
<line x1="74.99" y1="301.88" x2="74.99" y2="306.70" stroke="#888" stroke-width="0.5" />
<line x1="73.79" y1="301.88" x2="76.19" y2="301.88" stroke="#888" stroke-width="0.5" />
<line x1="73.79" y1="306.70" x2="76.19" y2="306.70" stroke="#888" stroke-width="0.5" />
<line x1="79.45" y1="300.02" x2="79.45" y2="304.83" stroke="#888" stroke-width="0.5" />
<line x1="78.25" y1="300.02" x2="80.65" y2="300.02" stroke="#888" stroke-width="0.5" />
<line x1="78.25" y1="304.83" x2="80.65" y2="304.83" stroke="#888" stroke-width="0.5" />
<line x1="83.91" y1="299.01" x2="83.91" y2="303.83" stroke="#888" stroke-width="0.5" />
<line x1="82.71" y1="299.01" x2="85.11" y2="299.01" stroke="#888" stroke-width="0.5" />
<line x1="82.71" y1="303.83" x2="85.11" y2="303.83" stroke="#888" stroke-width="0.5" />
<rect x="24.80" y="366.10" width="2.2" height="2.2" fill="#ff1a1a"/>
<rect x="29.26" y="365.45" width="2.2" height="2.2" fill="#ff1a1a"/>
<rect x="33.73" y="364.21" width="2.2" height="2.2" fill="#ff1a1a"/>
<rect x="38.19" y="361.93" width="2.2" height="2.2" fill="#ff1a1a"/>
<rect x="42.65" y="357.93" width="2.2" height="2.2" fill="#ff1a1a"/>
<rect x="47.11" y="351.43" width="2.2" height="2.2" fill="#ff1a1a"/>
<rect x="51.57" y="342.17" width="2.2" height="2.2" fill="#ff1a1a"/>
<rect x="56.04" y="331.14" width="2.2" height="2.2" fill="#ff1a1a"/>
<rect x="60.50" y="320.50" width="2.2" height="2.2" fill="#ff1a1a"/>
<rect x="64.96" y="312.13" width="2.2" height="2.2" fill="#ff1a1a"/>
<rect x="69.43" y="306.53" width="2.2" height="2.2" fill="#ff1a1a"/>
<rect x="73.89" y="303.19" width="2.2" height="2.2" fill="#ff1a1a"/>
<rect x="78.35" y="301.32" width="2.2" height="2.2" fill="#ff1a1a"/>
<rect x="82.81" y="300.32" width="2.2" height="2.2" fill="#ff1a1a"/>
<rect x="87.28" y="299.80" width="2.2" height="2.2" fill="#ff1a1a"/>
<rect x="91.74" y="299.52" width="2.2" height="2.2" fill="#ff1a1a"/>
<rect x="96.20" y="299.38" width="2.2" height="2.2" fill="#ff1a1a"/>
<rect x="100.66" y="299.31" width="2.2" height="2.2" fill="#ff1a1a"/>
<rect x="105.12" y="299.27" width="2.2" height="2.2" fill="#ff1a1a"/>
<rect x="109.59" y="299.25" width="2.2" height="2.2" fill="#ff1a1a"/>
<rect x="114.05" y="299.24" width="2.2" height="2.2" fill="#ff1a1a"/>
<line x1="163.30" y1="290.50" x2="163.30" y2="366.50" stroke="#777" stroke-width="0.9" />
<line x1="162.30" y1="366.50" x2="163.30" y2="366.50" stroke="#777" stroke-width="0.4" />
<line x1="162.30" y1="359.60" x2="163.30" y2="359.60" stroke="#777" stroke-width="0.4" />
<line x1="162.30" y1="352.70" x2="163.30" y2="352.70" stroke="#777" stroke-width="0.4" />
<line x1="162.30" y1="345.80" x2="163.30" y2="345.80" stroke="#777" stroke-width="0.4" />
<line x1="162.30" y1="338.90" x2="163.30" y2="338.90" stroke="#777" stroke-width="0.4" />
<line x1="162.30" y1="332.00" x2="163.30" y2="332.00" stroke="#777" stroke-width="0.4" />
<line x1="162.30" y1="325.10" x2="163.30" y2="325.10" stroke="#777" stroke-width="0.4" />
<line x1="162.30" y1="318.20" x2="163.30" y2="318.20" stroke="#777" stroke-width="0.4" />
<line x1="162.30" y1="311.30" x2="163.30" y2="311.30" stroke="#777" stroke-width="0.4" />
<line x1="162.30" y1="304.40" x2="163.30" y2="304.40" stroke="#777" stroke-width="0.4" />
<line x1="162.30" y1="297.50" x2="163.30" y2="297.50" stroke="#777" stroke-width="0.4" />
<line x1="163.30" y1="367.20" x2="277.60" y2="367.20" stroke="#666" stroke-width="1.2" />
<line x1="161.80" y1="366.50" x2="163.30" y2="366.50" stroke="#333" stroke-width="0.7" />
<text x="161.50" y="368.60" font-size="5.9" text-anchor="end" font-weight="bold" fill="#222" stroke="#222" stroke-width="0.12" >0</text>
<line x1="161.80" y1="332.00" x2="163.30" y2="332.00" stroke="#333" stroke-width="0.7" />
<text x="161.50" y="334.10" font-size="5.9" text-anchor="end" font-weight="bold" fill="#222" stroke="#222" stroke-width="0.12" >50</text>
<line x1="161.80" y1="297.50" x2="163.30" y2="297.50" stroke="#333" stroke-width="0.7" />
<text x="161.50" y="299.60" font-size="5.9" text-anchor="end" font-weight="bold" fill="#222" stroke="#222" stroke-width="0.12" >100</text>
<line x1="163.30" y1="366.50" x2="163.30" y2="368.00" stroke="#333" stroke-width="0.7" />
<text x="163.30" y="373.70" font-size="5.7" text-anchor="middle" font-weight="bold" fill="#222" stroke="#222" stroke-width="0.12" >0</text>
<line x1="177.10" y1="366.50" x2="177.10" y2="368.00" stroke="#333" stroke-width="0.7" />
<text x="177.10" y="373.70" font-size="5.7" text-anchor="middle" font-weight="bold" fill="#222" stroke="#222" stroke-width="0.12" >48</text>
<line x1="190.90" y1="366.50" x2="190.90" y2="368.00" stroke="#333" stroke-width="0.7" />
<text x="190.90" y="373.70" font-size="5.7" text-anchor="middle" font-weight="bold" fill="#222" stroke="#222" stroke-width="0.12" >96</text>
<line x1="204.70" y1="366.50" x2="204.70" y2="368.00" stroke="#333" stroke-width="0.7" />
<text x="204.70" y="373.70" font-size="5.7" text-anchor="middle" font-weight="bold" fill="#222" stroke="#222" stroke-width="0.12" >144</text>
<line x1="218.50" y1="366.50" x2="218.50" y2="368.00" stroke="#333" stroke-width="0.7" />
<text x="218.50" y="373.70" font-size="5.7" text-anchor="middle" font-weight="bold" fill="#222" stroke="#222" stroke-width="0.12" >192</text>
<line x1="232.30" y1="366.50" x2="232.30" y2="368.00" stroke="#333" stroke-width="0.7" />
<text x="232.30" y="373.70" font-size="5.7" text-anchor="middle" font-weight="bold" fill="#222" stroke="#222" stroke-width="0.12" >240</text>
<line x1="246.10" y1="366.50" x2="246.10" y2="368.00" stroke="#333" stroke-width="0.7" />
<text x="246.10" y="373.70" font-size="5.7" text-anchor="middle" font-weight="bold" fill="#222" stroke="#222" stroke-width="0.12" >288</text>
<line x1="259.90" y1="366.50" x2="259.90" y2="368.00" stroke="#333" stroke-width="0.7" />
<text x="259.90" y="373.70" font-size="5.7" text-anchor="middle" font-weight="bold" fill="#222" stroke="#222" stroke-width="0.12" >336</text>
<line x1="273.70" y1="366.50" x2="273.70" y2="368.00" stroke="#333" stroke-width="0.7" />
<text x="273.70" y="373.70" font-size="5.7" text-anchor="middle" font-weight="bold" fill="#222" stroke="#222" stroke-width="0.12" >384</text>
<text x="224.20" y="380.60" font-size="6.0" text-anchor="middle" font-weight="normal" fill="#333" stroke="#333" stroke-width="0.14" >(h)</text>
<text x="224.30" y="290.70" font-size="7.3" text-anchor="middle" font-weight="normal" fill="#222" stroke="#222" stroke-width="0.14" >HT-29</text>
<text x="0" y="0" font-size="6.2" text-anchor="middle" font-weight="normal" fill="#333" stroke="#333" stroke-width="0.14" transform="translate(149.50,328.00) rotate(-90)" dominant-baseline="central">Confluence (%)</text>
<path d="M163.30,366.50 L170.20,365.64 L177.10,364.03 L184.00,361.11 L190.90,356.10 L197.80,348.30 L204.70,337.87 L211.60,326.36 L218.50,316.10 L225.40,308.55 L232.30,303.74 L239.20,299.36 L246.10,299.36 L253.00,299.36 L259.90,297.98 L266.80,297.98" fill="none" stroke="#666" stroke-width="0.6"/>
<line x1="163.30" y1="365.46" x2="163.30" y2="367.54" stroke="#888" stroke-width="0.5" />
<line x1="162.10" y1="365.46" x2="164.50" y2="365.46" stroke="#888" stroke-width="0.5" />
<line x1="162.10" y1="367.54" x2="164.50" y2="367.54" stroke="#888" stroke-width="0.5" />
<line x1="170.20" y1="364.61" x2="170.20" y2="366.68" stroke="#888" stroke-width="0.5" />
<line x1="169.00" y1="364.61" x2="171.40" y2="364.61" stroke="#888" stroke-width="0.5" />
<line x1="169.00" y1="366.68" x2="171.40" y2="366.68" stroke="#888" stroke-width="0.5" />
<line x1="177.10" y1="363.00" x2="177.10" y2="365.07" stroke="#888" stroke-width="0.5" />
<line x1="175.90" y1="363.00" x2="178.30" y2="363.00" stroke="#888" stroke-width="0.5" />
<line x1="175.90" y1="365.07" x2="178.30" y2="365.07" stroke="#888" stroke-width="0.5" />
<line x1="184.00" y1="360.07" x2="184.00" y2="362.14" stroke="#888" stroke-width="0.5" />
<line x1="182.80" y1="360.07" x2="185.20" y2="360.07" stroke="#888" stroke-width="0.5" />
<line x1="182.80" y1="362.14" x2="185.20" y2="362.14" stroke="#888" stroke-width="0.5" />
<line x1="190.90" y1="355.06" x2="190.90" y2="357.13" stroke="#888" stroke-width="0.5" />
<line x1="189.70" y1="355.06" x2="192.10" y2="355.06" stroke="#888" stroke-width="0.5" />
<line x1="189.70" y1="357.13" x2="192.10" y2="357.13" stroke="#888" stroke-width="0.5" />
<line x1="197.80" y1="347.27" x2="197.80" y2="349.34" stroke="#888" stroke-width="0.5" />
<line x1="196.60" y1="347.27" x2="199.00" y2="347.27" stroke="#888" stroke-width="0.5" />
<line x1="196.60" y1="349.34" x2="199.00" y2="349.34" stroke="#888" stroke-width="0.5" />
<line x1="204.70" y1="336.83" x2="204.70" y2="338.90" stroke="#888" stroke-width="0.5" />
<line x1="203.50" y1="336.83" x2="205.90" y2="336.83" stroke="#888" stroke-width="0.5" />
<line x1="203.50" y1="338.90" x2="205.90" y2="338.90" stroke="#888" stroke-width="0.5" />
<line x1="211.60" y1="325.32" x2="211.60" y2="327.39" stroke="#888" stroke-width="0.5" />
<line x1="210.40" y1="325.32" x2="212.80" y2="325.32" stroke="#888" stroke-width="0.5" />
<line x1="210.40" y1="327.39" x2="212.80" y2="327.39" stroke="#888" stroke-width="0.5" />
<line x1="218.50" y1="315.07" x2="218.50" y2="317.14" stroke="#888" stroke-width="0.5" />
<line x1="217.30" y1="315.07" x2="219.70" y2="315.07" stroke="#888" stroke-width="0.5" />
<line x1="217.30" y1="317.14" x2="219.70" y2="317.14" stroke="#888" stroke-width="0.5" />
<line x1="225.40" y1="307.52" x2="225.40" y2="309.59" stroke="#888" stroke-width="0.5" />
<line x1="224.20" y1="307.52" x2="226.60" y2="307.52" stroke="#888" stroke-width="0.5" />
<line x1="224.20" y1="309.59" x2="226.60" y2="309.59" stroke="#888" stroke-width="0.5" />
<line x1="232.30" y1="302.71" x2="232.30" y2="304.78" stroke="#888" stroke-width="0.5" />
<line x1="231.10" y1="302.71" x2="233.50" y2="302.71" stroke="#888" stroke-width="0.5" />
<line x1="231.10" y1="304.78" x2="233.50" y2="304.78" stroke="#888" stroke-width="0.5" />
<line x1="239.20" y1="298.33" x2="239.20" y2="300.40" stroke="#888" stroke-width="0.5" />
<line x1="238.00" y1="298.33" x2="240.40" y2="298.33" stroke="#888" stroke-width="0.5" />
<line x1="238.00" y1="300.40" x2="240.40" y2="300.40" stroke="#888" stroke-width="0.5" />
<line x1="246.10" y1="298.33" x2="246.10" y2="300.40" stroke="#888" stroke-width="0.5" />
<line x1="244.90" y1="298.33" x2="247.30" y2="298.33" stroke="#888" stroke-width="0.5" />
<line x1="244.90" y1="300.40" x2="247.30" y2="300.40" stroke="#888" stroke-width="0.5" />
<line x1="253.00" y1="298.33" x2="253.00" y2="300.40" stroke="#888" stroke-width="0.5" />
<line x1="251.80" y1="298.33" x2="254.20" y2="298.33" stroke="#888" stroke-width="0.5" />
<line x1="251.80" y1="300.40" x2="254.20" y2="300.40" stroke="#888" stroke-width="0.5" />
<line x1="259.90" y1="296.95" x2="259.90" y2="299.02" stroke="#888" stroke-width="0.5" />
<line x1="258.70" y1="296.95" x2="261.10" y2="296.95" stroke="#888" stroke-width="0.5" />
<line x1="258.70" y1="299.02" x2="261.10" y2="299.02" stroke="#888" stroke-width="0.5" />
<line x1="266.80" y1="296.95" x2="266.80" y2="299.02" stroke="#888" stroke-width="0.5" />
<line x1="265.60" y1="296.95" x2="268.00" y2="296.95" stroke="#888" stroke-width="0.5" />
<line x1="265.60" y1="299.02" x2="268.00" y2="299.02" stroke="#888" stroke-width="0.5" />
<rect x="162.20" y="365.40" width="2.2" height="2.2" fill="#ff2020"/>
<rect x="169.10" y="364.54" width="2.2" height="2.2" fill="#ff2020"/>
<rect x="176.00" y="362.93" width="2.2" height="2.2" fill="#ff2020"/>
<rect x="182.90" y="360.01" width="2.2" height="2.2" fill="#ff2020"/>
<rect x="189.80" y="355.00" width="2.2" height="2.2" fill="#ff2020"/>
<rect x="196.70" y="347.20" width="2.2" height="2.2" fill="#ff2020"/>
<rect x="203.60" y="336.77" width="2.2" height="2.2" fill="#ff2020"/>
<rect x="210.50" y="325.26" width="2.2" height="2.2" fill="#ff2020"/>
<rect x="217.40" y="315.00" width="2.2" height="2.2" fill="#ff2020"/>
<rect x="224.30" y="307.45" width="2.2" height="2.2" fill="#ff2020"/>
<rect x="231.20" y="302.64" width="2.2" height="2.2" fill="#ff2020"/>
<rect x="238.10" y="298.26" width="2.2" height="2.2" fill="#ff2020"/>
<rect x="245.00" y="298.26" width="2.2" height="2.2" fill="#ff2020"/>
<rect x="251.90" y="298.26" width="2.2" height="2.2" fill="#ff2020"/>
<rect x="258.80" y="296.88" width="2.2" height="2.2" fill="#ff2020"/>
<rect x="265.70" y="296.88" width="2.2" height="2.2" fill="#ff2020"/>
<path d="M163.30,366.50 L170.20,365.87 L177.10,364.55 L184.00,361.84 L190.90,356.66 L197.80,347.86 L204.70,335.56 L211.60,322.36 L218.50,311.65 L225.40,304.77 L232.30,300.98 L239.20,297.78 L246.10,297.78 L253.00,297.78 L259.90,297.78 L266.80,297.78" fill="none" stroke="#666" stroke-width="0.6"/>
<line x1="163.30" y1="365.46" x2="163.30" y2="367.54" stroke="#888" stroke-width="0.5" />
<line x1="162.10" y1="365.46" x2="164.50" y2="365.46" stroke="#888" stroke-width="0.5" />
<line x1="162.10" y1="367.54" x2="164.50" y2="367.54" stroke="#888" stroke-width="0.5" />
<line x1="170.20" y1="364.84" x2="170.20" y2="366.91" stroke="#888" stroke-width="0.5" />
<line x1="169.00" y1="364.84" x2="171.40" y2="364.84" stroke="#888" stroke-width="0.5" />
<line x1="169.00" y1="366.91" x2="171.40" y2="366.91" stroke="#888" stroke-width="0.5" />
<line x1="177.10" y1="363.51" x2="177.10" y2="365.58" stroke="#888" stroke-width="0.5" />
<line x1="175.90" y1="363.51" x2="178.30" y2="363.51" stroke="#888" stroke-width="0.5" />
<line x1="175.90" y1="365.58" x2="178.30" y2="365.58" stroke="#888" stroke-width="0.5" />
<line x1="184.00" y1="360.80" x2="184.00" y2="362.87" stroke="#888" stroke-width="0.5" />
<line x1="182.80" y1="360.80" x2="185.20" y2="360.80" stroke="#888" stroke-width="0.5" />
<line x1="182.80" y1="362.87" x2="185.20" y2="362.87" stroke="#888" stroke-width="0.5" />
<line x1="190.90" y1="355.62" x2="190.90" y2="357.69" stroke="#888" stroke-width="0.5" />
<line x1="189.70" y1="355.62" x2="192.10" y2="355.62" stroke="#888" stroke-width="0.5" />
<line x1="189.70" y1="357.69" x2="192.10" y2="357.69" stroke="#888" stroke-width="0.5" />
<line x1="197.80" y1="346.82" x2="197.80" y2="348.89" stroke="#888" stroke-width="0.5" />
<line x1="196.60" y1="346.82" x2="199.00" y2="346.82" stroke="#888" stroke-width="0.5" />
<line x1="196.60" y1="348.89" x2="199.00" y2="348.89" stroke="#888" stroke-width="0.5" />
<line x1="204.70" y1="334.53" x2="204.70" y2="336.60" stroke="#888" stroke-width="0.5" />
<line x1="203.50" y1="334.53" x2="205.90" y2="334.53" stroke="#888" stroke-width="0.5" />
<line x1="203.50" y1="336.60" x2="205.90" y2="336.60" stroke="#888" stroke-width="0.5" />
<line x1="211.60" y1="321.33" x2="211.60" y2="323.40" stroke="#888" stroke-width="0.5" />
<line x1="210.40" y1="321.33" x2="212.80" y2="321.33" stroke="#888" stroke-width="0.5" />
<line x1="210.40" y1="323.40" x2="212.80" y2="323.40" stroke="#888" stroke-width="0.5" />
<line x1="218.50" y1="310.61" x2="218.50" y2="312.68" stroke="#888" stroke-width="0.5" />
<line x1="217.30" y1="310.61" x2="219.70" y2="310.61" stroke="#888" stroke-width="0.5" />
<line x1="217.30" y1="312.68" x2="219.70" y2="312.68" stroke="#888" stroke-width="0.5" />
<line x1="225.40" y1="303.73" x2="225.40" y2="305.80" stroke="#888" stroke-width="0.5" />
<line x1="224.20" y1="303.73" x2="226.60" y2="303.73" stroke="#888" stroke-width="0.5" />
<line x1="224.20" y1="305.80" x2="226.60" y2="305.80" stroke="#888" stroke-width="0.5" />
<line x1="232.30" y1="299.95" x2="232.30" y2="302.02" stroke="#888" stroke-width="0.5" />
<line x1="231.10" y1="299.95" x2="233.50" y2="299.95" stroke="#888" stroke-width="0.5" />
<line x1="231.10" y1="302.02" x2="233.50" y2="302.02" stroke="#888" stroke-width="0.5" />
<line x1="239.20" y1="296.74" x2="239.20" y2="298.81" stroke="#888" stroke-width="0.5" />
<line x1="238.00" y1="296.74" x2="240.40" y2="296.74" stroke="#888" stroke-width="0.5" />
<line x1="238.00" y1="298.81" x2="240.40" y2="298.81" stroke="#888" stroke-width="0.5" />
<line x1="246.10" y1="296.74" x2="246.10" y2="298.81" stroke="#888" stroke-width="0.5" />
<line x1="244.90" y1="296.74" x2="247.30" y2="296.74" stroke="#888" stroke-width="0.5" />
<line x1="244.90" y1="298.81" x2="247.30" y2="298.81" stroke="#888" stroke-width="0.5" />
<line x1="253.00" y1="296.74" x2="253.00" y2="298.81" stroke="#888" stroke-width="0.5" />
<line x1="251.80" y1="296.74" x2="254.20" y2="296.74" stroke="#888" stroke-width="0.5" />
<line x1="251.80" y1="298.81" x2="254.20" y2="298.81" stroke="#888" stroke-width="0.5" />
<line x1="259.90" y1="296.74" x2="259.90" y2="298.81" stroke="#888" stroke-width="0.5" />
<line x1="258.70" y1="296.74" x2="261.10" y2="296.74" stroke="#888" stroke-width="0.5" />
<line x1="258.70" y1="298.81" x2="261.10" y2="298.81" stroke="#888" stroke-width="0.5" />
<line x1="266.80" y1="296.74" x2="266.80" y2="298.81" stroke="#888" stroke-width="0.5" />
<line x1="265.60" y1="296.74" x2="268.00" y2="296.74" stroke="#888" stroke-width="0.5" />
<line x1="265.60" y1="298.81" x2="268.00" y2="298.81" stroke="#888" stroke-width="0.5" />
<rect x="162.20" y="365.40" width="2.2" height="2.2" fill="#2a2aff"/>
<rect x="169.10" y="364.77" width="2.2" height="2.2" fill="#2a2aff"/>
<rect x="176.00" y="363.45" width="2.2" height="2.2" fill="#2a2aff"/>
<rect x="182.90" y="360.74" width="2.2" height="2.2" fill="#2a2aff"/>
<rect x="189.80" y="355.56" width="2.2" height="2.2" fill="#2a2aff"/>
<rect x="196.70" y="346.76" width="2.2" height="2.2" fill="#2a2aff"/>
<rect x="203.60" y="334.46" width="2.2" height="2.2" fill="#2a2aff"/>
<rect x="210.50" y="321.26" width="2.2" height="2.2" fill="#2a2aff"/>
<rect x="217.40" y="310.55" width="2.2" height="2.2" fill="#2a2aff"/>
<rect x="224.30" y="303.67" width="2.2" height="2.2" fill="#2a2aff"/>
<rect x="231.20" y="299.88" width="2.2" height="2.2" fill="#2a2aff"/>
<rect x="238.10" y="296.68" width="2.2" height="2.2" fill="#2a2aff"/>
<rect x="245.00" y="296.68" width="2.2" height="2.2" fill="#2a2aff"/>
<rect x="251.90" y="296.68" width="2.2" height="2.2" fill="#2a2aff"/>
<rect x="258.80" y="296.68" width="2.2" height="2.2" fill="#2a2aff"/>
<rect x="265.70" y="296.68" width="2.2" height="2.2" fill="#2a2aff"/>
<text x="289.10" y="304.00" font-size="9.2" text-anchor="start" font-weight="normal" fill="#222" stroke="#222" stroke-width="0.14" >CD133</text>
<text x="317.90" y="301.40" font-size="5.4" text-anchor="start" font-weight="normal" fill="#222" stroke="#222" stroke-width="0.2" >+/high</text>
<rect x="306.80" y="305.80" width="6.90" height="6.80" fill="#ff0000" stroke="none" stroke-width="1" />
<text x="289.10" y="323.90" font-size="9.2" text-anchor="start" font-weight="normal" fill="#222" stroke="#222" stroke-width="0.14" >CD133</text>
<text x="317.90" y="321.30" font-size="5.4" text-anchor="start" font-weight="normal" fill="#222" stroke="#222" stroke-width="0.2" >ref</text>
<rect x="306.80" y="325.70" width="6.90" height="6.80" fill="#0c800c" stroke="none" stroke-width="1" />
<text x="289.10" y="343.50" font-size="9.2" text-anchor="start" font-weight="normal" fill="#222" stroke="#222" stroke-width="0.14" >CD133</text>
<text x="317.90" y="340.90" font-size="5.4" text-anchor="start" font-weight="normal" fill="#222" stroke="#222" stroke-width="0.2" >&#8211;/low</text>
<rect x="306.80" y="345.30" width="6.90" height="6.80" fill="#0000ff" stroke="none" stroke-width="1" />
</svg></body></html>
